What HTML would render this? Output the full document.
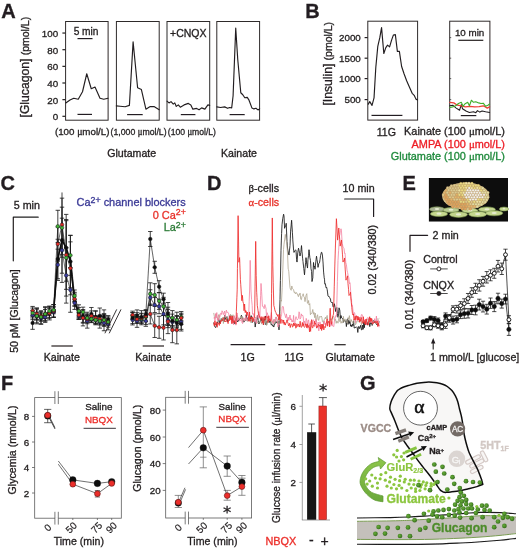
<!DOCTYPE html>
<html lang="en">
<head>
<meta charset="utf-8">
<title>Figure</title>
<style>
html,body{margin:0;padding:0;background:#fff;}
body{width:520px;height:550px;overflow:hidden;}
svg{display:block;font-family:"Liberation Sans",Arial,sans-serif;}
</style>
</head>
<body>
<svg width="520" height="550" viewBox="0 0 520 550">
<defs><filter id="soft" x="0" y="0" width="520" height="550" filterUnits="userSpaceOnUse"><feGaussianBlur stdDeviation="0.38"/></filter></defs>
<rect x="0" y="0" width="520" height="550" fill="#ffffff"/>
<g filter="url(#soft)">
<text x="1.2" y="18.3" font-size="20" fill="#231f20" stroke="#231f20" stroke-width="0.32" text-anchor="start" font-weight="bold" >A</text>
<text transform="translate(29.2 117.5) rotate(-90)" fill="#231f20" stroke="#231f20" stroke-width="0.32"><tspan font-size="12.2">[Glucagon]</tspan><tspan font-size="10.5" dx="3.2">(pmol/L)</tspan></text>
<text x="58.2" y="120.3" font-size="9.8" fill="#231f20" stroke="#231f20" stroke-width="0.32" text-anchor="end" font-weight="normal" >0</text>
<line x1="62.4" y1="116.3" x2="65.5" y2="116.3" stroke="#231f20" stroke-width="1.2" stroke-linecap="butt"/>
<text x="58.2" y="103.65" font-size="9.8" fill="#231f20" stroke="#231f20" stroke-width="0.32" text-anchor="end" font-weight="normal" >20</text>
<line x1="62.4" y1="99.65" x2="65.5" y2="99.65" stroke="#231f20" stroke-width="1.2" stroke-linecap="butt"/>
<text x="58.2" y="87" font-size="9.8" fill="#231f20" stroke="#231f20" stroke-width="0.32" text-anchor="end" font-weight="normal" >40</text>
<line x1="62.4" y1="83" x2="65.5" y2="83" stroke="#231f20" stroke-width="1.2" stroke-linecap="butt"/>
<text x="58.2" y="70.35" font-size="9.8" fill="#231f20" stroke="#231f20" stroke-width="0.32" text-anchor="end" font-weight="normal" >60</text>
<line x1="62.4" y1="66.35" x2="65.5" y2="66.35" stroke="#231f20" stroke-width="1.2" stroke-linecap="butt"/>
<text x="58.2" y="53.7" font-size="9.8" fill="#231f20" stroke="#231f20" stroke-width="0.32" text-anchor="end" font-weight="normal" >80</text>
<line x1="62.4" y1="49.7" x2="65.5" y2="49.7" stroke="#231f20" stroke-width="1.2" stroke-linecap="butt"/>
<text x="58.2" y="37.05" font-size="9.8" fill="#231f20" stroke="#231f20" stroke-width="0.32" text-anchor="end" font-weight="normal" >100</text>
<line x1="62.4" y1="33.05" x2="65.5" y2="33.05" stroke="#231f20" stroke-width="1.2" stroke-linecap="butt"/>
<rect x="65.6" y="21.5" width="42.5" height="98.7" fill="none" stroke="#2e2a2b" stroke-width="1"/>
<rect x="116.4" y="21.5" width="42.8" height="98.7" fill="none" stroke="#2e2a2b" stroke-width="1"/>
<rect x="167" y="21.5" width="42.7" height="98.7" fill="none" stroke="#2e2a2b" stroke-width="1"/>
<rect x="216.8" y="21.5" width="42.8" height="98.7" fill="none" stroke="#2e2a2b" stroke-width="1"/>
<text x="86.1" y="34.7" font-size="10.2" fill="#231f20" stroke="#231f20" stroke-width="0.32" text-anchor="middle" font-weight="normal" >5 min</text>
<line x1="77.5" y1="38.6" x2="92.5" y2="38.6" stroke="#231f20" stroke-width="1.2" stroke-linecap="butt"/>
<polyline points="65.75,103 70,100 73.75,98.25 78.25,99.25 82.5,91.75 86.75,73.75 91.25,88.75 95,87 100,98.25 103.75,99.25 108,98.25" fill="none" stroke="#231f20" stroke-width="1.15" stroke-linejoin="round" stroke-linecap="round" />
<line x1="77.5" y1="114.4" x2="92" y2="114.4" stroke="#231f20" stroke-width="1.2" stroke-linecap="butt"/>
<polyline points="116.3,105.9 120,106.3 125.1,106.8 129.4,105.4 133.1,41.9 137.6,87.8 141.4,89.6 145.9,109.2 150.2,106.6 154,106.6 159.2,109.7" fill="none" stroke="#231f20" stroke-width="1.15" stroke-linejoin="round" stroke-linecap="round" />
<line x1="127.1" y1="114.6" x2="142.7" y2="114.6" stroke="#231f20" stroke-width="1.2" stroke-linecap="butt"/>
<polyline points="167,101.13 169.01,102.89 171.02,101.63 173.27,104.14 174.78,102.89 176.29,106.4 178.29,104.89 180.3,107.15 184.07,104.89 188.33,103.39 190.84,104.89 192.85,109.16 196.61,108.41 199.12,109.66 201.63,107.9 204.89,109.16 207.9,104.89 209.66,105.4" fill="none" stroke="#231f20" stroke-width="1.15" stroke-linejoin="round" stroke-linecap="round" />
<line x1="180.8" y1="114.6" x2="195.4" y2="114.6" stroke="#231f20" stroke-width="1.2" stroke-linecap="butt"/>
<text x="170" y="36.6" font-size="10.5" fill="#231f20" stroke="#231f20" stroke-width="0.32" text-anchor="start" font-weight="normal" >+CNQX</text>
<polyline points="216.8,106.88 220.58,107.49 224.62,106.88 227.65,108.3 229.67,107.49 231.69,107.89 233.1,95.78 235.73,28.13 237.75,59.43 240.78,92.75 242.79,94.77 244.81,97.79 247.24,97.39 248.85,99.81 251.88,107.89 253.9,108.9 255.92,108.3 257.94,109.91 259.6,108.9" fill="none" stroke="#231f20" stroke-width="1.15" stroke-linejoin="round" stroke-linecap="round" />
<line x1="229.6" y1="114.6" x2="244.7" y2="114.6" stroke="#231f20" stroke-width="1.2" stroke-linecap="butt"/>
<text x="54.9" y="134.7" font-size="9.7" fill="#231f20" stroke="#231f20" stroke-width="0.32" text-anchor="start" font-weight="normal" textLength="54.6" lengthAdjust="spacingAndGlyphs">(100 <tspan font-family='"Liberation Serif", "DejaVu Serif", serif'>μ</tspan>mol/L)</text>
<text x="110.6" y="134.7" font-size="9.7" fill="#231f20" stroke="#231f20" stroke-width="0.32" text-anchor="start" font-weight="normal" textLength="56" lengthAdjust="spacingAndGlyphs">(1,000 <tspan font-family='"Liberation Serif", "DejaVu Serif", serif'>μ</tspan>mol/L)</text>
<text x="167.8" y="134.7" font-size="9.7" fill="#231f20" stroke="#231f20" stroke-width="0.32" text-anchor="start" font-weight="normal" textLength="48.2" lengthAdjust="spacingAndGlyphs">(100 <tspan font-family='"Liberation Serif", "DejaVu Serif", serif'>μ</tspan>mol/L)</text>
<text x="131.7" y="156.5" font-size="10.6" fill="#231f20" stroke="#231f20" stroke-width="0.32" text-anchor="middle" font-weight="normal" >Glutamate</text>
<text x="239" y="156.5" font-size="10.6" fill="#231f20" stroke="#231f20" stroke-width="0.32" text-anchor="middle" font-weight="normal" >Kainate</text>
<text x="305.2" y="17.8" font-size="20" fill="#231f20" stroke="#231f20" stroke-width="0.32" text-anchor="start" font-weight="bold" >B</text>
<text transform="translate(331.8 105.6) rotate(-90)" fill="#231f20" stroke="#231f20" stroke-width="0.32"><tspan font-size="12.2">[Insulin]</tspan><tspan font-size="10.5" dx="3.2">(pmol/L)</tspan></text>
<text x="360.8" y="41.4" font-size="9.8" fill="#231f20" stroke="#231f20" stroke-width="0.32" text-anchor="end" font-weight="normal" >2000</text>
<line x1="364.6" y1="37.6" x2="367.8" y2="37.6" stroke="#231f20" stroke-width="1.2" stroke-linecap="butt"/>
<line x1="449.7" y1="37.6" x2="451.2" y2="37.6" stroke="#231f20" stroke-width="0.7" stroke-linecap="butt"/>
<text x="360.8" y="62" font-size="9.8" fill="#231f20" stroke="#231f20" stroke-width="0.32" text-anchor="end" font-weight="normal" >1500</text>
<line x1="364.6" y1="58.2" x2="367.8" y2="58.2" stroke="#231f20" stroke-width="1.2" stroke-linecap="butt"/>
<line x1="449.7" y1="58.2" x2="451.2" y2="58.2" stroke="#231f20" stroke-width="0.7" stroke-linecap="butt"/>
<text x="360.8" y="82.4" font-size="9.8" fill="#231f20" stroke="#231f20" stroke-width="0.32" text-anchor="end" font-weight="normal" >1000</text>
<line x1="364.6" y1="78.6" x2="367.8" y2="78.6" stroke="#231f20" stroke-width="1.2" stroke-linecap="butt"/>
<line x1="449.7" y1="78.6" x2="451.2" y2="78.6" stroke="#231f20" stroke-width="0.7" stroke-linecap="butt"/>
<text x="360.8" y="103.4" font-size="9.8" fill="#231f20" stroke="#231f20" stroke-width="0.32" text-anchor="end" font-weight="normal" >500</text>
<line x1="364.6" y1="99.6" x2="367.8" y2="99.6" stroke="#231f20" stroke-width="1.2" stroke-linecap="butt"/>
<line x1="449.7" y1="99.6" x2="451.2" y2="99.6" stroke="#231f20" stroke-width="0.7" stroke-linecap="butt"/>
<rect x="367.8" y="21.2" width="49.8" height="98.9" fill="none" stroke="#2e2a2b" stroke-width="1"/>
<rect x="449.7" y="21.2" width="40.2" height="98.9" fill="none" stroke="#2e2a2b" stroke-width="1"/>
<polyline points="368.26,104.14 369.76,101.63 372.02,105.4 374.03,97.87 375.78,67.75 377.79,46.42 379.8,37.64 381.56,27.6 383.81,53.45 385.82,47.68 387.58,45.17 389.59,46.93 391.59,40.15 393.35,35.13 395.36,34.63 397.37,51.44 399.37,51.44 401.63,66.5 404.14,74.03 406.65,80.8 409.16,86.57 412.17,93.35 414.18,95.36 415.93,99.12 417.44,99.87" fill="none" stroke="#231f20" stroke-width="1.15" stroke-linejoin="round" stroke-linecap="round" />
<line x1="371.5" y1="115.4" x2="402.4" y2="115.4" stroke="#231f20" stroke-width="1.2" stroke-linecap="butt"/>
<text x="469.6" y="36.2" font-size="9.8" fill="#231f20" stroke="#231f20" stroke-width="0.32" text-anchor="middle" font-weight="normal" >10 min</text>
<line x1="458.3" y1="40.3" x2="483.3" y2="40.3" stroke="#231f20" stroke-width="1.2" stroke-linecap="butt"/>
<polyline points="449.8,105.8 452.7,105.2 456.2,108.1 459.6,110.2 461.3,104.6 462.5,108.7 466,111 469.4,112.5 473.5,111.8 475.8,112.7 477.5,110.6 479.8,112.1 482.1,111 485.6,111.8 489.6,112.5" fill="none" stroke="#231f20" stroke-width="1.1" stroke-linejoin="round" stroke-linecap="round" />
<polyline points="449.8,102.3 453.8,102.9 457.3,105.2 461.3,105.8 465.4,106.9 470,106.3 474.6,106.9 479.2,106.7 483.3,105.8 487.3,108.1 489.6,106.9" fill="none" stroke="#ee3f37" stroke-width="1.3" stroke-linejoin="round" stroke-linecap="round" />
<polyline points="449.8,107.5 452.7,106.9 455.6,105.8 458.5,103.5 461.3,102.3 463.1,106.3 464.8,104 467.7,102.3 469.4,105.8 471.4,100.2 473.5,102.3 475.8,101.7 478.7,102.9 481,103.5 483.3,103.2 485.6,106.3 487.9,105.2 489.6,104" fill="none" stroke="#3fae2a" stroke-width="1.1" stroke-linejoin="round" stroke-linecap="round" />
<line x1="460.8" y1="115.6" x2="476.3" y2="115.6" stroke="#231f20" stroke-width="1.2" stroke-linecap="butt"/>
<text x="386.4" y="135.8" font-size="10.6" fill="#231f20" stroke="#231f20" stroke-width="0.32" text-anchor="middle" font-weight="normal" >11G</text>
<text x="505" y="135.3" font-size="10.9" fill="#231f20" stroke="#231f20" stroke-width="0.32" text-anchor="end" font-weight="normal" >Kainate (100 <tspan font-family='"Liberation Serif", "DejaVu Serif", serif'>μ</tspan>mol/L)</text>
<text x="505" y="147.5" font-size="10.9" fill="#ed1c24" stroke="#ed1c24" stroke-width="0.32" text-anchor="end" font-weight="normal" >AMPA (100 <tspan font-family='"Liberation Serif", "DejaVu Serif", serif'>μ</tspan>mol/L)</text>
<text x="505" y="159.9" font-size="10.9" fill="#1f8a3c" stroke="#1f8a3c" stroke-width="0.32" text-anchor="end" font-weight="normal" >Glutamate (100 <tspan font-family='"Liberation Serif", "DejaVu Serif", serif'>μ</tspan>mol/L)</text>
<text x="0.6" y="189.8" font-size="20" fill="#231f20" stroke="#231f20" stroke-width="0.32" text-anchor="start" font-weight="bold" >C</text>
<text x="13.8" y="209.2" font-size="10.7" fill="#231f20" stroke="#231f20" stroke-width="0.32" text-anchor="start" font-weight="normal" >5 min</text>
<polyline points="38.2,217.2 13.3,217.2 13.3,260.8" fill="none" stroke="#231f20" stroke-width="1.2" stroke-linejoin="round" stroke-linecap="round" stroke-linecap="butt" stroke-linejoin="miter"/>
<text x="17.6" y="352.8" font-size="10.6" fill="#231f20" stroke="#231f20" stroke-width="0.32" text-anchor="start" font-weight="normal" transform="rotate(-90 17.6 352.8)" >50 pM [Glucagon]</text>
<text x="76.6" y="206.4" font-size="10.95" fill="#3b3a96" stroke="#3b3a96" stroke-width="0.32" text-anchor="start" font-weight="normal" >Ca<tspan font-size="8.8" dy="-3.6">2+</tspan><tspan dy="3.6"> channel blockers</tspan></text>
<text x="185.9" y="219" font-size="10.95" fill="#e8342c" stroke="#e8342c" stroke-width="0.32" text-anchor="end" font-weight="normal" >0 Ca<tspan font-size="8.8" dy="-3.6">2+</tspan></text>
<text x="185.9" y="231.4" font-size="10.95" fill="#2f7d3a" stroke="#2f7d3a" stroke-width="0.32" text-anchor="end" font-weight="normal" >La<tspan font-size="8.8" dy="-3.6">2+</tspan></text>
<line x1="32.6" y1="310.38" x2="32.6" y2="319.62" stroke="#161616" stroke-width="0.8" stroke-linecap="butt"/>
<line x1="30.4" y1="310.38" x2="34.8" y2="310.38" stroke="#161616" stroke-width="0.8" stroke-linecap="butt"/>
<line x1="30.4" y1="319.62" x2="34.8" y2="319.62" stroke="#161616" stroke-width="0.8" stroke-linecap="butt"/>
<line x1="36.8" y1="312.25" x2="36.8" y2="319.75" stroke="#161616" stroke-width="0.8" stroke-linecap="butt"/>
<line x1="34.6" y1="312.25" x2="39" y2="312.25" stroke="#161616" stroke-width="0.8" stroke-linecap="butt"/>
<line x1="34.6" y1="319.75" x2="39" y2="319.75" stroke="#161616" stroke-width="0.8" stroke-linecap="butt"/>
<line x1="41" y1="311.75" x2="41" y2="324.25" stroke="#161616" stroke-width="0.8" stroke-linecap="butt"/>
<line x1="38.8" y1="311.75" x2="43.2" y2="311.75" stroke="#161616" stroke-width="0.8" stroke-linecap="butt"/>
<line x1="38.8" y1="324.25" x2="43.2" y2="324.25" stroke="#161616" stroke-width="0.8" stroke-linecap="butt"/>
<line x1="45.2" y1="313.64" x2="45.2" y2="320.36" stroke="#161616" stroke-width="0.8" stroke-linecap="butt"/>
<line x1="43" y1="313.64" x2="47.4" y2="313.64" stroke="#161616" stroke-width="0.8" stroke-linecap="butt"/>
<line x1="43" y1="320.36" x2="47.4" y2="320.36" stroke="#161616" stroke-width="0.8" stroke-linecap="butt"/>
<line x1="49.4" y1="307.32" x2="49.4" y2="318.68" stroke="#161616" stroke-width="0.8" stroke-linecap="butt"/>
<line x1="47.2" y1="307.32" x2="51.6" y2="307.32" stroke="#161616" stroke-width="0.8" stroke-linecap="butt"/>
<line x1="47.2" y1="318.68" x2="51.6" y2="318.68" stroke="#161616" stroke-width="0.8" stroke-linecap="butt"/>
<line x1="53.6" y1="307.17" x2="53.6" y2="316.83" stroke="#161616" stroke-width="0.8" stroke-linecap="butt"/>
<line x1="51.4" y1="307.17" x2="55.8" y2="307.17" stroke="#161616" stroke-width="0.8" stroke-linecap="butt"/>
<line x1="51.4" y1="316.83" x2="55.8" y2="316.83" stroke="#161616" stroke-width="0.8" stroke-linecap="butt"/>
<line x1="57.8" y1="249.16" x2="57.8" y2="280.44" stroke="#161616" stroke-width="0.8" stroke-linecap="butt"/>
<line x1="55.6" y1="249.16" x2="60" y2="249.16" stroke="#161616" stroke-width="0.8" stroke-linecap="butt"/>
<line x1="55.6" y1="280.44" x2="60" y2="280.44" stroke="#161616" stroke-width="0.8" stroke-linecap="butt"/>
<line x1="62" y1="218.2" x2="62" y2="282.4" stroke="#161616" stroke-width="0.8" stroke-linecap="butt"/>
<line x1="59.8" y1="218.2" x2="64.2" y2="218.2" stroke="#161616" stroke-width="0.8" stroke-linecap="butt"/>
<line x1="59.8" y1="282.4" x2="64.2" y2="282.4" stroke="#161616" stroke-width="0.8" stroke-linecap="butt"/>
<line x1="66.2" y1="247.69" x2="66.2" y2="303.11" stroke="#161616" stroke-width="0.8" stroke-linecap="butt"/>
<line x1="64" y1="247.69" x2="68.4" y2="247.69" stroke="#161616" stroke-width="0.8" stroke-linecap="butt"/>
<line x1="64" y1="303.11" x2="68.4" y2="303.11" stroke="#161616" stroke-width="0.8" stroke-linecap="butt"/>
<line x1="70.4" y1="267.51" x2="70.4" y2="312.29" stroke="#161616" stroke-width="0.8" stroke-linecap="butt"/>
<line x1="68.2" y1="267.51" x2="72.6" y2="267.51" stroke="#161616" stroke-width="0.8" stroke-linecap="butt"/>
<line x1="68.2" y1="312.29" x2="72.6" y2="312.29" stroke="#161616" stroke-width="0.8" stroke-linecap="butt"/>
<line x1="74.6" y1="299.65" x2="74.6" y2="306.35" stroke="#161616" stroke-width="0.8" stroke-linecap="butt"/>
<line x1="72.4" y1="299.65" x2="76.8" y2="299.65" stroke="#161616" stroke-width="0.8" stroke-linecap="butt"/>
<line x1="72.4" y1="306.35" x2="76.8" y2="306.35" stroke="#161616" stroke-width="0.8" stroke-linecap="butt"/>
<line x1="78.8" y1="312.55" x2="78.8" y2="319.45" stroke="#161616" stroke-width="0.8" stroke-linecap="butt"/>
<line x1="76.6" y1="312.55" x2="81" y2="312.55" stroke="#161616" stroke-width="0.8" stroke-linecap="butt"/>
<line x1="76.6" y1="319.45" x2="81" y2="319.45" stroke="#161616" stroke-width="0.8" stroke-linecap="butt"/>
<line x1="83" y1="312.88" x2="83" y2="323.12" stroke="#161616" stroke-width="0.8" stroke-linecap="butt"/>
<line x1="80.8" y1="312.88" x2="85.2" y2="312.88" stroke="#161616" stroke-width="0.8" stroke-linecap="butt"/>
<line x1="80.8" y1="323.12" x2="85.2" y2="323.12" stroke="#161616" stroke-width="0.8" stroke-linecap="butt"/>
<line x1="87.2" y1="313.87" x2="87.2" y2="328.13" stroke="#161616" stroke-width="0.8" stroke-linecap="butt"/>
<line x1="85" y1="313.87" x2="89.4" y2="313.87" stroke="#161616" stroke-width="0.8" stroke-linecap="butt"/>
<line x1="85" y1="328.13" x2="89.4" y2="328.13" stroke="#161616" stroke-width="0.8" stroke-linecap="butt"/>
<line x1="91.4" y1="315.38" x2="91.4" y2="322.62" stroke="#161616" stroke-width="0.8" stroke-linecap="butt"/>
<line x1="89.2" y1="315.38" x2="93.6" y2="315.38" stroke="#161616" stroke-width="0.8" stroke-linecap="butt"/>
<line x1="89.2" y1="322.62" x2="93.6" y2="322.62" stroke="#161616" stroke-width="0.8" stroke-linecap="butt"/>
<line x1="95.6" y1="315.88" x2="95.6" y2="324.12" stroke="#161616" stroke-width="0.8" stroke-linecap="butt"/>
<line x1="93.4" y1="315.88" x2="97.8" y2="315.88" stroke="#161616" stroke-width="0.8" stroke-linecap="butt"/>
<line x1="93.4" y1="324.12" x2="97.8" y2="324.12" stroke="#161616" stroke-width="0.8" stroke-linecap="butt"/>
<line x1="99.8" y1="315.86" x2="99.8" y2="328.14" stroke="#161616" stroke-width="0.8" stroke-linecap="butt"/>
<line x1="97.6" y1="315.86" x2="102" y2="315.86" stroke="#161616" stroke-width="0.8" stroke-linecap="butt"/>
<line x1="97.6" y1="328.14" x2="102" y2="328.14" stroke="#161616" stroke-width="0.8" stroke-linecap="butt"/>
<line x1="104" y1="315.26" x2="104" y2="330.74" stroke="#161616" stroke-width="0.8" stroke-linecap="butt"/>
<line x1="101.8" y1="315.26" x2="106.2" y2="315.26" stroke="#161616" stroke-width="0.8" stroke-linecap="butt"/>
<line x1="101.8" y1="330.74" x2="106.2" y2="330.74" stroke="#161616" stroke-width="0.8" stroke-linecap="butt"/>
<line x1="108.2" y1="318.11" x2="108.2" y2="329.89" stroke="#161616" stroke-width="0.8" stroke-linecap="butt"/>
<line x1="106" y1="318.11" x2="110.4" y2="318.11" stroke="#161616" stroke-width="0.8" stroke-linecap="butt"/>
<line x1="106" y1="329.89" x2="110.4" y2="329.89" stroke="#161616" stroke-width="0.8" stroke-linecap="butt"/>
<line x1="32.6" y1="308.02" x2="32.6" y2="317.98" stroke="#161616" stroke-width="0.8" stroke-linecap="butt"/>
<line x1="30.4" y1="308.02" x2="34.8" y2="308.02" stroke="#161616" stroke-width="0.8" stroke-linecap="butt"/>
<line x1="30.4" y1="317.98" x2="34.8" y2="317.98" stroke="#161616" stroke-width="0.8" stroke-linecap="butt"/>
<line x1="36.8" y1="308.12" x2="36.8" y2="323.88" stroke="#161616" stroke-width="0.8" stroke-linecap="butt"/>
<line x1="34.6" y1="308.12" x2="39" y2="308.12" stroke="#161616" stroke-width="0.8" stroke-linecap="butt"/>
<line x1="34.6" y1="323.88" x2="39" y2="323.88" stroke="#161616" stroke-width="0.8" stroke-linecap="butt"/>
<line x1="41" y1="313.77" x2="41" y2="320.23" stroke="#161616" stroke-width="0.8" stroke-linecap="butt"/>
<line x1="38.8" y1="313.77" x2="43.2" y2="313.77" stroke="#161616" stroke-width="0.8" stroke-linecap="butt"/>
<line x1="38.8" y1="320.23" x2="43.2" y2="320.23" stroke="#161616" stroke-width="0.8" stroke-linecap="butt"/>
<line x1="45.2" y1="306.71" x2="45.2" y2="321.29" stroke="#161616" stroke-width="0.8" stroke-linecap="butt"/>
<line x1="43" y1="306.71" x2="47.4" y2="306.71" stroke="#161616" stroke-width="0.8" stroke-linecap="butt"/>
<line x1="43" y1="321.29" x2="47.4" y2="321.29" stroke="#161616" stroke-width="0.8" stroke-linecap="butt"/>
<line x1="49.4" y1="306.55" x2="49.4" y2="315.45" stroke="#161616" stroke-width="0.8" stroke-linecap="butt"/>
<line x1="47.2" y1="306.55" x2="51.6" y2="306.55" stroke="#161616" stroke-width="0.8" stroke-linecap="butt"/>
<line x1="47.2" y1="315.45" x2="51.6" y2="315.45" stroke="#161616" stroke-width="0.8" stroke-linecap="butt"/>
<line x1="53.6" y1="306.28" x2="53.6" y2="313.72" stroke="#161616" stroke-width="0.8" stroke-linecap="butt"/>
<line x1="51.4" y1="306.28" x2="55.8" y2="306.28" stroke="#161616" stroke-width="0.8" stroke-linecap="butt"/>
<line x1="51.4" y1="313.72" x2="55.8" y2="313.72" stroke="#161616" stroke-width="0.8" stroke-linecap="butt"/>
<line x1="57.8" y1="210.3" x2="57.8" y2="242.5" stroke="#161616" stroke-width="0.8" stroke-linecap="butt"/>
<line x1="55.6" y1="210.3" x2="60" y2="210.3" stroke="#161616" stroke-width="0.8" stroke-linecap="butt"/>
<line x1="55.6" y1="242.5" x2="60" y2="242.5" stroke="#161616" stroke-width="0.8" stroke-linecap="butt"/>
<line x1="62" y1="198.15" x2="62" y2="257.25" stroke="#161616" stroke-width="0.8" stroke-linecap="butt"/>
<line x1="59.8" y1="198.15" x2="64.2" y2="198.15" stroke="#161616" stroke-width="0.8" stroke-linecap="butt"/>
<line x1="59.8" y1="257.25" x2="64.2" y2="257.25" stroke="#161616" stroke-width="0.8" stroke-linecap="butt"/>
<line x1="66.2" y1="219.5" x2="66.2" y2="296.1" stroke="#161616" stroke-width="0.8" stroke-linecap="butt"/>
<line x1="64" y1="219.5" x2="68.4" y2="219.5" stroke="#161616" stroke-width="0.8" stroke-linecap="butt"/>
<line x1="64" y1="296.1" x2="68.4" y2="296.1" stroke="#161616" stroke-width="0.8" stroke-linecap="butt"/>
<line x1="70.4" y1="235.24" x2="70.4" y2="275.36" stroke="#161616" stroke-width="0.8" stroke-linecap="butt"/>
<line x1="68.2" y1="235.24" x2="72.6" y2="235.24" stroke="#161616" stroke-width="0.8" stroke-linecap="butt"/>
<line x1="68.2" y1="275.36" x2="72.6" y2="275.36" stroke="#161616" stroke-width="0.8" stroke-linecap="butt"/>
<line x1="74.6" y1="289.99" x2="74.6" y2="301.81" stroke="#161616" stroke-width="0.8" stroke-linecap="butt"/>
<line x1="72.4" y1="289.99" x2="76.8" y2="289.99" stroke="#161616" stroke-width="0.8" stroke-linecap="butt"/>
<line x1="72.4" y1="301.81" x2="76.8" y2="301.81" stroke="#161616" stroke-width="0.8" stroke-linecap="butt"/>
<line x1="78.8" y1="304.81" x2="78.8" y2="317.19" stroke="#161616" stroke-width="0.8" stroke-linecap="butt"/>
<line x1="76.6" y1="304.81" x2="81" y2="304.81" stroke="#161616" stroke-width="0.8" stroke-linecap="butt"/>
<line x1="76.6" y1="317.19" x2="81" y2="317.19" stroke="#161616" stroke-width="0.8" stroke-linecap="butt"/>
<line x1="83" y1="307.14" x2="83" y2="316.86" stroke="#161616" stroke-width="0.8" stroke-linecap="butt"/>
<line x1="80.8" y1="307.14" x2="85.2" y2="307.14" stroke="#161616" stroke-width="0.8" stroke-linecap="butt"/>
<line x1="80.8" y1="316.86" x2="85.2" y2="316.86" stroke="#161616" stroke-width="0.8" stroke-linecap="butt"/>
<line x1="87.2" y1="312.26" x2="87.2" y2="323.74" stroke="#161616" stroke-width="0.8" stroke-linecap="butt"/>
<line x1="85" y1="312.26" x2="89.4" y2="312.26" stroke="#161616" stroke-width="0.8" stroke-linecap="butt"/>
<line x1="85" y1="323.74" x2="89.4" y2="323.74" stroke="#161616" stroke-width="0.8" stroke-linecap="butt"/>
<line x1="91.4" y1="315.69" x2="91.4" y2="322.31" stroke="#161616" stroke-width="0.8" stroke-linecap="butt"/>
<line x1="89.2" y1="315.69" x2="93.6" y2="315.69" stroke="#161616" stroke-width="0.8" stroke-linecap="butt"/>
<line x1="89.2" y1="322.31" x2="93.6" y2="322.31" stroke="#161616" stroke-width="0.8" stroke-linecap="butt"/>
<line x1="95.6" y1="316.7" x2="95.6" y2="323.3" stroke="#161616" stroke-width="0.8" stroke-linecap="butt"/>
<line x1="93.4" y1="316.7" x2="97.8" y2="316.7" stroke="#161616" stroke-width="0.8" stroke-linecap="butt"/>
<line x1="93.4" y1="323.3" x2="97.8" y2="323.3" stroke="#161616" stroke-width="0.8" stroke-linecap="butt"/>
<line x1="99.8" y1="316.97" x2="99.8" y2="325.03" stroke="#161616" stroke-width="0.8" stroke-linecap="butt"/>
<line x1="97.6" y1="316.97" x2="102" y2="316.97" stroke="#161616" stroke-width="0.8" stroke-linecap="butt"/>
<line x1="97.6" y1="325.03" x2="102" y2="325.03" stroke="#161616" stroke-width="0.8" stroke-linecap="butt"/>
<line x1="104" y1="313.6" x2="104" y2="326.4" stroke="#161616" stroke-width="0.8" stroke-linecap="butt"/>
<line x1="101.8" y1="313.6" x2="106.2" y2="313.6" stroke="#161616" stroke-width="0.8" stroke-linecap="butt"/>
<line x1="101.8" y1="326.4" x2="106.2" y2="326.4" stroke="#161616" stroke-width="0.8" stroke-linecap="butt"/>
<line x1="108.2" y1="316.86" x2="108.2" y2="327.14" stroke="#161616" stroke-width="0.8" stroke-linecap="butt"/>
<line x1="106" y1="316.86" x2="110.4" y2="316.86" stroke="#161616" stroke-width="0.8" stroke-linecap="butt"/>
<line x1="106" y1="327.14" x2="110.4" y2="327.14" stroke="#161616" stroke-width="0.8" stroke-linecap="butt"/>
<line x1="32.6" y1="306.43" x2="32.6" y2="315.57" stroke="#161616" stroke-width="0.8" stroke-linecap="butt"/>
<line x1="30.4" y1="306.43" x2="34.8" y2="306.43" stroke="#161616" stroke-width="0.8" stroke-linecap="butt"/>
<line x1="30.4" y1="315.57" x2="34.8" y2="315.57" stroke="#161616" stroke-width="0.8" stroke-linecap="butt"/>
<line x1="36.8" y1="308.07" x2="36.8" y2="319.93" stroke="#161616" stroke-width="0.8" stroke-linecap="butt"/>
<line x1="34.6" y1="308.07" x2="39" y2="308.07" stroke="#161616" stroke-width="0.8" stroke-linecap="butt"/>
<line x1="34.6" y1="319.93" x2="39" y2="319.93" stroke="#161616" stroke-width="0.8" stroke-linecap="butt"/>
<line x1="41" y1="310.73" x2="41" y2="321.27" stroke="#161616" stroke-width="0.8" stroke-linecap="butt"/>
<line x1="38.8" y1="310.73" x2="43.2" y2="310.73" stroke="#161616" stroke-width="0.8" stroke-linecap="butt"/>
<line x1="38.8" y1="321.27" x2="43.2" y2="321.27" stroke="#161616" stroke-width="0.8" stroke-linecap="butt"/>
<line x1="45.2" y1="309.5" x2="45.2" y2="318.5" stroke="#161616" stroke-width="0.8" stroke-linecap="butt"/>
<line x1="43" y1="309.5" x2="47.4" y2="309.5" stroke="#161616" stroke-width="0.8" stroke-linecap="butt"/>
<line x1="43" y1="318.5" x2="47.4" y2="318.5" stroke="#161616" stroke-width="0.8" stroke-linecap="butt"/>
<line x1="49.4" y1="306.03" x2="49.4" y2="319.97" stroke="#161616" stroke-width="0.8" stroke-linecap="butt"/>
<line x1="47.2" y1="306.03" x2="51.6" y2="306.03" stroke="#161616" stroke-width="0.8" stroke-linecap="butt"/>
<line x1="47.2" y1="319.97" x2="51.6" y2="319.97" stroke="#161616" stroke-width="0.8" stroke-linecap="butt"/>
<line x1="53.6" y1="304.51" x2="53.6" y2="317.49" stroke="#161616" stroke-width="0.8" stroke-linecap="butt"/>
<line x1="51.4" y1="304.51" x2="55.8" y2="304.51" stroke="#161616" stroke-width="0.8" stroke-linecap="butt"/>
<line x1="51.4" y1="317.49" x2="55.8" y2="317.49" stroke="#161616" stroke-width="0.8" stroke-linecap="butt"/>
<line x1="57.8" y1="226.94" x2="57.8" y2="261.06" stroke="#161616" stroke-width="0.8" stroke-linecap="butt"/>
<line x1="55.6" y1="226.94" x2="60" y2="226.94" stroke="#161616" stroke-width="0.8" stroke-linecap="butt"/>
<line x1="55.6" y1="261.06" x2="60" y2="261.06" stroke="#161616" stroke-width="0.8" stroke-linecap="butt"/>
<line x1="62" y1="192.5" x2="62" y2="254.7" stroke="#161616" stroke-width="0.8" stroke-linecap="butt"/>
<line x1="59.8" y1="254.7" x2="64.2" y2="254.7" stroke="#161616" stroke-width="0.8" stroke-linecap="butt"/>
<line x1="66.2" y1="220.66" x2="66.2" y2="289.34" stroke="#161616" stroke-width="0.8" stroke-linecap="butt"/>
<line x1="64" y1="220.66" x2="68.4" y2="220.66" stroke="#161616" stroke-width="0.8" stroke-linecap="butt"/>
<line x1="64" y1="289.34" x2="68.4" y2="289.34" stroke="#161616" stroke-width="0.8" stroke-linecap="butt"/>
<line x1="70.4" y1="241.85" x2="70.4" y2="294.75" stroke="#161616" stroke-width="0.8" stroke-linecap="butt"/>
<line x1="68.2" y1="241.85" x2="72.6" y2="241.85" stroke="#161616" stroke-width="0.8" stroke-linecap="butt"/>
<line x1="68.2" y1="294.75" x2="72.6" y2="294.75" stroke="#161616" stroke-width="0.8" stroke-linecap="butt"/>
<line x1="74.6" y1="292.35" x2="74.6" y2="305.65" stroke="#161616" stroke-width="0.8" stroke-linecap="butt"/>
<line x1="72.4" y1="292.35" x2="76.8" y2="292.35" stroke="#161616" stroke-width="0.8" stroke-linecap="butt"/>
<line x1="72.4" y1="305.65" x2="76.8" y2="305.65" stroke="#161616" stroke-width="0.8" stroke-linecap="butt"/>
<line x1="78.8" y1="310.56" x2="78.8" y2="319.44" stroke="#161616" stroke-width="0.8" stroke-linecap="butt"/>
<line x1="76.6" y1="310.56" x2="81" y2="310.56" stroke="#161616" stroke-width="0.8" stroke-linecap="butt"/>
<line x1="76.6" y1="319.44" x2="81" y2="319.44" stroke="#161616" stroke-width="0.8" stroke-linecap="butt"/>
<line x1="83" y1="310.1" x2="83" y2="325.9" stroke="#161616" stroke-width="0.8" stroke-linecap="butt"/>
<line x1="80.8" y1="310.1" x2="85.2" y2="310.1" stroke="#161616" stroke-width="0.8" stroke-linecap="butt"/>
<line x1="80.8" y1="325.9" x2="85.2" y2="325.9" stroke="#161616" stroke-width="0.8" stroke-linecap="butt"/>
<line x1="87.2" y1="315.41" x2="87.2" y2="322.59" stroke="#161616" stroke-width="0.8" stroke-linecap="butt"/>
<line x1="85" y1="315.41" x2="89.4" y2="315.41" stroke="#161616" stroke-width="0.8" stroke-linecap="butt"/>
<line x1="85" y1="322.59" x2="89.4" y2="322.59" stroke="#161616" stroke-width="0.8" stroke-linecap="butt"/>
<line x1="91.4" y1="310.91" x2="91.4" y2="321.09" stroke="#161616" stroke-width="0.8" stroke-linecap="butt"/>
<line x1="89.2" y1="310.91" x2="93.6" y2="310.91" stroke="#161616" stroke-width="0.8" stroke-linecap="butt"/>
<line x1="89.2" y1="321.09" x2="93.6" y2="321.09" stroke="#161616" stroke-width="0.8" stroke-linecap="butt"/>
<line x1="95.6" y1="311.21" x2="95.6" y2="324.79" stroke="#161616" stroke-width="0.8" stroke-linecap="butt"/>
<line x1="93.4" y1="311.21" x2="97.8" y2="311.21" stroke="#161616" stroke-width="0.8" stroke-linecap="butt"/>
<line x1="93.4" y1="324.79" x2="97.8" y2="324.79" stroke="#161616" stroke-width="0.8" stroke-linecap="butt"/>
<line x1="99.8" y1="315.24" x2="99.8" y2="322.76" stroke="#161616" stroke-width="0.8" stroke-linecap="butt"/>
<line x1="97.6" y1="315.24" x2="102" y2="315.24" stroke="#161616" stroke-width="0.8" stroke-linecap="butt"/>
<line x1="97.6" y1="322.76" x2="102" y2="322.76" stroke="#161616" stroke-width="0.8" stroke-linecap="butt"/>
<line x1="104" y1="314.56" x2="104" y2="325.44" stroke="#161616" stroke-width="0.8" stroke-linecap="butt"/>
<line x1="101.8" y1="314.56" x2="106.2" y2="314.56" stroke="#161616" stroke-width="0.8" stroke-linecap="butt"/>
<line x1="101.8" y1="325.44" x2="106.2" y2="325.44" stroke="#161616" stroke-width="0.8" stroke-linecap="butt"/>
<line x1="108.2" y1="318.8" x2="108.2" y2="325.2" stroke="#161616" stroke-width="0.8" stroke-linecap="butt"/>
<line x1="106" y1="318.8" x2="110.4" y2="318.8" stroke="#161616" stroke-width="0.8" stroke-linecap="butt"/>
<line x1="106" y1="325.2" x2="110.4" y2="325.2" stroke="#161616" stroke-width="0.8" stroke-linecap="butt"/>
<line x1="32.6" y1="316.66" x2="32.6" y2="329.34" stroke="#161616" stroke-width="0.8" stroke-linecap="butt"/>
<line x1="30.4" y1="316.66" x2="34.8" y2="316.66" stroke="#161616" stroke-width="0.8" stroke-linecap="butt"/>
<line x1="30.4" y1="329.34" x2="34.8" y2="329.34" stroke="#161616" stroke-width="0.8" stroke-linecap="butt"/>
<line x1="36.8" y1="309.18" x2="36.8" y2="322.82" stroke="#161616" stroke-width="0.8" stroke-linecap="butt"/>
<line x1="34.6" y1="309.18" x2="39" y2="309.18" stroke="#161616" stroke-width="0.8" stroke-linecap="butt"/>
<line x1="34.6" y1="322.82" x2="39" y2="322.82" stroke="#161616" stroke-width="0.8" stroke-linecap="butt"/>
<line x1="41" y1="312.13" x2="41" y2="323.87" stroke="#161616" stroke-width="0.8" stroke-linecap="butt"/>
<line x1="38.8" y1="312.13" x2="43.2" y2="312.13" stroke="#161616" stroke-width="0.8" stroke-linecap="butt"/>
<line x1="38.8" y1="323.87" x2="43.2" y2="323.87" stroke="#161616" stroke-width="0.8" stroke-linecap="butt"/>
<line x1="45.2" y1="307.62" x2="45.2" y2="322.38" stroke="#161616" stroke-width="0.8" stroke-linecap="butt"/>
<line x1="43" y1="307.62" x2="47.4" y2="307.62" stroke="#161616" stroke-width="0.8" stroke-linecap="butt"/>
<line x1="43" y1="322.38" x2="47.4" y2="322.38" stroke="#161616" stroke-width="0.8" stroke-linecap="butt"/>
<line x1="49.4" y1="308.43" x2="49.4" y2="317.57" stroke="#161616" stroke-width="0.8" stroke-linecap="butt"/>
<line x1="47.2" y1="308.43" x2="51.6" y2="308.43" stroke="#161616" stroke-width="0.8" stroke-linecap="butt"/>
<line x1="47.2" y1="317.57" x2="51.6" y2="317.57" stroke="#161616" stroke-width="0.8" stroke-linecap="butt"/>
<line x1="53.6" y1="304.52" x2="53.6" y2="317.48" stroke="#161616" stroke-width="0.8" stroke-linecap="butt"/>
<line x1="51.4" y1="304.52" x2="55.8" y2="304.52" stroke="#161616" stroke-width="0.8" stroke-linecap="butt"/>
<line x1="51.4" y1="317.48" x2="55.8" y2="317.48" stroke="#161616" stroke-width="0.8" stroke-linecap="butt"/>
<line x1="57.8" y1="239.28" x2="57.8" y2="278.72" stroke="#161616" stroke-width="0.8" stroke-linecap="butt"/>
<line x1="55.6" y1="239.28" x2="60" y2="239.28" stroke="#161616" stroke-width="0.8" stroke-linecap="butt"/>
<line x1="55.6" y1="278.72" x2="60" y2="278.72" stroke="#161616" stroke-width="0.8" stroke-linecap="butt"/>
<line x1="62" y1="207.18" x2="62" y2="273.22" stroke="#161616" stroke-width="0.8" stroke-linecap="butt"/>
<line x1="59.8" y1="207.18" x2="64.2" y2="207.18" stroke="#161616" stroke-width="0.8" stroke-linecap="butt"/>
<line x1="59.8" y1="273.22" x2="64.2" y2="273.22" stroke="#161616" stroke-width="0.8" stroke-linecap="butt"/>
<line x1="66.2" y1="214.4" x2="66.2" y2="281.2" stroke="#161616" stroke-width="0.8" stroke-linecap="butt"/>
<line x1="64" y1="214.4" x2="68.4" y2="214.4" stroke="#161616" stroke-width="0.8" stroke-linecap="butt"/>
<line x1="64" y1="281.2" x2="68.4" y2="281.2" stroke="#161616" stroke-width="0.8" stroke-linecap="butt"/>
<line x1="70.4" y1="235.47" x2="70.4" y2="287.73" stroke="#161616" stroke-width="0.8" stroke-linecap="butt"/>
<line x1="68.2" y1="235.47" x2="72.6" y2="235.47" stroke="#161616" stroke-width="0.8" stroke-linecap="butt"/>
<line x1="68.2" y1="287.73" x2="72.6" y2="287.73" stroke="#161616" stroke-width="0.8" stroke-linecap="butt"/>
<line x1="74.6" y1="293.98" x2="74.6" y2="309.42" stroke="#161616" stroke-width="0.8" stroke-linecap="butt"/>
<line x1="72.4" y1="293.98" x2="76.8" y2="293.98" stroke="#161616" stroke-width="0.8" stroke-linecap="butt"/>
<line x1="72.4" y1="309.42" x2="76.8" y2="309.42" stroke="#161616" stroke-width="0.8" stroke-linecap="butt"/>
<line x1="78.8" y1="307.63" x2="78.8" y2="318.37" stroke="#161616" stroke-width="0.8" stroke-linecap="butt"/>
<line x1="76.6" y1="307.63" x2="81" y2="307.63" stroke="#161616" stroke-width="0.8" stroke-linecap="butt"/>
<line x1="76.6" y1="318.37" x2="81" y2="318.37" stroke="#161616" stroke-width="0.8" stroke-linecap="butt"/>
<line x1="83" y1="309.68" x2="83" y2="322.32" stroke="#161616" stroke-width="0.8" stroke-linecap="butt"/>
<line x1="80.8" y1="309.68" x2="85.2" y2="309.68" stroke="#161616" stroke-width="0.8" stroke-linecap="butt"/>
<line x1="80.8" y1="322.32" x2="85.2" y2="322.32" stroke="#161616" stroke-width="0.8" stroke-linecap="butt"/>
<line x1="87.2" y1="314.7" x2="87.2" y2="321.3" stroke="#161616" stroke-width="0.8" stroke-linecap="butt"/>
<line x1="85" y1="314.7" x2="89.4" y2="314.7" stroke="#161616" stroke-width="0.8" stroke-linecap="butt"/>
<line x1="85" y1="321.3" x2="89.4" y2="321.3" stroke="#161616" stroke-width="0.8" stroke-linecap="butt"/>
<line x1="91.4" y1="307.49" x2="91.4" y2="320.51" stroke="#161616" stroke-width="0.8" stroke-linecap="butt"/>
<line x1="89.2" y1="307.49" x2="93.6" y2="307.49" stroke="#161616" stroke-width="0.8" stroke-linecap="butt"/>
<line x1="89.2" y1="320.51" x2="93.6" y2="320.51" stroke="#161616" stroke-width="0.8" stroke-linecap="butt"/>
<line x1="95.6" y1="310.76" x2="95.6" y2="323.24" stroke="#161616" stroke-width="0.8" stroke-linecap="butt"/>
<line x1="93.4" y1="310.76" x2="97.8" y2="310.76" stroke="#161616" stroke-width="0.8" stroke-linecap="butt"/>
<line x1="93.4" y1="323.24" x2="97.8" y2="323.24" stroke="#161616" stroke-width="0.8" stroke-linecap="butt"/>
<line x1="99.8" y1="308.03" x2="99.8" y2="323.97" stroke="#161616" stroke-width="0.8" stroke-linecap="butt"/>
<line x1="97.6" y1="308.03" x2="102" y2="308.03" stroke="#161616" stroke-width="0.8" stroke-linecap="butt"/>
<line x1="97.6" y1="323.97" x2="102" y2="323.97" stroke="#161616" stroke-width="0.8" stroke-linecap="butt"/>
<line x1="104" y1="309.89" x2="104" y2="324.11" stroke="#161616" stroke-width="0.8" stroke-linecap="butt"/>
<line x1="101.8" y1="309.89" x2="106.2" y2="309.89" stroke="#161616" stroke-width="0.8" stroke-linecap="butt"/>
<line x1="101.8" y1="324.11" x2="106.2" y2="324.11" stroke="#161616" stroke-width="0.8" stroke-linecap="butt"/>
<line x1="108.2" y1="315.58" x2="108.2" y2="324.42" stroke="#161616" stroke-width="0.8" stroke-linecap="butt"/>
<line x1="106" y1="315.58" x2="110.4" y2="315.58" stroke="#161616" stroke-width="0.8" stroke-linecap="butt"/>
<line x1="106" y1="324.42" x2="110.4" y2="324.42" stroke="#161616" stroke-width="0.8" stroke-linecap="butt"/>
<polyline points="32.6,315 36.8,316 41,318 45.2,317 49.4,313 53.6,312 57.8,264.8 62,250.3 66.2,275.4 70.4,289.9 74.6,303 78.8,316 83,318 87.2,321 91.4,319 95.6,320 99.8,322 104,323 108.2,324" fill="none" stroke="#222" stroke-width="0.65" stroke-linejoin="round" stroke-linecap="round" />
<polyline points="32.6,313 36.8,316 41,317 45.2,314 49.4,311 53.6,310 57.8,226.4 62,227.7 66.2,257.8 70.4,255.3 74.6,295.9 78.8,311 83,312 87.2,318 91.4,319 95.6,320 99.8,321 104,320 108.2,322" fill="none" stroke="#222" stroke-width="0.65" stroke-linejoin="round" stroke-linecap="round" />
<polyline points="32.6,311 36.8,314 41,316 45.2,314 49.4,313 53.6,311 57.8,244 62,224.7 66.2,255 70.4,268.3 74.6,299 78.8,315 83,318 87.2,319 91.4,316 95.6,318 99.8,319 104,320 108.2,322" fill="none" stroke="#222" stroke-width="0.65" stroke-linejoin="round" stroke-linecap="round" />
<polyline points="32.6,323 36.8,316 41,318 45.2,315 49.4,313 53.6,311 57.8,259 62,240.2 66.2,247.8 70.4,261.6 74.6,301.7 78.8,313 83,316 87.2,318 91.4,314 95.6,317 99.8,316 104,317 108.2,320" fill="none" stroke="#222" stroke-width="0.65" stroke-linejoin="round" stroke-linecap="round" />
<polyline points="53.6,311 57.8,259 62,240.2 66.2,247.8 70.4,261.6 74.6,301.7 78.8,313" fill="none" stroke="#111" stroke-width="1.6" stroke-linejoin="round" stroke-linecap="round" />
<circle cx="32.6" cy="323" r="1.8" fill="#111111" stroke="#111" stroke-width="0.5"/>
<circle cx="36.8" cy="316" r="1.8" fill="#111111" stroke="#111" stroke-width="0.5"/>
<circle cx="41" cy="318" r="1.8" fill="#111111" stroke="#111" stroke-width="0.5"/>
<circle cx="45.2" cy="315" r="1.8" fill="#111111" stroke="#111" stroke-width="0.5"/>
<circle cx="49.4" cy="313" r="1.8" fill="#111111" stroke="#111" stroke-width="0.5"/>
<rect x="51.7" y="309.1" width="3.8" height="3.8" fill="#111" stroke="#111" stroke-width="0.3"/>
<circle cx="57.8" cy="259" r="1.8" fill="#111111" stroke="#111" stroke-width="0.5"/>
<circle cx="62" cy="240.2" r="1.8" fill="#111111" stroke="#111" stroke-width="0.5"/>
<circle cx="66.2" cy="247.8" r="1.8" fill="#111111" stroke="#111" stroke-width="0.5"/>
<circle cx="70.4" cy="261.6" r="1.8" fill="#111111" stroke="#111" stroke-width="0.5"/>
<circle cx="74.6" cy="301.7" r="1.8" fill="#111111" stroke="#111" stroke-width="0.5"/>
<circle cx="78.8" cy="313" r="1.8" fill="#111111" stroke="#111" stroke-width="0.5"/>
<circle cx="83" cy="316" r="1.8" fill="#111111" stroke="#111" stroke-width="0.5"/>
<circle cx="87.2" cy="318" r="1.8" fill="#111111" stroke="#111" stroke-width="0.5"/>
<circle cx="91.4" cy="314" r="1.8" fill="#111111" stroke="#111" stroke-width="0.5"/>
<circle cx="95.6" cy="317" r="1.8" fill="#111111" stroke="#111" stroke-width="0.5"/>
<circle cx="99.8" cy="316" r="1.8" fill="#111111" stroke="#111" stroke-width="0.5"/>
<circle cx="104" cy="317" r="1.8" fill="#111111" stroke="#111" stroke-width="0.5"/>
<circle cx="108.2" cy="320" r="1.8" fill="#111111" stroke="#111" stroke-width="0.5"/>
<circle cx="32.6" cy="315" r="1.8" fill="#3a3ca0" stroke="#111" stroke-width="0.5"/>
<circle cx="36.8" cy="316" r="1.8" fill="#3a3ca0" stroke="#111" stroke-width="0.5"/>
<circle cx="41" cy="318" r="1.8" fill="#3a3ca0" stroke="#111" stroke-width="0.5"/>
<circle cx="45.2" cy="317" r="1.8" fill="#3a3ca0" stroke="#111" stroke-width="0.5"/>
<circle cx="49.4" cy="313" r="1.8" fill="#3a3ca0" stroke="#111" stroke-width="0.5"/>
<circle cx="53.6" cy="312" r="1.8" fill="#3a3ca0" stroke="#111" stroke-width="0.5"/>
<circle cx="57.8" cy="264.8" r="1.8" fill="#3a3ca0" stroke="#111" stroke-width="0.5"/>
<circle cx="62" cy="250.3" r="1.8" fill="#3a3ca0" stroke="#111" stroke-width="0.5"/>
<circle cx="66.2" cy="275.4" r="1.8" fill="#3a3ca0" stroke="#111" stroke-width="0.5"/>
<circle cx="70.4" cy="289.9" r="1.8" fill="#3a3ca0" stroke="#111" stroke-width="0.5"/>
<circle cx="74.6" cy="303" r="1.8" fill="#3a3ca0" stroke="#111" stroke-width="0.5"/>
<circle cx="78.8" cy="316" r="1.8" fill="#3a3ca0" stroke="#111" stroke-width="0.5"/>
<circle cx="83" cy="318" r="1.8" fill="#3a3ca0" stroke="#111" stroke-width="0.5"/>
<circle cx="87.2" cy="321" r="1.8" fill="#3a3ca0" stroke="#111" stroke-width="0.5"/>
<circle cx="91.4" cy="319" r="1.8" fill="#3a3ca0" stroke="#111" stroke-width="0.5"/>
<circle cx="95.6" cy="320" r="1.8" fill="#3a3ca0" stroke="#111" stroke-width="0.5"/>
<circle cx="99.8" cy="322" r="1.8" fill="#3a3ca0" stroke="#111" stroke-width="0.5"/>
<circle cx="104" cy="323" r="1.8" fill="#3a3ca0" stroke="#111" stroke-width="0.5"/>
<circle cx="108.2" cy="324" r="1.8" fill="#3a3ca0" stroke="#111" stroke-width="0.5"/>
<circle cx="32.6" cy="311" r="1.8" fill="#e02a25" stroke="#111" stroke-width="0.5"/>
<circle cx="36.8" cy="314" r="1.8" fill="#e02a25" stroke="#111" stroke-width="0.5"/>
<circle cx="41" cy="316" r="1.8" fill="#e02a25" stroke="#111" stroke-width="0.5"/>
<circle cx="45.2" cy="314" r="1.8" fill="#e02a25" stroke="#111" stroke-width="0.5"/>
<circle cx="49.4" cy="313" r="1.8" fill="#e02a25" stroke="#111" stroke-width="0.5"/>
<circle cx="53.6" cy="311" r="1.8" fill="#e02a25" stroke="#111" stroke-width="0.5"/>
<circle cx="57.8" cy="244" r="1.8" fill="#e02a25" stroke="#111" stroke-width="0.5"/>
<circle cx="62" cy="224.7" r="1.8" fill="#e02a25" stroke="#111" stroke-width="0.5"/>
<circle cx="66.2" cy="255" r="1.8" fill="#e02a25" stroke="#111" stroke-width="0.5"/>
<circle cx="70.4" cy="268.3" r="1.8" fill="#e02a25" stroke="#111" stroke-width="0.5"/>
<circle cx="74.6" cy="299" r="1.8" fill="#e02a25" stroke="#111" stroke-width="0.5"/>
<circle cx="78.8" cy="315" r="1.8" fill="#e02a25" stroke="#111" stroke-width="0.5"/>
<circle cx="83" cy="318" r="1.8" fill="#e02a25" stroke="#111" stroke-width="0.5"/>
<circle cx="87.2" cy="319" r="1.8" fill="#e02a25" stroke="#111" stroke-width="0.5"/>
<circle cx="91.4" cy="316" r="1.8" fill="#e02a25" stroke="#111" stroke-width="0.5"/>
<circle cx="95.6" cy="318" r="1.8" fill="#e02a25" stroke="#111" stroke-width="0.5"/>
<circle cx="99.8" cy="319" r="1.8" fill="#e02a25" stroke="#111" stroke-width="0.5"/>
<circle cx="104" cy="320" r="1.8" fill="#e02a25" stroke="#111" stroke-width="0.5"/>
<circle cx="108.2" cy="322" r="1.8" fill="#e02a25" stroke="#111" stroke-width="0.5"/>
<circle cx="32.6" cy="313" r="1.8" fill="#3fb236" stroke="#111" stroke-width="0.5"/>
<circle cx="36.8" cy="316" r="1.8" fill="#3fb236" stroke="#111" stroke-width="0.5"/>
<circle cx="41" cy="317" r="1.8" fill="#3fb236" stroke="#111" stroke-width="0.5"/>
<circle cx="45.2" cy="314" r="1.8" fill="#3fb236" stroke="#111" stroke-width="0.5"/>
<circle cx="49.4" cy="311" r="1.8" fill="#3fb236" stroke="#111" stroke-width="0.5"/>
<circle cx="53.6" cy="310" r="1.8" fill="#3fb236" stroke="#111" stroke-width="0.5"/>
<circle cx="57.8" cy="226.4" r="1.8" fill="#3fb236" stroke="#111" stroke-width="0.5"/>
<circle cx="62" cy="227.7" r="1.8" fill="#3fb236" stroke="#111" stroke-width="0.5"/>
<circle cx="66.2" cy="257.8" r="1.8" fill="#3fb236" stroke="#111" stroke-width="0.5"/>
<circle cx="70.4" cy="255.3" r="1.8" fill="#3fb236" stroke="#111" stroke-width="0.5"/>
<circle cx="74.6" cy="295.9" r="1.8" fill="#3fb236" stroke="#111" stroke-width="0.5"/>
<circle cx="78.8" cy="311" r="1.8" fill="#3fb236" stroke="#111" stroke-width="0.5"/>
<circle cx="83" cy="312" r="1.8" fill="#3fb236" stroke="#111" stroke-width="0.5"/>
<circle cx="87.2" cy="318" r="1.8" fill="#3fb236" stroke="#111" stroke-width="0.5"/>
<circle cx="91.4" cy="319" r="1.8" fill="#3fb236" stroke="#111" stroke-width="0.5"/>
<circle cx="95.6" cy="320" r="1.8" fill="#3fb236" stroke="#111" stroke-width="0.5"/>
<circle cx="99.8" cy="321" r="1.8" fill="#3fb236" stroke="#111" stroke-width="0.5"/>
<circle cx="104" cy="320" r="1.8" fill="#3fb236" stroke="#111" stroke-width="0.5"/>
<circle cx="108.2" cy="322" r="1.8" fill="#3fb236" stroke="#111" stroke-width="0.5"/>
<line x1="104.9" y1="333.3" x2="116.7" y2="309.4" stroke="#231f20" stroke-width="0.9" stroke-linecap="butt"/>
<line x1="109.2" y1="333.3" x2="121" y2="309.4" stroke="#231f20" stroke-width="0.9" stroke-linecap="butt"/>
<line x1="51.4" y1="346" x2="72.8" y2="346" stroke="#231f20" stroke-width="1.2" stroke-linecap="butt"/>
<text x="61.8" y="360.5" font-size="10.7" fill="#231f20" stroke="#231f20" stroke-width="0.32" text-anchor="middle" font-weight="normal" >Kainate</text>
<line x1="132.6" y1="315.07" x2="132.6" y2="324.93" stroke="#161616" stroke-width="0.8" stroke-linecap="butt"/>
<line x1="130.4" y1="315.07" x2="134.8" y2="315.07" stroke="#161616" stroke-width="0.8" stroke-linecap="butt"/>
<line x1="130.4" y1="324.93" x2="134.8" y2="324.93" stroke="#161616" stroke-width="0.8" stroke-linecap="butt"/>
<line x1="137.02" y1="314.66" x2="137.02" y2="327.34" stroke="#161616" stroke-width="0.8" stroke-linecap="butt"/>
<line x1="134.82" y1="314.66" x2="139.22" y2="314.66" stroke="#161616" stroke-width="0.8" stroke-linecap="butt"/>
<line x1="134.82" y1="327.34" x2="139.22" y2="327.34" stroke="#161616" stroke-width="0.8" stroke-linecap="butt"/>
<line x1="141.44" y1="316.89" x2="141.44" y2="323.11" stroke="#161616" stroke-width="0.8" stroke-linecap="butt"/>
<line x1="139.24" y1="316.89" x2="143.64" y2="316.89" stroke="#161616" stroke-width="0.8" stroke-linecap="butt"/>
<line x1="139.24" y1="323.11" x2="143.64" y2="323.11" stroke="#161616" stroke-width="0.8" stroke-linecap="butt"/>
<line x1="145.86" y1="315.69" x2="145.86" y2="326.31" stroke="#161616" stroke-width="0.8" stroke-linecap="butt"/>
<line x1="143.66" y1="315.69" x2="148.06" y2="315.69" stroke="#161616" stroke-width="0.8" stroke-linecap="butt"/>
<line x1="143.66" y1="326.31" x2="148.06" y2="326.31" stroke="#161616" stroke-width="0.8" stroke-linecap="butt"/>
<line x1="150.28" y1="289.76" x2="150.28" y2="305.44" stroke="#161616" stroke-width="0.8" stroke-linecap="butt"/>
<line x1="148.08" y1="289.76" x2="152.48" y2="289.76" stroke="#161616" stroke-width="0.8" stroke-linecap="butt"/>
<line x1="148.08" y1="305.44" x2="152.48" y2="305.44" stroke="#161616" stroke-width="0.8" stroke-linecap="butt"/>
<line x1="154.7" y1="297.41" x2="154.7" y2="312.59" stroke="#161616" stroke-width="0.8" stroke-linecap="butt"/>
<line x1="152.5" y1="297.41" x2="156.9" y2="297.41" stroke="#161616" stroke-width="0.8" stroke-linecap="butt"/>
<line x1="152.5" y1="312.59" x2="156.9" y2="312.59" stroke="#161616" stroke-width="0.8" stroke-linecap="butt"/>
<line x1="159.12" y1="299.11" x2="159.12" y2="313.69" stroke="#161616" stroke-width="0.8" stroke-linecap="butt"/>
<line x1="156.92" y1="299.11" x2="161.32" y2="299.11" stroke="#161616" stroke-width="0.8" stroke-linecap="butt"/>
<line x1="156.92" y1="313.69" x2="161.32" y2="313.69" stroke="#161616" stroke-width="0.8" stroke-linecap="butt"/>
<line x1="163.54" y1="303.16" x2="163.54" y2="324.84" stroke="#161616" stroke-width="0.8" stroke-linecap="butt"/>
<line x1="161.34" y1="303.16" x2="165.74" y2="303.16" stroke="#161616" stroke-width="0.8" stroke-linecap="butt"/>
<line x1="161.34" y1="324.84" x2="165.74" y2="324.84" stroke="#161616" stroke-width="0.8" stroke-linecap="butt"/>
<line x1="167.96" y1="312.35" x2="167.96" y2="327.65" stroke="#161616" stroke-width="0.8" stroke-linecap="butt"/>
<line x1="165.76" y1="312.35" x2="170.16" y2="312.35" stroke="#161616" stroke-width="0.8" stroke-linecap="butt"/>
<line x1="165.76" y1="327.65" x2="170.16" y2="327.65" stroke="#161616" stroke-width="0.8" stroke-linecap="butt"/>
<line x1="172.38" y1="317.76" x2="172.38" y2="326.24" stroke="#161616" stroke-width="0.8" stroke-linecap="butt"/>
<line x1="170.18" y1="317.76" x2="174.58" y2="317.76" stroke="#161616" stroke-width="0.8" stroke-linecap="butt"/>
<line x1="170.18" y1="326.24" x2="174.58" y2="326.24" stroke="#161616" stroke-width="0.8" stroke-linecap="butt"/>
<line x1="176.8" y1="316.05" x2="176.8" y2="325.95" stroke="#161616" stroke-width="0.8" stroke-linecap="butt"/>
<line x1="174.6" y1="316.05" x2="179" y2="316.05" stroke="#161616" stroke-width="0.8" stroke-linecap="butt"/>
<line x1="174.6" y1="325.95" x2="179" y2="325.95" stroke="#161616" stroke-width="0.8" stroke-linecap="butt"/>
<line x1="181.22" y1="314.64" x2="181.22" y2="329.36" stroke="#161616" stroke-width="0.8" stroke-linecap="butt"/>
<line x1="179.02" y1="314.64" x2="183.42" y2="314.64" stroke="#161616" stroke-width="0.8" stroke-linecap="butt"/>
<line x1="179.02" y1="329.36" x2="183.42" y2="329.36" stroke="#161616" stroke-width="0.8" stroke-linecap="butt"/>
<line x1="132.6" y1="312.6" x2="132.6" y2="319.4" stroke="#161616" stroke-width="0.8" stroke-linecap="butt"/>
<line x1="130.4" y1="312.6" x2="134.8" y2="312.6" stroke="#161616" stroke-width="0.8" stroke-linecap="butt"/>
<line x1="130.4" y1="319.4" x2="134.8" y2="319.4" stroke="#161616" stroke-width="0.8" stroke-linecap="butt"/>
<line x1="137.02" y1="312.75" x2="137.02" y2="323.25" stroke="#161616" stroke-width="0.8" stroke-linecap="butt"/>
<line x1="134.82" y1="312.75" x2="139.22" y2="312.75" stroke="#161616" stroke-width="0.8" stroke-linecap="butt"/>
<line x1="134.82" y1="323.25" x2="139.22" y2="323.25" stroke="#161616" stroke-width="0.8" stroke-linecap="butt"/>
<line x1="141.44" y1="313.25" x2="141.44" y2="324.75" stroke="#161616" stroke-width="0.8" stroke-linecap="butt"/>
<line x1="139.24" y1="313.25" x2="143.64" y2="313.25" stroke="#161616" stroke-width="0.8" stroke-linecap="butt"/>
<line x1="139.24" y1="324.75" x2="143.64" y2="324.75" stroke="#161616" stroke-width="0.8" stroke-linecap="butt"/>
<line x1="145.86" y1="309.58" x2="145.86" y2="324.42" stroke="#161616" stroke-width="0.8" stroke-linecap="butt"/>
<line x1="143.66" y1="309.58" x2="148.06" y2="309.58" stroke="#161616" stroke-width="0.8" stroke-linecap="butt"/>
<line x1="143.66" y1="324.42" x2="148.06" y2="324.42" stroke="#161616" stroke-width="0.8" stroke-linecap="butt"/>
<line x1="150.28" y1="282.8" x2="150.28" y2="305" stroke="#161616" stroke-width="0.8" stroke-linecap="butt"/>
<line x1="148.08" y1="282.8" x2="152.48" y2="282.8" stroke="#161616" stroke-width="0.8" stroke-linecap="butt"/>
<line x1="148.08" y1="305" x2="152.48" y2="305" stroke="#161616" stroke-width="0.8" stroke-linecap="butt"/>
<line x1="154.7" y1="283.68" x2="154.7" y2="306.32" stroke="#161616" stroke-width="0.8" stroke-linecap="butt"/>
<line x1="152.5" y1="283.68" x2="156.9" y2="283.68" stroke="#161616" stroke-width="0.8" stroke-linecap="butt"/>
<line x1="152.5" y1="306.32" x2="156.9" y2="306.32" stroke="#161616" stroke-width="0.8" stroke-linecap="butt"/>
<line x1="159.12" y1="292.61" x2="159.12" y2="309.39" stroke="#161616" stroke-width="0.8" stroke-linecap="butt"/>
<line x1="156.92" y1="292.61" x2="161.32" y2="292.61" stroke="#161616" stroke-width="0.8" stroke-linecap="butt"/>
<line x1="156.92" y1="309.39" x2="161.32" y2="309.39" stroke="#161616" stroke-width="0.8" stroke-linecap="butt"/>
<line x1="163.54" y1="297.32" x2="163.54" y2="315.48" stroke="#161616" stroke-width="0.8" stroke-linecap="butt"/>
<line x1="161.34" y1="297.32" x2="165.74" y2="297.32" stroke="#161616" stroke-width="0.8" stroke-linecap="butt"/>
<line x1="161.34" y1="315.48" x2="165.74" y2="315.48" stroke="#161616" stroke-width="0.8" stroke-linecap="butt"/>
<line x1="167.96" y1="307.21" x2="167.96" y2="324.79" stroke="#161616" stroke-width="0.8" stroke-linecap="butt"/>
<line x1="165.76" y1="307.21" x2="170.16" y2="307.21" stroke="#161616" stroke-width="0.8" stroke-linecap="butt"/>
<line x1="165.76" y1="324.79" x2="170.16" y2="324.79" stroke="#161616" stroke-width="0.8" stroke-linecap="butt"/>
<line x1="172.38" y1="310.58" x2="172.38" y2="325.42" stroke="#161616" stroke-width="0.8" stroke-linecap="butt"/>
<line x1="170.18" y1="310.58" x2="174.58" y2="310.58" stroke="#161616" stroke-width="0.8" stroke-linecap="butt"/>
<line x1="170.18" y1="325.42" x2="174.58" y2="325.42" stroke="#161616" stroke-width="0.8" stroke-linecap="butt"/>
<line x1="176.8" y1="312.21" x2="176.8" y2="327.79" stroke="#161616" stroke-width="0.8" stroke-linecap="butt"/>
<line x1="174.6" y1="312.21" x2="179" y2="312.21" stroke="#161616" stroke-width="0.8" stroke-linecap="butt"/>
<line x1="174.6" y1="327.79" x2="179" y2="327.79" stroke="#161616" stroke-width="0.8" stroke-linecap="butt"/>
<line x1="181.22" y1="313.25" x2="181.22" y2="320.75" stroke="#161616" stroke-width="0.8" stroke-linecap="butt"/>
<line x1="179.02" y1="313.25" x2="183.42" y2="313.25" stroke="#161616" stroke-width="0.8" stroke-linecap="butt"/>
<line x1="179.02" y1="320.75" x2="183.42" y2="320.75" stroke="#161616" stroke-width="0.8" stroke-linecap="butt"/>
<line x1="132.6" y1="311.12" x2="132.6" y2="318.88" stroke="#161616" stroke-width="0.8" stroke-linecap="butt"/>
<line x1="130.4" y1="311.12" x2="134.8" y2="311.12" stroke="#161616" stroke-width="0.8" stroke-linecap="butt"/>
<line x1="130.4" y1="318.88" x2="134.8" y2="318.88" stroke="#161616" stroke-width="0.8" stroke-linecap="butt"/>
<line x1="137.02" y1="314.84" x2="137.02" y2="323.16" stroke="#161616" stroke-width="0.8" stroke-linecap="butt"/>
<line x1="134.82" y1="314.84" x2="139.22" y2="314.84" stroke="#161616" stroke-width="0.8" stroke-linecap="butt"/>
<line x1="134.82" y1="323.16" x2="139.22" y2="323.16" stroke="#161616" stroke-width="0.8" stroke-linecap="butt"/>
<line x1="141.44" y1="313.83" x2="141.44" y2="322.17" stroke="#161616" stroke-width="0.8" stroke-linecap="butt"/>
<line x1="139.24" y1="313.83" x2="143.64" y2="313.83" stroke="#161616" stroke-width="0.8" stroke-linecap="butt"/>
<line x1="139.24" y1="322.17" x2="143.64" y2="322.17" stroke="#161616" stroke-width="0.8" stroke-linecap="butt"/>
<line x1="145.86" y1="310.58" x2="145.86" y2="321.42" stroke="#161616" stroke-width="0.8" stroke-linecap="butt"/>
<line x1="143.66" y1="310.58" x2="148.06" y2="310.58" stroke="#161616" stroke-width="0.8" stroke-linecap="butt"/>
<line x1="143.66" y1="321.42" x2="148.06" y2="321.42" stroke="#161616" stroke-width="0.8" stroke-linecap="butt"/>
<line x1="150.28" y1="304.05" x2="150.28" y2="323.95" stroke="#161616" stroke-width="0.8" stroke-linecap="butt"/>
<line x1="148.08" y1="304.05" x2="152.48" y2="304.05" stroke="#161616" stroke-width="0.8" stroke-linecap="butt"/>
<line x1="148.08" y1="323.95" x2="152.48" y2="323.95" stroke="#161616" stroke-width="0.8" stroke-linecap="butt"/>
<line x1="154.7" y1="313.91" x2="154.7" y2="337.49" stroke="#161616" stroke-width="0.8" stroke-linecap="butt"/>
<line x1="152.5" y1="313.91" x2="156.9" y2="313.91" stroke="#161616" stroke-width="0.8" stroke-linecap="butt"/>
<line x1="152.5" y1="337.49" x2="156.9" y2="337.49" stroke="#161616" stroke-width="0.8" stroke-linecap="butt"/>
<line x1="159.12" y1="316.29" x2="159.12" y2="338.31" stroke="#161616" stroke-width="0.8" stroke-linecap="butt"/>
<line x1="156.92" y1="316.29" x2="161.32" y2="316.29" stroke="#161616" stroke-width="0.8" stroke-linecap="butt"/>
<line x1="156.92" y1="338.31" x2="161.32" y2="338.31" stroke="#161616" stroke-width="0.8" stroke-linecap="butt"/>
<line x1="163.54" y1="315.44" x2="163.54" y2="339.96" stroke="#161616" stroke-width="0.8" stroke-linecap="butt"/>
<line x1="161.34" y1="315.44" x2="165.74" y2="315.44" stroke="#161616" stroke-width="0.8" stroke-linecap="butt"/>
<line x1="161.34" y1="339.96" x2="165.74" y2="339.96" stroke="#161616" stroke-width="0.8" stroke-linecap="butt"/>
<line x1="167.96" y1="309.39" x2="167.96" y2="333.61" stroke="#161616" stroke-width="0.8" stroke-linecap="butt"/>
<line x1="165.76" y1="309.39" x2="170.16" y2="309.39" stroke="#161616" stroke-width="0.8" stroke-linecap="butt"/>
<line x1="165.76" y1="333.61" x2="170.16" y2="333.61" stroke="#161616" stroke-width="0.8" stroke-linecap="butt"/>
<line x1="172.38" y1="317.3" x2="172.38" y2="342.7" stroke="#161616" stroke-width="0.8" stroke-linecap="butt"/>
<line x1="170.18" y1="317.3" x2="174.58" y2="317.3" stroke="#161616" stroke-width="0.8" stroke-linecap="butt"/>
<line x1="170.18" y1="342.7" x2="174.58" y2="342.7" stroke="#161616" stroke-width="0.8" stroke-linecap="butt"/>
<line x1="176.8" y1="316.14" x2="176.8" y2="343.86" stroke="#161616" stroke-width="0.8" stroke-linecap="butt"/>
<line x1="174.6" y1="316.14" x2="179" y2="316.14" stroke="#161616" stroke-width="0.8" stroke-linecap="butt"/>
<line x1="174.6" y1="343.86" x2="179" y2="343.86" stroke="#161616" stroke-width="0.8" stroke-linecap="butt"/>
<line x1="181.22" y1="311.55" x2="181.22" y2="324.45" stroke="#161616" stroke-width="0.8" stroke-linecap="butt"/>
<line x1="179.02" y1="311.55" x2="183.42" y2="311.55" stroke="#161616" stroke-width="0.8" stroke-linecap="butt"/>
<line x1="179.02" y1="324.45" x2="183.42" y2="324.45" stroke="#161616" stroke-width="0.8" stroke-linecap="butt"/>
<line x1="132.6" y1="312.42" x2="132.6" y2="323.58" stroke="#161616" stroke-width="0.8" stroke-linecap="butt"/>
<line x1="130.4" y1="312.42" x2="134.8" y2="312.42" stroke="#161616" stroke-width="0.8" stroke-linecap="butt"/>
<line x1="130.4" y1="323.58" x2="134.8" y2="323.58" stroke="#161616" stroke-width="0.8" stroke-linecap="butt"/>
<line x1="137.02" y1="309.91" x2="137.02" y2="322.09" stroke="#161616" stroke-width="0.8" stroke-linecap="butt"/>
<line x1="134.82" y1="309.91" x2="139.22" y2="309.91" stroke="#161616" stroke-width="0.8" stroke-linecap="butt"/>
<line x1="134.82" y1="322.09" x2="139.22" y2="322.09" stroke="#161616" stroke-width="0.8" stroke-linecap="butt"/>
<line x1="141.44" y1="310.62" x2="141.44" y2="323.38" stroke="#161616" stroke-width="0.8" stroke-linecap="butt"/>
<line x1="139.24" y1="310.62" x2="143.64" y2="310.62" stroke="#161616" stroke-width="0.8" stroke-linecap="butt"/>
<line x1="139.24" y1="323.38" x2="143.64" y2="323.38" stroke="#161616" stroke-width="0.8" stroke-linecap="butt"/>
<line x1="145.86" y1="310.73" x2="145.86" y2="317.27" stroke="#161616" stroke-width="0.8" stroke-linecap="butt"/>
<line x1="143.66" y1="310.73" x2="148.06" y2="310.73" stroke="#161616" stroke-width="0.8" stroke-linecap="butt"/>
<line x1="143.66" y1="317.27" x2="148.06" y2="317.27" stroke="#161616" stroke-width="0.8" stroke-linecap="butt"/>
<line x1="150.28" y1="231.5" x2="150.28" y2="246.5" stroke="#161616" stroke-width="0.8" stroke-linecap="butt"/>
<line x1="148.08" y1="231.5" x2="152.48" y2="231.5" stroke="#161616" stroke-width="0.8" stroke-linecap="butt"/>
<line x1="148.08" y1="246.5" x2="152.48" y2="246.5" stroke="#161616" stroke-width="0.8" stroke-linecap="butt"/>
<line x1="154.7" y1="261.3" x2="154.7" y2="273.3" stroke="#161616" stroke-width="0.8" stroke-linecap="butt"/>
<line x1="152.5" y1="261.3" x2="156.9" y2="261.3" stroke="#161616" stroke-width="0.8" stroke-linecap="butt"/>
<line x1="152.5" y1="273.3" x2="156.9" y2="273.3" stroke="#161616" stroke-width="0.8" stroke-linecap="butt"/>
<line x1="159.12" y1="280.7" x2="159.12" y2="292.7" stroke="#161616" stroke-width="0.8" stroke-linecap="butt"/>
<line x1="156.92" y1="280.7" x2="161.32" y2="280.7" stroke="#161616" stroke-width="0.8" stroke-linecap="butt"/>
<line x1="156.92" y1="292.7" x2="161.32" y2="292.7" stroke="#161616" stroke-width="0.8" stroke-linecap="butt"/>
<line x1="163.54" y1="293.2" x2="163.54" y2="305.2" stroke="#161616" stroke-width="0.8" stroke-linecap="butt"/>
<line x1="161.34" y1="293.2" x2="165.74" y2="293.2" stroke="#161616" stroke-width="0.8" stroke-linecap="butt"/>
<line x1="161.34" y1="305.2" x2="165.74" y2="305.2" stroke="#161616" stroke-width="0.8" stroke-linecap="butt"/>
<line x1="167.96" y1="302.5" x2="167.96" y2="325.5" stroke="#161616" stroke-width="0.8" stroke-linecap="butt"/>
<line x1="165.76" y1="302.5" x2="170.16" y2="302.5" stroke="#161616" stroke-width="0.8" stroke-linecap="butt"/>
<line x1="165.76" y1="325.5" x2="170.16" y2="325.5" stroke="#161616" stroke-width="0.8" stroke-linecap="butt"/>
<line x1="172.38" y1="314.1" x2="172.38" y2="327.9" stroke="#161616" stroke-width="0.8" stroke-linecap="butt"/>
<line x1="170.18" y1="314.1" x2="174.58" y2="314.1" stroke="#161616" stroke-width="0.8" stroke-linecap="butt"/>
<line x1="170.18" y1="327.9" x2="174.58" y2="327.9" stroke="#161616" stroke-width="0.8" stroke-linecap="butt"/>
<line x1="176.8" y1="315.63" x2="176.8" y2="330.37" stroke="#161616" stroke-width="0.8" stroke-linecap="butt"/>
<line x1="174.6" y1="315.63" x2="179" y2="315.63" stroke="#161616" stroke-width="0.8" stroke-linecap="butt"/>
<line x1="174.6" y1="330.37" x2="179" y2="330.37" stroke="#161616" stroke-width="0.8" stroke-linecap="butt"/>
<line x1="181.22" y1="317.01" x2="181.22" y2="330.99" stroke="#161616" stroke-width="0.8" stroke-linecap="butt"/>
<line x1="179.02" y1="317.01" x2="183.42" y2="317.01" stroke="#161616" stroke-width="0.8" stroke-linecap="butt"/>
<line x1="179.02" y1="330.99" x2="183.42" y2="330.99" stroke="#161616" stroke-width="0.8" stroke-linecap="butt"/>
<polyline points="132.6,320 137.02,321 141.44,320 145.86,321 150.28,297.6 154.7,305 159.12,306.4 163.54,314 167.96,320 172.38,322 176.8,321 181.22,322" fill="none" stroke="#222" stroke-width="0.7" stroke-linejoin="round" stroke-linecap="round" />
<polyline points="132.6,316 137.02,318 141.44,319 145.86,317 150.28,293.9 154.7,295 159.12,301 163.54,306.4 167.96,316 172.38,318 176.8,320 181.22,317" fill="none" stroke="#222" stroke-width="0.7" stroke-linejoin="round" stroke-linecap="round" />
<polyline points="132.6,315 137.02,319 141.44,318 145.86,316 150.28,314 154.7,325.7 159.12,327.3 163.54,327.7 167.96,321.5 172.38,330 176.8,330 181.22,318" fill="none" stroke="#222" stroke-width="0.7" stroke-linejoin="round" stroke-linecap="round" />
<polyline points="132.6,318 137.02,316 141.44,317 145.86,314 150.28,239 154.7,267.3 159.12,286.7 163.54,299.2 167.96,314 172.38,321 176.8,323 181.22,324" fill="none" stroke="#222" stroke-width="0.7" stroke-linejoin="round" stroke-linecap="round" />
<circle cx="132.6" cy="320" r="1.8" fill="#3a3ca0" stroke="#111" stroke-width="0.5"/>
<circle cx="137.02" cy="321" r="1.8" fill="#3a3ca0" stroke="#111" stroke-width="0.5"/>
<circle cx="141.44" cy="320" r="1.8" fill="#3a3ca0" stroke="#111" stroke-width="0.5"/>
<circle cx="145.86" cy="321" r="1.8" fill="#3a3ca0" stroke="#111" stroke-width="0.5"/>
<circle cx="150.28" cy="297.6" r="1.8" fill="#3a3ca0" stroke="#111" stroke-width="0.5"/>
<circle cx="154.7" cy="305" r="1.8" fill="#3a3ca0" stroke="#111" stroke-width="0.5"/>
<circle cx="159.12" cy="306.4" r="1.8" fill="#3a3ca0" stroke="#111" stroke-width="0.5"/>
<circle cx="163.54" cy="314" r="1.8" fill="#3a3ca0" stroke="#111" stroke-width="0.5"/>
<circle cx="167.96" cy="320" r="1.8" fill="#3a3ca0" stroke="#111" stroke-width="0.5"/>
<circle cx="172.38" cy="322" r="1.8" fill="#3a3ca0" stroke="#111" stroke-width="0.5"/>
<circle cx="176.8" cy="321" r="1.8" fill="#3a3ca0" stroke="#111" stroke-width="0.5"/>
<circle cx="181.22" cy="322" r="1.8" fill="#3a3ca0" stroke="#111" stroke-width="0.5"/>
<circle cx="132.6" cy="316" r="1.8" fill="#3fb236" stroke="#111" stroke-width="0.5"/>
<circle cx="137.02" cy="318" r="1.8" fill="#3fb236" stroke="#111" stroke-width="0.5"/>
<circle cx="141.44" cy="319" r="1.8" fill="#3fb236" stroke="#111" stroke-width="0.5"/>
<circle cx="145.86" cy="317" r="1.8" fill="#3fb236" stroke="#111" stroke-width="0.5"/>
<circle cx="150.28" cy="293.9" r="1.8" fill="#3fb236" stroke="#111" stroke-width="0.5"/>
<circle cx="154.7" cy="295" r="1.8" fill="#3fb236" stroke="#111" stroke-width="0.5"/>
<circle cx="159.12" cy="301" r="1.8" fill="#3fb236" stroke="#111" stroke-width="0.5"/>
<circle cx="163.54" cy="306.4" r="1.8" fill="#3fb236" stroke="#111" stroke-width="0.5"/>
<circle cx="167.96" cy="316" r="1.8" fill="#3fb236" stroke="#111" stroke-width="0.5"/>
<circle cx="172.38" cy="318" r="1.8" fill="#3fb236" stroke="#111" stroke-width="0.5"/>
<circle cx="176.8" cy="320" r="1.8" fill="#3fb236" stroke="#111" stroke-width="0.5"/>
<circle cx="181.22" cy="317" r="1.8" fill="#3fb236" stroke="#111" stroke-width="0.5"/>
<circle cx="132.6" cy="315" r="1.8" fill="#e02a25" stroke="#111" stroke-width="0.5"/>
<circle cx="137.02" cy="319" r="1.8" fill="#e02a25" stroke="#111" stroke-width="0.5"/>
<circle cx="141.44" cy="318" r="1.8" fill="#e02a25" stroke="#111" stroke-width="0.5"/>
<circle cx="145.86" cy="316" r="1.8" fill="#e02a25" stroke="#111" stroke-width="0.5"/>
<circle cx="150.28" cy="314" r="1.8" fill="#e02a25" stroke="#111" stroke-width="0.5"/>
<circle cx="154.7" cy="325.7" r="1.8" fill="#e02a25" stroke="#111" stroke-width="0.5"/>
<circle cx="159.12" cy="327.3" r="1.8" fill="#e02a25" stroke="#111" stroke-width="0.5"/>
<circle cx="163.54" cy="327.7" r="1.8" fill="#e02a25" stroke="#111" stroke-width="0.5"/>
<circle cx="167.96" cy="321.5" r="1.8" fill="#e02a25" stroke="#111" stroke-width="0.5"/>
<circle cx="172.38" cy="330" r="1.8" fill="#e02a25" stroke="#111" stroke-width="0.5"/>
<circle cx="176.8" cy="330" r="1.8" fill="#e02a25" stroke="#111" stroke-width="0.5"/>
<circle cx="181.22" cy="318" r="1.8" fill="#e02a25" stroke="#111" stroke-width="0.5"/>
<circle cx="132.6" cy="318" r="1.8" fill="#111111" stroke="#111" stroke-width="0.5"/>
<circle cx="137.02" cy="316" r="1.8" fill="#111111" stroke="#111" stroke-width="0.5"/>
<circle cx="141.44" cy="317" r="1.8" fill="#111111" stroke="#111" stroke-width="0.5"/>
<circle cx="145.86" cy="314" r="1.8" fill="#111111" stroke="#111" stroke-width="0.5"/>
<circle cx="150.28" cy="239" r="1.8" fill="#111111" stroke="#111" stroke-width="0.5"/>
<circle cx="154.7" cy="267.3" r="1.8" fill="#111111" stroke="#111" stroke-width="0.5"/>
<circle cx="159.12" cy="286.7" r="1.8" fill="#111111" stroke="#111" stroke-width="0.5"/>
<circle cx="163.54" cy="299.2" r="1.8" fill="#111111" stroke="#111" stroke-width="0.5"/>
<circle cx="167.96" cy="314" r="1.8" fill="#111111" stroke="#111" stroke-width="0.5"/>
<circle cx="172.38" cy="321" r="1.8" fill="#111111" stroke="#111" stroke-width="0.5"/>
<circle cx="176.8" cy="323" r="1.8" fill="#111111" stroke="#111" stroke-width="0.5"/>
<circle cx="181.22" cy="324" r="1.8" fill="#111111" stroke="#111" stroke-width="0.5"/>
<line x1="142.7" y1="346" x2="164" y2="346" stroke="#231f20" stroke-width="1.2" stroke-linecap="butt"/>
<text x="153.3" y="360.5" font-size="10.7" fill="#231f20" stroke="#231f20" stroke-width="0.32" text-anchor="middle" font-weight="normal" >Kainate</text>
<text x="207" y="190.2" font-size="20" fill="#231f20" stroke="#231f20" stroke-width="0.32" text-anchor="start" font-weight="bold" >D</text>
<text x="248.6" y="192.2" font-size="10.7" fill="#231f20" stroke="#231f20" stroke-width="0.32" text-anchor="start" font-weight="normal" ><tspan font-family='"Liberation Serif", "DejaVu Serif", serif'>β</tspan>-cells</text>
<text x="248.6" y="206" font-size="10.7" fill="#e8342c" stroke="#e8342c" stroke-width="0.32" text-anchor="start" font-weight="normal" ><tspan font-family='"Liberation Serif", "DejaVu Serif", serif'>α</tspan>-cells</text>
<polyline points="213.8,322.86 214.4,324.86 215,327.12 215.6,327.51 216.2,326.35 216.8,323.27 217.4,323.22 218,321.52 218.6,318.83 219.2,320.34 219.8,323.56 220.4,322.17 221,320.61 221.6,318.64 222.2,320.5 222.8,319.44 223.4,320.6 224,321.6 224.6,315.3 225.2,319.49 225.8,316.67 226.4,317.45 227,316.7 227.6,321.81 228.2,321.19 228.8,320.6 229.4,317.6 230,315.59 230.6,317.83 231.2,319.4 231.8,318.96 232.4,320.66 233,318.5 233.6,323.18 234.2,321.09 234.8,323.94 235.4,320.3 236,318.88 236.6,317.37 237.2,320.99 237.8,321.92 238.4,320.03 239,320.43 239.6,318.96 240.2,318.51 240.8,318.78 241.4,315.24 242,316.87 242.6,319.44 243.2,319.92 243.8,322.17 244.4,321.39 245,320.87 245.6,320 246.2,314.7 246.8,319.43 247.4,317.82 248,320.8 248.6,319.37 249.2,319.13 250,318.69 250.4,319.24 251,315.57 251.6,316.08 252.2,322.54 252.8,321.48 253.4,319.44 254,319.51 254.6,319.52 255.2,327.05 255.8,322.39 256.4,320.81 257,319.17 257.6,315.23 258.2,320.53 258.8,323.97 259.4,323.34 260,321.82 260.6,319.75 261.2,318.29 261.8,321.05 262.4,320.27 263,318.59 263.6,324.82 264.2,319.61 264.8,320.04 265.4,315.96 266,324.88 266.6,321.6 267.2,321.52 267.8,322.38 268.4,319.96 269,320.27 269.6,322.44 270,320.15 270.8,322.69 271.4,325.08 272,324.42 272.6,325.96 273.2,325.45 273.8,327.04 274.4,324.03 275,324.16 275.6,320.85 276.2,322.7 276.8,321.78 277.4,323.29 278,321.35 278.6,324.37 279,329.88 280,299.66 280.4,280.63 281,250.2 281.6,233.39 282,224.79 282.8,218.2 283.6,214.21 284,216.04 284.6,228.32 285,226.63 285.8,226.15 286.2,223.29 287,241.61 287.5,248.02 288.2,252.08 289,255.04 289.4,250.98 290,245.7 290.3,238.92 290.6,231.13 291.2,224.96 291.6,220.22 292.4,232.28 292.8,239.86 293.6,250.43 294,252.44 294.8,250.83 295.5,249.8 296,250.53 296.6,259.52 297,262.07 297.8,252.33 298.5,248.21 299,250.18 299.6,253.68 300,256.02 300.8,252.68 301.5,245.58 302,251.75 302.6,258.19 303,261.67 303.8,268.55 304.5,274.83 305,268.57 305.6,262.76 306,257.61 306.8,264.59 307.5,268.06 308,259.22 308.6,255.3 309,249.74 309.8,257.2 310.5,260.65 311,268.75 311.6,271.39 312,281.57 312.8,277.78 313.5,262.48 314,267.05 314.6,266.27 315,269.26 315.8,261.82 316.5,256.16 317,259.61 317.6,262.99 318,267.4 318.8,263.42 319.5,262.83 320,259.64 320.6,255.47 321.4,252.28 321.8,252.41 322.4,254.96 323,261.96 323.6,272.11 324.2,277.7 324.5,279.22 324.8,284.08 325.4,283.72 326,287.5 326.5,287 327.2,289.55 328,296.06 328.4,296.42 329,296.24 329.6,297.49 330.2,298.88 330.5,298.84 330.8,301.82 331.4,302.54 332,301.95 332.6,303.19 333,306.86 333.8,306.83 334.4,303.73 335,307.26 335.6,311.51 336,309.03 336.8,307.44 337.4,313.58 338,317.3 338.6,313.23 339,307.83 339.8,310.14 340.4,318.65 341,315.52 341.6,317.91 342.2,318.47 343,318.61 343.4,322.32 344,319.77 344.6,320.88 345.2,320.8 345.8,321.08 346.4,326.57 347,319.42 347.6,318.9 348,324.41 348.8,320.17 349.4,323.43 350,321.43 350.6,326.23 351.2,324.93 351.8,326.82 352.4,324.2 353,325.7 353.6,321.15 354.2,328.03 354.8,327.96 355.4,327.27 356,327.52 356.6,326.78 357.2,327.64 357.8,332.44 358.4,326.84 359,326.26 359.6,328.6 360.2,327.48 360.8,325.15 361.4,329.77 362,330 362.6,325.15 363.2,329.27 363.8,322.05 364.4,327.73 365,320.76 365.6,324.58 366.2,323.69 366.8,323.02 367.4,325.15 368,321.62 368.6,321.68 369.2,320.74 369.8,326.61 370.4,322.3 371,323.97 371.6,322.72 372.2,325.44 372.8,320.86 373.4,320.71 374,321.15 374.6,323.01 375.2,320.93 375.8,323.46 376.4,323.84 377,324.94 377.6,323.82 378.2,325.6 379,321.68" fill="none" stroke="#161616" stroke-width="0.85" stroke-linejoin="round" stroke-linecap="round" />
<polyline points="213.8,313.33 214.4,316.7 215,318.52 215.6,315.54 216.2,313.6 216.8,316.29 217.4,317.88 218,319.52 218.6,314.77 219.2,314.26 219.8,318.7 220.4,318.77 221,321.21 221.6,320.39 222,318.03 222.8,317.41 223.4,323.54 224,317.92 224.6,316.28 225.2,315.35 225.8,317.94 226.4,318.31 227,317.28 227.6,317.79 228.2,318.57 228.8,319.57 229.4,320.55 230,318.71 230.6,314.17 231.2,319.15 231.8,315.02 232.4,317.33 233,314.72 233.6,317.68 234.2,316.27 234.8,318.29 235.4,324.37 236,318.53 236.6,319.89 237.2,315.31 237.8,317.1 238.4,319.35 239,317.93 239.6,318.8 240,318.31 240.8,315.92 241.4,319.15 242,316.53 242.6,322.17 243.2,317.61 243.8,319.8 244.4,318.59 245,320.59 245.6,317.46 246.2,320.69 246.8,318.62 247.4,321.49 248,320.43 248.6,319.33 249.2,317.27 249.8,320.49 250.4,320.21 251,322.79 251.6,318.71 252.2,320.38 252.8,320.5 253.4,320.08 254,319.93 254.6,319.91 255.2,318.26 255.8,317.24 256.4,318.54 257,320.88 257.6,323.17 258.2,322.29 258.8,322.42 259.4,321.89 260,321.72 260.6,320.6 261.2,321.8 261.8,324.13 262.4,319.81 263,318.61 263.6,324.3 264.2,321.16 264.8,322.46 265.4,322.4 266,318.05 266.6,325.41 267.2,324.74 267.8,321.22 268.4,322.15 269,320.91 269.6,318.61 270.2,320.09 270.8,321.33 271.4,323.09 272,322.41 272.6,320.96 273.2,323.66 273.8,319.35 274.4,322.33 275,323.35 275.6,320.42 276.2,316.89 276.8,318.49 277.4,321.17 278,322.1 278.6,324.44 279.2,319.15 279.5,320.82 279.8,319.25 280.4,311.35 281,300.07 281.5,301.24 282.2,287.66 282.8,270.2 283.5,249.57 284,244.21 284.6,239.99 285.3,234.36 285.8,238.42 286.4,241.2 287,245.86 287.6,255.17 288.2,269.07 288.5,269.73 288.8,271.71 289.4,280.01 290,287.5 290.5,289.44 291.2,290.3 291.8,285.98 292.4,288.33 293,289.14 293.6,289.75 294.2,292.61 295,291.85 295.4,293.97 296,293.14 296.6,292.59 297.2,293.95 297.8,295.19 298.4,296.68 299,294.36 299.6,295.09 300,292.97 300.8,299.32 301.4,299.71 302,296.29 302.6,295.39 303.2,293.74 303.8,296.72 304.4,297.19 305,301.63 305.6,297.95 306,295.41 306.8,293.65 307.4,303.25 308,303 308.6,300.49 309,305.05 309.8,303.63 310.4,314.72 311,313.37 311.6,313.48 312,312.77 312.8,309.46 313.4,314.26 314,312.4 314.6,317.67 315.2,313.01 315.5,315.57 315.8,320.45 316.4,321.95 317,316.02 317.6,314.73 318.2,319.93 318.8,320.47 319.4,316.59 320,316.91 320.6,317.02 321.2,316.03 321.8,317.11 322.4,321.5 323,320.79 323.6,323.77 324.2,319.48 324.8,319.02 325.4,317.2 326,318.96 326.6,316.62 327.2,315.45 327.8,320.8 328.4,323.03 329,322.01 329.6,323.06 330,320.86 330.8,318.56 331.4,320.11 332,319.29 332.6,317.63 333.2,316.22 333.8,316.57 334.4,319.85 335,320.54 335.6,319.28 336.2,323.32 336.8,321.03 337.4,321.71 338,323.19 338.6,318.92 339.2,316.02 339.8,321.68 340.4,319.14 341,323.27 341.6,321.59 342.2,322.9 342.8,322.53 343.4,316.33 344,321.83 344.6,319.38 345.2,318.98 345.8,319.66 346.4,322.38 347,322.93 347.6,323.29 348.2,317.54 348.8,319.32 349.4,315.63 350,320.24 350.6,322.25 351.2,319.5 351.8,321.44 352.4,321.62 353,323.35 353.6,319.56 354.2,319.18 354.8,319.31 355.4,324.82 356,323.95 356.6,321.23 357.2,321.74 357.8,321.57 358.4,321.76 359,320.9 359.6,320.56 360.2,318.54 360.8,319.69 361.4,324.82 362,322.93 362.6,321.73 363.2,321.02 363.8,321.57 364.4,322.28 365,320.19 365.6,321.83 366.2,322.11 366.8,320 367.4,319.72 368,319.26 368.6,319.09 369.2,323.34 369.8,316.71 370.4,320.63 371,320.29 371.6,320.25 372.2,321.83 372.8,324.25 373.4,322.22 374,321.56 374.6,320.49 375.2,321.45 375.8,323.83 376.4,321.25 377,319.37 377.6,318.94 378.2,319.26 379,318.7" fill="none" stroke="#aea58f" stroke-width="0.8" stroke-linejoin="round" stroke-linecap="round" />
<polyline points="213.8,317.97 214.4,317.23 215,321.37 215.6,313.7 216.2,318.01 216.8,312.54 217.4,320.17 218,318.16 218.6,320.47 219.2,315.45 219.8,316.81 220.4,314.72 221,312.89 221.6,314.52 222,310.78 222.8,312.17 223.4,314.62 224,312.82 224.6,311.03 225.2,317.13 226,311.7 226.4,310.12 227,312.67 227.6,311.92 228.2,312.96 228.8,313.91 229.4,320.87 230,317.17 230.6,317.95 231,319.79 231.8,323.55 232.4,318.27 233,316.83 233.6,324.79 234.2,315.57 234.8,317.59 235.4,320.57 236,325.15 236.6,317.4 237.2,312.94 237.8,320.57 238.4,318.41 239,318.66 239.6,320.99 240,320.68 240.8,320.63 241.4,318.65 242,322.75 242.6,323.59 243.2,319.76 243.8,318 244.4,320.75 245,320.24 245.6,316.16 246.2,317.12 246.8,320.98 247.4,318.29 248,317.29 248.6,318.46 249.2,301.16 249.6,290 250.2,260.36 251,291 251.6,299.71 252.2,305.43 252.5,314.3 252.8,313.54 253.4,313.69 254,317.28 254.6,321.69 255.2,318.66 256,322.28 256.4,323.67 257,315.18 257.6,315.19 258.2,318.11 258.8,311.58 259.4,314.21 259.8,318.22 260.6,295.75 261,283.45 261.6,291.3 262.4,306.15 263,305.98 263.6,307.77 264.2,308.69 264.8,304.53 265.4,306.28 266,308.46 266.6,317.78 267.2,312.72 267.8,314.81 268.4,316.07 269,319.4 269.6,320.63 270,320.83 270.8,317 271.4,312.48 272,320.05 272.6,321.17 273.2,323.87 273.8,320.82 274.4,319.31 275,321.9 275.6,317.21 276.2,318.17 276.8,318.46 277.4,321.93 278,327.03 278.6,324.23 279.2,325.03 280,322.93 280.4,321.21 281,316.92 281.6,314.77 282.2,306.86 283,306.27 283.4,306.81 284,313.04 284.6,313.89 285.2,315.88 285.8,317.82 286.4,313.9 287,317.68 287.6,321.14 288.2,317.19 288.8,320.37 289.4,318.22 290,315.04 290.6,319.93 291.2,318.75 292,322.07 292.4,320.51 293,321.95 293.6,315.37 294.2,325.17 294.8,323.88 295.4,318.95 296,316.61 296.6,318.32 297.2,319.82 297.8,318.91 298.4,318.36 299,311.8 299.6,312.89 300,319.12 300.8,317.89 301.4,313.86 302,315.78 302.6,315.13 303.2,316.81 303.8,323.3 304.4,320.98 305,324.88 305.6,322.9 306.2,318.4 306.8,320.29 307.4,328.25 308,321.18 308.6,319.84 309.2,325.78 309.8,323.49 310.4,323.12 311,327.05 311.6,319.09 312.2,324.11 312.8,320.86 313.4,319.73 314,321.27 314.6,326.69 315.2,323.95 315.8,319.33 316.4,320.89 317,328.07 317.6,327.58 318.2,322.08 318.8,330.88 319.4,324.53 320,321.83 320.6,324.32 321.2,327.4 321.8,329.48 322.4,328.16 323,324.19 323.6,323.44 324.2,321.01 324.8,324.41 325.4,323.37 326,325.48 326.6,321.72 327.2,323.31 327.8,322.51 328.4,321.58 329,321.54 329.6,321.97 330.2,321.58 330.8,326.16 331.4,325.38 332,321.56 332.6,326.01 333,325.86 333.8,326.64 334.4,320.88 335,318.72 335.6,315.7 336.2,316 336.5,316.31 336.8,304.59 337.4,281.39 338,260.36 338.6,250.78 339.2,241.49 339.5,235.4 339.8,235.36 340.4,230.56 341,228.78 341.4,230.04 342.2,243.56 343,246.8 343.4,247.53 344,248.56 344.6,253.36 345,252.97 345.8,262.8 346.4,264.47 347,270.12 347.6,272.54 348.2,275.89 348.8,277.75 349.5,283.78 350,282.74 350.6,290.17 351.2,300.05 351.5,299.64 351.8,305.3 352.4,305.07 353.2,312.7 353.6,315.33 354.2,312.41 354.8,313.54 355.4,322.61 356,315.78 356.6,315.6 357,316.29 357.8,318.03 358.4,318.11 359,320.85 359.6,320.7 360.2,317.61 360.8,317.5 361.4,314.77 362,314.36 362.6,316.39 363.2,320.53 363.8,319.41 364.4,321.17 365,321.79 365.6,319.01 366.2,324.77 366.8,318.51 367.4,317.69 368,318.2 368.6,322.44 369.2,319.59 369.8,317.79 370.4,320.77 371,322.98 371.6,320 372.2,319.41 372.8,322.94 373.4,323.1 374,323.09 374.6,318.67 375.2,321.05 375.8,321.57 376.4,316.02 377,323.43 377.6,321.34 378.2,320.05 379,326.87" fill="none" stroke="#f4809f" stroke-width="0.8" stroke-linejoin="round" stroke-linecap="round" />
<polyline points="213.8,323.23 214.35,326.07 214.9,320.91 215.45,325.11 216,322.39 216.55,322.07 217.1,327.34 217.65,323.51 218.2,322.59 218.75,324.36 219.3,325.48 219.85,322.68 220.4,323.89 220.95,320.1 221.5,321.18 222.05,321.07 222.6,318.8 223.15,318.09 223.7,317.68 224.25,321.03 225,321.47 225.35,321.12 225.9,322 226.45,318.57 227,321.29 227.55,322.3 228.1,323.63 228.65,319.77 229.2,320.44 229.75,316.46 230.3,319.76 230.85,315.86 231.4,317.34 231.95,323.69 232.5,316.1 233.05,322.72 233.6,322.18 234.15,320.49 234.7,322.19 235.25,322.48 236,323.73 236.35,311.66 236.9,297.19 237.2,289.85 237.45,268.42 238.1,215.67 238.55,241.03 238.9,262.22 239.6,257.61 240.4,279.72 240.75,284.76 241.5,296.04 241.85,300.72 242.4,295.34 242.95,301.79 243.5,303.57 244.05,310.72 244.6,304 245.15,312.48 245.7,310.45 246,312.46 246.25,311.6 246.8,315.41 247.35,312.01 247.9,314.91 248.45,316.89 249,321.39 249.55,311.95 250,321.23 250.65,320.67 251.2,317.07 251.75,318.66 252.3,316.91 252.85,321.97 253.4,318.92 253.95,317.56 254.6,317.39 255.05,286.9 255.3,269.95 255.7,241.4 256.2,275.44 256.7,292.22 257,297.65 257.25,305.34 257.8,308.93 258.35,313.3 259,315.58 259.45,315.93 260,317.53 260.55,319.64 261.1,316.71 261.65,316.98 262.2,323.1 262.75,320.59 263,316.74 263.3,324.59 263.85,321.64 264.4,318.07 264.95,316.36 265.5,319.94 266.05,317.59 266.6,316.9 267.15,316.34 267.7,318.34 268,322.58 268.25,319.03 268.8,315.85 269.35,320.47 269.9,319.14 270.45,320.63 271,321.37 271.3,317.9 271.55,293.69 271.9,259.99 272.3,217.95 272.8,265.12 273.2,282.27 273.8,305.56 274.3,307.12 274.85,309.86 275.5,312 275.95,312.58 276.5,314.5 277.05,314.45 277.6,316.3 278.15,314.51 278.7,319.95 279,320.17 279.25,317.28 279.8,314.39 280.35,320 280.9,323.53 281.45,319.57 282,320.01 282.55,320.07 283.1,323.33 283.65,319.99 284.2,324.59 284.75,322.09 285.3,325.1 285.85,323.42 286.4,322.82 286.95,319.9 287.5,321.79 288.05,323.26 288.6,325.91 289.15,325.37 289.7,323.22 290,325.85 290.25,327.54 290.8,324.93 291.35,323.97 291.9,324.01 292.45,327.02 293,326.67 293.55,323.03 294.1,325.92 294.65,324.12 295.2,323.29 295.75,328.16 296.3,327.63 296.85,323.78 297.4,325.41 297.95,326.64 298.5,323.97 299.05,325.01 299.6,327.09 300.15,321.24 300.7,325.92 301.25,327.43 301.8,327.02 302.35,322.44 302.9,326.12 303.45,323.58 304,326.9 304.55,327.34 305.1,326.45 305.65,323.96 306.2,324.16 306.75,327.79 307.3,323.84 307.85,326.92 308.4,327.29 308.95,325.39 309.5,331.85 310,326.76 310.6,331.39 311.15,321.55 311.7,320 312.25,327.83 312.8,327.76 313.35,325.4 313.9,325.81 314.45,321.27 315,323.97 315.55,323.24 316.1,325.17 316.65,328.11 317.2,326.34 317.75,326.95 318.3,324.37 318.85,324.76 319.4,326.15 319.95,325.32 320.5,329.06 321.05,324.14 321.6,330.49 322.15,324.02 322.7,328.42 323.25,324.33 323.8,329.91 324.35,326.73 325,327.06 325.45,327.56 326,323.75 326.55,321.94 327.1,318.89 327.65,326.19 328.2,321.74 328.75,321.13 329.3,322.02 329.6,326.9 329.85,312.38 330.2,308.24 330.9,321.04 331.5,324.31 332,319.67 332.6,316.98 333.15,315.21 333.5,314.05 334.25,286.83 334.8,266.09 335.3,250 335.9,232.99 336.4,218.69 337,228.09 337.6,240.13 338.1,235.27 338.8,227.98 339.2,234.22 339.75,239.43 340.2,246.1 340.85,243.05 341.5,239.99 341.95,247.03 342.5,254.87 343,262.06 343.6,260.66 344.15,260.69 344.5,257.97 345.25,269.89 346,280.16 346.35,278.82 346.9,278.28 347.5,275.83 348,283.63 348.55,289.38 349,295.5 349.65,294.5 350.2,293.57 350.5,292.22 350.75,296.35 351.3,302.65 351.8,307.59 352.4,313.3 352.95,315.04 353.5,313.91 354,320.18 354.6,319.01 355.15,316.28 355.7,319.71 356.25,315.93 356.8,316.91 357.35,320.42 357.9,316.17 358.45,319.94 359,317.13 359.55,322.26 360,319.35 360.65,321.32 361.2,317.37 361.75,319.87 362.3,323.34 362.85,322.5 363.4,316.76 363.95,323.05 364.5,323.63 365.05,320.57 365.6,324.73 366.15,319.05 366.7,320.91 367.25,324.09 367.8,324.92 368.35,324.96 368.9,319.11 369.45,316.86 370,322.03 370.55,318.06 371.1,320.91 371.65,318.37 372.2,323.95 372.75,323.89 373.3,323.3 373.85,321.93 374.4,321.89 374.95,321.06 375.5,322.69 376.05,322.55 376.6,323.08 377.15,320.96 377.7,326.54 378.25,323.12 379,325.57" fill="none" stroke="#ee2e2e" stroke-width="0.85" stroke-linejoin="round" stroke-linecap="round" />
<line x1="230.6" y1="344.7" x2="265.2" y2="344.7" stroke="#231f20" stroke-width="1.2" stroke-linecap="butt"/>
<line x1="278.3" y1="344.7" x2="312.2" y2="344.7" stroke="#231f20" stroke-width="1.2" stroke-linecap="butt"/>
<line x1="334.4" y1="344.7" x2="345.7" y2="344.7" stroke="#231f20" stroke-width="1.2" stroke-linecap="butt"/>
<text x="247.7" y="360.6" font-size="10.7" fill="#231f20" stroke="#231f20" stroke-width="0.32" text-anchor="middle" font-weight="normal" >1G</text>
<text x="294.2" y="360.6" font-size="10.7" fill="#231f20" stroke="#231f20" stroke-width="0.32" text-anchor="middle" font-weight="normal" >11G</text>
<text x="350.2" y="360.6" font-size="10.7" fill="#231f20" stroke="#231f20" stroke-width="0.32" text-anchor="middle" font-weight="normal" >Glutamate</text>
<text x="342.6" y="192.2" font-size="10.7" fill="#231f20" stroke="#231f20" stroke-width="0.32" text-anchor="start" font-weight="normal" >10 min</text>
<polyline points="344.7,199 373.6,199 373.6,216.5" fill="none" stroke="#231f20" stroke-width="1.2" stroke-linejoin="round" stroke-linecap="round" stroke-linecap="butt" stroke-linejoin="miter"/>
<text x="376.3" y="294.4" font-size="10.7" fill="#231f20" stroke="#231f20" stroke-width="0.32" text-anchor="start" font-weight="normal" transform="rotate(-90 376.3 294.4)" >0.02 (340/380)</text>
<text x="402.6" y="189.8" font-size="20" fill="#231f20" stroke="#231f20" stroke-width="0.32" text-anchor="start" font-weight="bold" >E</text>
<rect x="428.9" y="178" width="79.1" height="43.5" fill="#0b0b0b" stroke="none" stroke-width="0"/>
<g>
<ellipse cx="437" cy="209.2" rx="7.5" ry="2.4" fill="#a9b394" stroke="#7d9852" stroke-width="0.6"/>
<ellipse cx="437" cy="209" rx="2.25" ry="0.96" fill="#e6ecd2"/>
<ellipse cx="451" cy="210" rx="8" ry="2.4" fill="#b9cc92" stroke="#7d9852" stroke-width="0.6"/>
<ellipse cx="451" cy="209.8" rx="2.4" ry="0.96" fill="#e6ecd2"/>
<ellipse cx="470" cy="210.6" rx="8" ry="2.4" fill="#c4d890" stroke="#7d9852" stroke-width="0.6"/>
<ellipse cx="470" cy="210.4" rx="2.4" ry="0.96" fill="#e6ecd2"/>
<ellipse cx="487" cy="209.4" rx="8.5" ry="2.5" fill="#c2d48c" stroke="#7d9852" stroke-width="0.6"/>
<ellipse cx="487" cy="209.2" rx="2.55" ry="1" fill="#e6ecd2"/>
<ellipse cx="504" cy="209" rx="4.6" ry="2" fill="#c2d48c" stroke="#7d9852" stroke-width="0.6"/>
<ellipse cx="504" cy="208.8" rx="1.38" ry="0.8" fill="#e6ecd2"/>
<ellipse cx="439" cy="213.9" rx="8.6" ry="2.7" fill="#c6d88e" stroke="#7d9852" stroke-width="0.6"/>
<ellipse cx="439" cy="213.7" rx="2.58" ry="1.08" fill="#e6ecd2"/>
<ellipse cx="458.5" cy="214.6" rx="9" ry="2.8" fill="#c2d48c" stroke="#7d9852" stroke-width="0.6"/>
<ellipse cx="458.5" cy="214.4" rx="2.7" ry="1.12" fill="#e6ecd2"/>
<ellipse cx="477.7" cy="214.2" rx="9" ry="2.8" fill="#c6d88e" stroke="#7d9852" stroke-width="0.6"/>
<ellipse cx="477.7" cy="214" rx="2.7" ry="1.12" fill="#e6ecd2"/>
<ellipse cx="494.2" cy="213.2" rx="8.6" ry="2.6" fill="#c2d48c" stroke="#7d9852" stroke-width="0.6"/>
<ellipse cx="494.2" cy="213" rx="2.58" ry="1.04" fill="#e6ecd2"/>
<ellipse cx="465.7" cy="196" rx="23.6" ry="13.5" fill="#d6c088"/>
<circle cx="460.83" cy="183.49" r="1.35" fill="#ebdd84" stroke="#a98652" stroke-width="0.3"/>
<circle cx="463.85" cy="183.55" r="1.35" fill="#ebdd84" stroke="#a98652" stroke-width="0.3"/>
<circle cx="466.15" cy="183.34" r="1.35" fill="#efe6a8" stroke="#a98652" stroke-width="0.3"/>
<circle cx="468.97" cy="183.27" r="1.35" fill="#efe6a8" stroke="#a98652" stroke-width="0.3"/>
<circle cx="471.99" cy="183.46" r="1.35" fill="#ebdd84" stroke="#a98652" stroke-width="0.3"/>
<circle cx="451.36" cy="185.95" r="1.35" fill="#dccb92" stroke="#a98652" stroke-width="0.3"/>
<circle cx="454.41" cy="185.53" r="1.35" fill="#dccb92" stroke="#a98652" stroke-width="0.3"/>
<circle cx="456.98" cy="185.64" r="1.35" fill="#dccb92" stroke="#a98652" stroke-width="0.3"/>
<circle cx="459.42" cy="185.9" r="1.35" fill="#ebdd84" stroke="#a98652" stroke-width="0.3"/>
<circle cx="462.58" cy="185.92" r="1.35" fill="#ebdd84" stroke="#a98652" stroke-width="0.3"/>
<circle cx="465.16" cy="185.53" r="1.35" fill="#ebdd84" stroke="#a98652" stroke-width="0.3"/>
<circle cx="467.96" cy="185.92" r="1.35" fill="#ebdd84" stroke="#a98652" stroke-width="0.3"/>
<circle cx="470.39" cy="185.97" r="1.35" fill="#ebdd84" stroke="#a98652" stroke-width="0.3"/>
<circle cx="473.26" cy="185.97" r="1.35" fill="#ebdd84" stroke="#a98652" stroke-width="0.3"/>
<circle cx="475.97" cy="185.58" r="1.35" fill="#ebdd84" stroke="#a98652" stroke-width="0.3"/>
<circle cx="478.39" cy="185.56" r="1.35" fill="#ebdd84" stroke="#a98652" stroke-width="0.3"/>
<circle cx="447.55" cy="187.95" r="1.35" fill="#dccb92" stroke="#a98652" stroke-width="0.3"/>
<circle cx="450.36" cy="188.18" r="1.35" fill="#dccb92" stroke="#a98652" stroke-width="0.3"/>
<circle cx="452.99" cy="188.24" r="1.35" fill="#dccb92" stroke="#a98652" stroke-width="0.3"/>
<circle cx="455.84" cy="188.27" r="1.35" fill="#dccb92" stroke="#a98652" stroke-width="0.3"/>
<circle cx="458.3" cy="187.98" r="1.35" fill="#dccb92" stroke="#a98652" stroke-width="0.3"/>
<circle cx="460.83" cy="187.83" r="1.35" fill="#ebdd84" stroke="#a98652" stroke-width="0.3"/>
<circle cx="463.87" cy="187.82" r="1.35" fill="#ebdd84" stroke="#a98652" stroke-width="0.3"/>
<circle cx="466.24" cy="187.83" r="1.35" fill="#efe6a8" stroke="#a98652" stroke-width="0.3"/>
<circle cx="469.22" cy="188.03" r="1.35" fill="#f4f2ec" stroke="#a98652" stroke-width="0.3"/>
<circle cx="471.81" cy="188.16" r="1.35" fill="#efe6a8" stroke="#a98652" stroke-width="0.3"/>
<circle cx="474.65" cy="188.23" r="1.35" fill="#ebdd84" stroke="#a98652" stroke-width="0.3"/>
<circle cx="477.37" cy="187.95" r="1.35" fill="#efe6a8" stroke="#a98652" stroke-width="0.3"/>
<circle cx="479.66" cy="188.14" r="1.35" fill="#ebdd84" stroke="#a98652" stroke-width="0.3"/>
<circle cx="482.67" cy="188.22" r="1.35" fill="#e3dfa6" stroke="#a98652" stroke-width="0.3"/>
<circle cx="446.1" cy="190.6" r="1.35" fill="#e4b46c" stroke="#a98652" stroke-width="0.3"/>
<circle cx="448.65" cy="190.13" r="1.35" fill="#dccb92" stroke="#a98652" stroke-width="0.3"/>
<circle cx="451.73" cy="190.44" r="1.35" fill="#dccb92" stroke="#a98652" stroke-width="0.3"/>
<circle cx="454.16" cy="190.36" r="1.35" fill="#dccb92" stroke="#a98652" stroke-width="0.3"/>
<circle cx="456.79" cy="190.3" r="1.35" fill="#dccb92" stroke="#a98652" stroke-width="0.3"/>
<circle cx="459.42" cy="190.47" r="1.35" fill="#efe6a8" stroke="#a98652" stroke-width="0.3"/>
<circle cx="462.1" cy="190.35" r="1.35" fill="#ebdd84" stroke="#a98652" stroke-width="0.3"/>
<circle cx="465.16" cy="190.24" r="1.35" fill="#ebdd84" stroke="#a98652" stroke-width="0.3"/>
<circle cx="467.69" cy="190.27" r="1.35" fill="#f4f2ec" stroke="#a98652" stroke-width="0.3"/>
<circle cx="470.45" cy="190.39" r="1.35" fill="#f4f2ec" stroke="#a98652" stroke-width="0.3"/>
<circle cx="473.2" cy="190.37" r="1.35" fill="#f4f2ec" stroke="#a98652" stroke-width="0.3"/>
<circle cx="475.76" cy="190.47" r="1.35" fill="#f4f2ec" stroke="#a98652" stroke-width="0.3"/>
<circle cx="478.33" cy="190.52" r="1.35" fill="#f4f2ec" stroke="#a98652" stroke-width="0.3"/>
<circle cx="481.16" cy="190.61" r="1.35" fill="#ebdd84" stroke="#a98652" stroke-width="0.3"/>
<circle cx="484.11" cy="190.5" r="1.35" fill="#e3dfa6" stroke="#a98652" stroke-width="0.3"/>
<circle cx="444.56" cy="192.76" r="1.35" fill="#e4b46c" stroke="#a98652" stroke-width="0.3"/>
<circle cx="447.45" cy="192.55" r="1.35" fill="#dccb92" stroke="#a98652" stroke-width="0.3"/>
<circle cx="450.07" cy="192.79" r="1.35" fill="#e4b46c" stroke="#a98652" stroke-width="0.3"/>
<circle cx="452.77" cy="192.63" r="1.35" fill="#dccb92" stroke="#a98652" stroke-width="0.3"/>
<circle cx="455.83" cy="192.48" r="1.35" fill="#dccb92" stroke="#a98652" stroke-width="0.3"/>
<circle cx="458.41" cy="192.88" r="1.35" fill="#dccb92" stroke="#a98652" stroke-width="0.3"/>
<circle cx="461.13" cy="192.77" r="1.35" fill="#ebdd84" stroke="#a98652" stroke-width="0.3"/>
<circle cx="463.57" cy="192.9" r="1.35" fill="#efe6a8" stroke="#a98652" stroke-width="0.3"/>
<circle cx="466.63" cy="192.93" r="1.35" fill="#f4f2ec" stroke="#a98652" stroke-width="0.3"/>
<circle cx="469.01" cy="192.63" r="1.35" fill="#f4f2ec" stroke="#a98652" stroke-width="0.3"/>
<circle cx="471.59" cy="192.59" r="1.35" fill="#f4f2ec" stroke="#a98652" stroke-width="0.3"/>
<circle cx="474.48" cy="192.49" r="1.35" fill="#f4f2ec" stroke="#a98652" stroke-width="0.3"/>
<circle cx="477.05" cy="192.61" r="1.35" fill="#f4f2ec" stroke="#a98652" stroke-width="0.3"/>
<circle cx="479.78" cy="192.91" r="1.35" fill="#f4f2ec" stroke="#a98652" stroke-width="0.3"/>
<circle cx="482.77" cy="192.51" r="1.35" fill="#e3dfa6" stroke="#a98652" stroke-width="0.3"/>
<circle cx="485.35" cy="192.58" r="1.35" fill="#e3dfa6" stroke="#a98652" stroke-width="0.3"/>
<circle cx="487.98" cy="192.66" r="1.35" fill="#e3dfa6" stroke="#a98652" stroke-width="0.3"/>
<circle cx="443.29" cy="194.95" r="1.35" fill="#dfc98c" stroke="#a98652" stroke-width="0.3"/>
<circle cx="445.92" cy="195.17" r="1.35" fill="#e0a45e" stroke="#a98652" stroke-width="0.3"/>
<circle cx="448.61" cy="195.01" r="1.35" fill="#dccb92" stroke="#a98652" stroke-width="0.3"/>
<circle cx="451.65" cy="194.88" r="1.35" fill="#dccb92" stroke="#a98652" stroke-width="0.3"/>
<circle cx="454.05" cy="194.91" r="1.35" fill="#dccb92" stroke="#a98652" stroke-width="0.3"/>
<circle cx="456.89" cy="194.83" r="1.35" fill="#e4b46c" stroke="#a98652" stroke-width="0.3"/>
<circle cx="459.42" cy="194.85" r="1.35" fill="#ebdd84" stroke="#a98652" stroke-width="0.3"/>
<circle cx="462.5" cy="195.18" r="1.35" fill="#ebdd84" stroke="#a98652" stroke-width="0.3"/>
<circle cx="465.09" cy="194.8" r="1.35" fill="#f4f2ec" stroke="#a98652" stroke-width="0.3"/>
<circle cx="467.88" cy="194.85" r="1.35" fill="#f4f2ec" stroke="#a98652" stroke-width="0.3"/>
<circle cx="470.5" cy="195.07" r="1.35" fill="#f4f2ec" stroke="#a98652" stroke-width="0.3"/>
<circle cx="473.07" cy="194.89" r="1.35" fill="#f4f2ec" stroke="#a98652" stroke-width="0.3"/>
<circle cx="475.91" cy="195.21" r="1.35" fill="#f4f2ec" stroke="#a98652" stroke-width="0.3"/>
<circle cx="478.56" cy="195.1" r="1.35" fill="#f4f2ec" stroke="#a98652" stroke-width="0.3"/>
<circle cx="481.03" cy="194.78" r="1.35" fill="#f4f2ec" stroke="#a98652" stroke-width="0.3"/>
<circle cx="484.03" cy="194.84" r="1.35" fill="#f4f2ec" stroke="#a98652" stroke-width="0.3"/>
<circle cx="486.67" cy="194.96" r="1.35" fill="#e3dfa6" stroke="#a98652" stroke-width="0.3"/>
<circle cx="444.81" cy="197.12" r="1.35" fill="#e0a45e" stroke="#a98652" stroke-width="0.3"/>
<circle cx="447.27" cy="197.26" r="1.35" fill="#e0a45e" stroke="#a98652" stroke-width="0.3"/>
<circle cx="450.04" cy="197.44" r="1.35" fill="#dfc98c" stroke="#a98652" stroke-width="0.3"/>
<circle cx="453.05" cy="197.54" r="1.35" fill="#dfc98c" stroke="#a98652" stroke-width="0.3"/>
<circle cx="455.8" cy="197.35" r="1.35" fill="#e4b46c" stroke="#a98652" stroke-width="0.3"/>
<circle cx="458.52" cy="197.55" r="1.35" fill="#e4b46c" stroke="#a98652" stroke-width="0.3"/>
<circle cx="461.06" cy="197.39" r="1.35" fill="#e4b46c" stroke="#a98652" stroke-width="0.3"/>
<circle cx="463.92" cy="197.35" r="1.35" fill="#dfc98c" stroke="#a98652" stroke-width="0.3"/>
<circle cx="466.43" cy="197.47" r="1.35" fill="#f4f2ec" stroke="#a98652" stroke-width="0.3"/>
<circle cx="469.03" cy="197.12" r="1.35" fill="#f4f2ec" stroke="#a98652" stroke-width="0.3"/>
<circle cx="471.82" cy="197.49" r="1.35" fill="#f4f2ec" stroke="#a98652" stroke-width="0.3"/>
<circle cx="474.26" cy="197.29" r="1.35" fill="#f4f2ec" stroke="#a98652" stroke-width="0.3"/>
<circle cx="477.28" cy="197.19" r="1.35" fill="#f4f2ec" stroke="#a98652" stroke-width="0.3"/>
<circle cx="479.91" cy="197.53" r="1.35" fill="#f4f2ec" stroke="#a98652" stroke-width="0.3"/>
<circle cx="482.47" cy="197.29" r="1.35" fill="#f4f2ec" stroke="#a98652" stroke-width="0.3"/>
<circle cx="485.43" cy="197.41" r="1.35" fill="#e3dfa6" stroke="#a98652" stroke-width="0.3"/>
<circle cx="487.94" cy="197.33" r="1.35" fill="#e3dfa6" stroke="#a98652" stroke-width="0.3"/>
<circle cx="446.13" cy="199.42" r="1.35" fill="#e0a45e" stroke="#a98652" stroke-width="0.3"/>
<circle cx="449" cy="199.77" r="1.35" fill="#e0a45e" stroke="#a98652" stroke-width="0.3"/>
<circle cx="451.49" cy="199.6" r="1.35" fill="#e4b46c" stroke="#a98652" stroke-width="0.3"/>
<circle cx="454.29" cy="199.9" r="1.35" fill="#dfc98c" stroke="#a98652" stroke-width="0.3"/>
<circle cx="457.11" cy="199.65" r="1.35" fill="#dccb92" stroke="#a98652" stroke-width="0.3"/>
<circle cx="459.81" cy="199.65" r="1.35" fill="#dfc98c" stroke="#a98652" stroke-width="0.3"/>
<circle cx="462.4" cy="199.75" r="1.35" fill="#e4b46c" stroke="#a98652" stroke-width="0.3"/>
<circle cx="464.93" cy="199.79" r="1.35" fill="#e4b46c" stroke="#a98652" stroke-width="0.3"/>
<circle cx="467.92" cy="199.85" r="1.35" fill="#ebdd84" stroke="#a98652" stroke-width="0.3"/>
<circle cx="470.27" cy="199.82" r="1.35" fill="#f4f2ec" stroke="#a98652" stroke-width="0.3"/>
<circle cx="473.05" cy="199.51" r="1.35" fill="#f4f2ec" stroke="#a98652" stroke-width="0.3"/>
<circle cx="475.96" cy="199.51" r="1.35" fill="#f4f2ec" stroke="#a98652" stroke-width="0.3"/>
<circle cx="478.62" cy="199.59" r="1.35" fill="#ebdd84" stroke="#a98652" stroke-width="0.3"/>
<circle cx="481.35" cy="199.61" r="1.35" fill="#ebdd84" stroke="#a98652" stroke-width="0.3"/>
<circle cx="483.71" cy="199.77" r="1.35" fill="#e3dfa6" stroke="#a98652" stroke-width="0.3"/>
<circle cx="486.65" cy="199.89" r="1.35" fill="#e3dfa6" stroke="#a98652" stroke-width="0.3"/>
<circle cx="447.57" cy="201.91" r="1.35" fill="#e0a45e" stroke="#a98652" stroke-width="0.3"/>
<circle cx="450.27" cy="201.95" r="1.35" fill="#e0a45e" stroke="#a98652" stroke-width="0.3"/>
<circle cx="453.04" cy="201.74" r="1.35" fill="#e0a45e" stroke="#a98652" stroke-width="0.3"/>
<circle cx="455.46" cy="202.02" r="1.35" fill="#e0a45e" stroke="#a98652" stroke-width="0.3"/>
<circle cx="458.3" cy="201.81" r="1.35" fill="#e0a45e" stroke="#a98652" stroke-width="0.3"/>
<circle cx="460.91" cy="201.83" r="1.35" fill="#ebdd84" stroke="#a98652" stroke-width="0.3"/>
<circle cx="463.76" cy="202.15" r="1.35" fill="#ebdd84" stroke="#a98652" stroke-width="0.3"/>
<circle cx="466.21" cy="201.93" r="1.35" fill="#dfc98c" stroke="#a98652" stroke-width="0.3"/>
<circle cx="469.12" cy="201.77" r="1.35" fill="#ebdd84" stroke="#a98652" stroke-width="0.3"/>
<circle cx="471.65" cy="202.01" r="1.35" fill="#dfc98c" stroke="#a98652" stroke-width="0.3"/>
<circle cx="474.25" cy="201.88" r="1.35" fill="#ebdd84" stroke="#a98652" stroke-width="0.3"/>
<circle cx="477.34" cy="201.74" r="1.35" fill="#efe6a8" stroke="#a98652" stroke-width="0.3"/>
<circle cx="479.94" cy="201.82" r="1.35" fill="#efe6a8" stroke="#a98652" stroke-width="0.3"/>
<circle cx="482.74" cy="202.09" r="1.35" fill="#e3dfa6" stroke="#a98652" stroke-width="0.3"/>
<circle cx="485.22" cy="202.06" r="1.35" fill="#e3dfa6" stroke="#a98652" stroke-width="0.3"/>
<circle cx="449" cy="204.07" r="1.35" fill="#e0a45e" stroke="#a98652" stroke-width="0.3"/>
<circle cx="451.46" cy="204.44" r="1.35" fill="#e0a45e" stroke="#a98652" stroke-width="0.3"/>
<circle cx="454.15" cy="204.1" r="1.35" fill="#e0a45e" stroke="#a98652" stroke-width="0.3"/>
<circle cx="456.82" cy="204.24" r="1.35" fill="#e0a45e" stroke="#a98652" stroke-width="0.3"/>
<circle cx="459.75" cy="204.36" r="1.35" fill="#e0a45e" stroke="#a98652" stroke-width="0.3"/>
<circle cx="462.28" cy="204.15" r="1.35" fill="#e0a45e" stroke="#a98652" stroke-width="0.3"/>
<circle cx="464.97" cy="204.14" r="1.35" fill="#e0a45e" stroke="#a98652" stroke-width="0.3"/>
<circle cx="467.6" cy="204.06" r="1.35" fill="#e4b46c" stroke="#a98652" stroke-width="0.3"/>
<circle cx="470.53" cy="204.16" r="1.35" fill="#dfc98c" stroke="#a98652" stroke-width="0.3"/>
<circle cx="473.16" cy="204.24" r="1.35" fill="#e3dfa6" stroke="#a98652" stroke-width="0.3"/>
<circle cx="476.02" cy="204.39" r="1.35" fill="#e3dfa6" stroke="#a98652" stroke-width="0.3"/>
<circle cx="478.75" cy="204.47" r="1.35" fill="#e3dfa6" stroke="#a98652" stroke-width="0.3"/>
<circle cx="481.39" cy="204.39" r="1.35" fill="#e3dfa6" stroke="#a98652" stroke-width="0.3"/>
<circle cx="452.77" cy="206.87" r="1.35" fill="#e0a45e" stroke="#a98652" stroke-width="0.3"/>
<circle cx="455.84" cy="206.45" r="1.35" fill="#e0a45e" stroke="#a98652" stroke-width="0.3"/>
<circle cx="458.19" cy="206.5" r="1.35" fill="#e0a45e" stroke="#a98652" stroke-width="0.3"/>
<circle cx="461.12" cy="206.76" r="1.35" fill="#e0a45e" stroke="#a98652" stroke-width="0.3"/>
<circle cx="463.86" cy="206.86" r="1.35" fill="#e0a45e" stroke="#a98652" stroke-width="0.3"/>
<circle cx="466.41" cy="206.85" r="1.35" fill="#e0a45e" stroke="#a98652" stroke-width="0.3"/>
<circle cx="469.18" cy="206.52" r="1.35" fill="#e4b46c" stroke="#a98652" stroke-width="0.3"/>
<circle cx="471.55" cy="206.42" r="1.35" fill="#e4b46c" stroke="#a98652" stroke-width="0.3"/>
<circle cx="474.57" cy="206.43" r="1.35" fill="#e4b46c" stroke="#a98652" stroke-width="0.3"/>
<circle cx="477.31" cy="206.58" r="1.35" fill="#e3dfa6" stroke="#a98652" stroke-width="0.3"/>
<circle cx="462.16" cy="208.87" r="1.35" fill="#e0a45e" stroke="#a98652" stroke-width="0.3"/>
<circle cx="465.29" cy="208.82" r="1.35" fill="#e0a45e" stroke="#a98652" stroke-width="0.3"/>
<circle cx="467.85" cy="209.12" r="1.35" fill="#dfc98c" stroke="#a98652" stroke-width="0.3"/>
<circle cx="470.38" cy="209.01" r="1.35" fill="#e0a45e" stroke="#a98652" stroke-width="0.3"/>
</g>
<polyline points="427.6,235.3 410,235.3 410,251.3" fill="none" stroke="#231f20" stroke-width="1.2" stroke-linejoin="round" stroke-linecap="round" stroke-linecap="butt" stroke-linejoin="miter"/>
<text x="432.6" y="239.2" font-size="10.7" fill="#231f20" stroke="#231f20" stroke-width="0.32" text-anchor="start" font-weight="normal" >2 min</text>
<text x="412.7" y="329.2" font-size="10.7" fill="#231f20" stroke="#231f20" stroke-width="0.32" text-anchor="start" font-weight="normal" transform="rotate(-90 412.7 329.2)" >0.01 (340/380)</text>
<text x="423.2" y="262.6" font-size="10.7" fill="#231f20" stroke="#231f20" stroke-width="0.32" text-anchor="start" font-weight="normal" >Control</text>
<line x1="430.2" y1="268.9" x2="447.7" y2="268.9" stroke="#231f20" stroke-width="0.8" stroke-linecap="butt"/>
<circle cx="438.9" cy="268.9" r="1.95" fill="#fff" stroke="#231f20" stroke-width="0.95"/>
<text x="423.2" y="288.5" font-size="10.7" fill="#231f20" stroke="#231f20" stroke-width="0.32" text-anchor="start" font-weight="normal" >CNQX</text>
<line x1="430.2" y1="293.5" x2="447.7" y2="293.5" stroke="#231f20" stroke-width="0.8" stroke-linecap="butt"/>
<circle cx="438.9" cy="293.5" r="2.15" fill="#231f20" stroke="#231f20" stroke-width="0.5"/>
<line x1="423.1" y1="320.5" x2="423.1" y2="322.9" stroke="#1c1c1c" stroke-width="0.8" stroke-linecap="butt"/>
<line x1="421" y1="320.5" x2="425.2" y2="320.5" stroke="#1c1c1c" stroke-width="0.8" stroke-linecap="butt"/>
<line x1="421" y1="322.9" x2="425.2" y2="322.9" stroke="#1c1c1c" stroke-width="0.8" stroke-linecap="butt"/>
<line x1="423.1" y1="323.82" x2="423.1" y2="327.78" stroke="#1c1c1c" stroke-width="0.8" stroke-linecap="butt"/>
<line x1="421" y1="323.82" x2="425.2" y2="323.82" stroke="#1c1c1c" stroke-width="0.8" stroke-linecap="butt"/>
<line x1="421" y1="327.78" x2="425.2" y2="327.78" stroke="#1c1c1c" stroke-width="0.8" stroke-linecap="butt"/>
<line x1="426.85" y1="319.1" x2="426.85" y2="322.3" stroke="#1c1c1c" stroke-width="0.8" stroke-linecap="butt"/>
<line x1="424.75" y1="319.1" x2="428.95" y2="319.1" stroke="#1c1c1c" stroke-width="0.8" stroke-linecap="butt"/>
<line x1="424.75" y1="322.3" x2="428.95" y2="322.3" stroke="#1c1c1c" stroke-width="0.8" stroke-linecap="butt"/>
<line x1="426.85" y1="326" x2="426.85" y2="329.6" stroke="#1c1c1c" stroke-width="0.8" stroke-linecap="butt"/>
<line x1="424.75" y1="326" x2="428.95" y2="326" stroke="#1c1c1c" stroke-width="0.8" stroke-linecap="butt"/>
<line x1="424.75" y1="329.6" x2="428.95" y2="329.6" stroke="#1c1c1c" stroke-width="0.8" stroke-linecap="butt"/>
<line x1="430.59" y1="316.23" x2="430.59" y2="319.97" stroke="#1c1c1c" stroke-width="0.8" stroke-linecap="butt"/>
<line x1="428.49" y1="316.23" x2="432.69" y2="316.23" stroke="#1c1c1c" stroke-width="0.8" stroke-linecap="butt"/>
<line x1="428.49" y1="319.97" x2="432.69" y2="319.97" stroke="#1c1c1c" stroke-width="0.8" stroke-linecap="butt"/>
<line x1="430.59" y1="325.74" x2="430.59" y2="329.86" stroke="#1c1c1c" stroke-width="0.8" stroke-linecap="butt"/>
<line x1="428.49" y1="325.74" x2="432.69" y2="325.74" stroke="#1c1c1c" stroke-width="0.8" stroke-linecap="butt"/>
<line x1="428.49" y1="329.86" x2="432.69" y2="329.86" stroke="#1c1c1c" stroke-width="0.8" stroke-linecap="butt"/>
<line x1="434.34" y1="316.61" x2="434.34" y2="321.99" stroke="#1c1c1c" stroke-width="0.8" stroke-linecap="butt"/>
<line x1="432.24" y1="316.61" x2="436.44" y2="316.61" stroke="#1c1c1c" stroke-width="0.8" stroke-linecap="butt"/>
<line x1="432.24" y1="321.99" x2="436.44" y2="321.99" stroke="#1c1c1c" stroke-width="0.8" stroke-linecap="butt"/>
<line x1="434.34" y1="322.8" x2="434.34" y2="326.8" stroke="#1c1c1c" stroke-width="0.8" stroke-linecap="butt"/>
<line x1="432.24" y1="322.8" x2="436.44" y2="322.8" stroke="#1c1c1c" stroke-width="0.8" stroke-linecap="butt"/>
<line x1="432.24" y1="326.8" x2="436.44" y2="326.8" stroke="#1c1c1c" stroke-width="0.8" stroke-linecap="butt"/>
<line x1="438.08" y1="318.01" x2="438.08" y2="323.39" stroke="#1c1c1c" stroke-width="0.8" stroke-linecap="butt"/>
<line x1="435.98" y1="318.01" x2="440.18" y2="318.01" stroke="#1c1c1c" stroke-width="0.8" stroke-linecap="butt"/>
<line x1="435.98" y1="323.39" x2="440.18" y2="323.39" stroke="#1c1c1c" stroke-width="0.8" stroke-linecap="butt"/>
<line x1="438.08" y1="323.4" x2="438.08" y2="328.2" stroke="#1c1c1c" stroke-width="0.8" stroke-linecap="butt"/>
<line x1="435.98" y1="323.4" x2="440.18" y2="323.4" stroke="#1c1c1c" stroke-width="0.8" stroke-linecap="butt"/>
<line x1="435.98" y1="328.2" x2="440.18" y2="328.2" stroke="#1c1c1c" stroke-width="0.8" stroke-linecap="butt"/>
<line x1="441.83" y1="322.61" x2="441.83" y2="328.99" stroke="#1c1c1c" stroke-width="0.8" stroke-linecap="butt"/>
<line x1="439.73" y1="322.61" x2="443.93" y2="322.61" stroke="#1c1c1c" stroke-width="0.8" stroke-linecap="butt"/>
<line x1="439.73" y1="328.99" x2="443.93" y2="328.99" stroke="#1c1c1c" stroke-width="0.8" stroke-linecap="butt"/>
<line x1="441.83" y1="323.76" x2="441.83" y2="329.84" stroke="#1c1c1c" stroke-width="0.8" stroke-linecap="butt"/>
<line x1="439.73" y1="323.76" x2="443.93" y2="323.76" stroke="#1c1c1c" stroke-width="0.8" stroke-linecap="butt"/>
<line x1="439.73" y1="329.84" x2="443.93" y2="329.84" stroke="#1c1c1c" stroke-width="0.8" stroke-linecap="butt"/>
<line x1="445.57" y1="312.91" x2="445.57" y2="319.29" stroke="#1c1c1c" stroke-width="0.8" stroke-linecap="butt"/>
<line x1="443.47" y1="312.91" x2="447.67" y2="312.91" stroke="#1c1c1c" stroke-width="0.8" stroke-linecap="butt"/>
<line x1="443.47" y1="319.29" x2="447.67" y2="319.29" stroke="#1c1c1c" stroke-width="0.8" stroke-linecap="butt"/>
<line x1="445.57" y1="321.21" x2="445.57" y2="328.39" stroke="#1c1c1c" stroke-width="0.8" stroke-linecap="butt"/>
<line x1="443.47" y1="321.21" x2="447.67" y2="321.21" stroke="#1c1c1c" stroke-width="0.8" stroke-linecap="butt"/>
<line x1="443.47" y1="328.39" x2="447.67" y2="328.39" stroke="#1c1c1c" stroke-width="0.8" stroke-linecap="butt"/>
<line x1="449.32" y1="315.14" x2="449.32" y2="322.26" stroke="#1c1c1c" stroke-width="0.8" stroke-linecap="butt"/>
<line x1="447.22" y1="315.14" x2="451.42" y2="315.14" stroke="#1c1c1c" stroke-width="0.8" stroke-linecap="butt"/>
<line x1="447.22" y1="322.26" x2="451.42" y2="322.26" stroke="#1c1c1c" stroke-width="0.8" stroke-linecap="butt"/>
<line x1="449.32" y1="314.53" x2="449.32" y2="320.87" stroke="#1c1c1c" stroke-width="0.8" stroke-linecap="butt"/>
<line x1="447.22" y1="314.53" x2="451.42" y2="314.53" stroke="#1c1c1c" stroke-width="0.8" stroke-linecap="butt"/>
<line x1="447.22" y1="320.87" x2="451.42" y2="320.87" stroke="#1c1c1c" stroke-width="0.8" stroke-linecap="butt"/>
<line x1="453.06" y1="316.14" x2="453.06" y2="324.06" stroke="#1c1c1c" stroke-width="0.8" stroke-linecap="butt"/>
<line x1="450.96" y1="316.14" x2="455.16" y2="316.14" stroke="#1c1c1c" stroke-width="0.8" stroke-linecap="butt"/>
<line x1="450.96" y1="324.06" x2="455.16" y2="324.06" stroke="#1c1c1c" stroke-width="0.8" stroke-linecap="butt"/>
<line x1="453.06" y1="305.85" x2="453.06" y2="312.55" stroke="#1c1c1c" stroke-width="0.8" stroke-linecap="butt"/>
<line x1="450.96" y1="305.85" x2="455.16" y2="305.85" stroke="#1c1c1c" stroke-width="0.8" stroke-linecap="butt"/>
<line x1="450.96" y1="312.55" x2="455.16" y2="312.55" stroke="#1c1c1c" stroke-width="0.8" stroke-linecap="butt"/>
<line x1="456.81" y1="315.79" x2="456.81" y2="322.81" stroke="#1c1c1c" stroke-width="0.8" stroke-linecap="butt"/>
<line x1="454.71" y1="315.79" x2="458.91" y2="315.79" stroke="#1c1c1c" stroke-width="0.8" stroke-linecap="butt"/>
<line x1="454.71" y1="322.81" x2="458.91" y2="322.81" stroke="#1c1c1c" stroke-width="0.8" stroke-linecap="butt"/>
<line x1="456.81" y1="305.38" x2="456.81" y2="313.02" stroke="#1c1c1c" stroke-width="0.8" stroke-linecap="butt"/>
<line x1="454.71" y1="305.38" x2="458.91" y2="305.38" stroke="#1c1c1c" stroke-width="0.8" stroke-linecap="butt"/>
<line x1="454.71" y1="313.02" x2="458.91" y2="313.02" stroke="#1c1c1c" stroke-width="0.8" stroke-linecap="butt"/>
<line x1="460.55" y1="310.82" x2="460.55" y2="318.58" stroke="#1c1c1c" stroke-width="0.8" stroke-linecap="butt"/>
<line x1="458.45" y1="310.82" x2="462.65" y2="310.82" stroke="#1c1c1c" stroke-width="0.8" stroke-linecap="butt"/>
<line x1="458.45" y1="318.58" x2="462.65" y2="318.58" stroke="#1c1c1c" stroke-width="0.8" stroke-linecap="butt"/>
<line x1="460.55" y1="301.61" x2="460.55" y2="309.59" stroke="#1c1c1c" stroke-width="0.8" stroke-linecap="butt"/>
<line x1="458.45" y1="301.61" x2="462.65" y2="301.61" stroke="#1c1c1c" stroke-width="0.8" stroke-linecap="butt"/>
<line x1="458.45" y1="309.59" x2="462.65" y2="309.59" stroke="#1c1c1c" stroke-width="0.8" stroke-linecap="butt"/>
<line x1="464.3" y1="309.13" x2="464.3" y2="318.27" stroke="#1c1c1c" stroke-width="0.8" stroke-linecap="butt"/>
<line x1="462.2" y1="309.13" x2="466.4" y2="309.13" stroke="#1c1c1c" stroke-width="0.8" stroke-linecap="butt"/>
<line x1="462.2" y1="318.27" x2="466.4" y2="318.27" stroke="#1c1c1c" stroke-width="0.8" stroke-linecap="butt"/>
<line x1="464.3" y1="298.78" x2="464.3" y2="308.42" stroke="#1c1c1c" stroke-width="0.8" stroke-linecap="butt"/>
<line x1="462.2" y1="298.78" x2="466.4" y2="298.78" stroke="#1c1c1c" stroke-width="0.8" stroke-linecap="butt"/>
<line x1="462.2" y1="308.42" x2="466.4" y2="308.42" stroke="#1c1c1c" stroke-width="0.8" stroke-linecap="butt"/>
<line x1="468.05" y1="308.63" x2="468.05" y2="317.97" stroke="#1c1c1c" stroke-width="0.8" stroke-linecap="butt"/>
<line x1="465.95" y1="308.63" x2="470.15" y2="308.63" stroke="#1c1c1c" stroke-width="0.8" stroke-linecap="butt"/>
<line x1="465.95" y1="317.97" x2="470.15" y2="317.97" stroke="#1c1c1c" stroke-width="0.8" stroke-linecap="butt"/>
<line x1="468.05" y1="293.47" x2="468.05" y2="303.53" stroke="#1c1c1c" stroke-width="0.8" stroke-linecap="butt"/>
<line x1="465.95" y1="293.47" x2="470.15" y2="293.47" stroke="#1c1c1c" stroke-width="0.8" stroke-linecap="butt"/>
<line x1="465.95" y1="303.53" x2="470.15" y2="303.53" stroke="#1c1c1c" stroke-width="0.8" stroke-linecap="butt"/>
<line x1="471.79" y1="305.51" x2="471.79" y2="314.49" stroke="#1c1c1c" stroke-width="0.8" stroke-linecap="butt"/>
<line x1="469.69" y1="305.51" x2="473.89" y2="305.51" stroke="#1c1c1c" stroke-width="0.8" stroke-linecap="butt"/>
<line x1="469.69" y1="314.49" x2="473.89" y2="314.49" stroke="#1c1c1c" stroke-width="0.8" stroke-linecap="butt"/>
<line x1="471.79" y1="287.71" x2="471.79" y2="297.29" stroke="#1c1c1c" stroke-width="0.8" stroke-linecap="butt"/>
<line x1="469.69" y1="287.71" x2="473.89" y2="287.71" stroke="#1c1c1c" stroke-width="0.8" stroke-linecap="butt"/>
<line x1="469.69" y1="297.29" x2="473.89" y2="297.29" stroke="#1c1c1c" stroke-width="0.8" stroke-linecap="butt"/>
<line x1="475.54" y1="305.17" x2="475.54" y2="314.83" stroke="#1c1c1c" stroke-width="0.8" stroke-linecap="butt"/>
<line x1="473.44" y1="305.17" x2="477.64" y2="305.17" stroke="#1c1c1c" stroke-width="0.8" stroke-linecap="butt"/>
<line x1="473.44" y1="314.83" x2="477.64" y2="314.83" stroke="#1c1c1c" stroke-width="0.8" stroke-linecap="butt"/>
<line x1="475.54" y1="283.3" x2="475.54" y2="293.5" stroke="#1c1c1c" stroke-width="0.8" stroke-linecap="butt"/>
<line x1="473.44" y1="283.3" x2="477.64" y2="283.3" stroke="#1c1c1c" stroke-width="0.8" stroke-linecap="butt"/>
<line x1="473.44" y1="293.5" x2="477.64" y2="293.5" stroke="#1c1c1c" stroke-width="0.8" stroke-linecap="butt"/>
<line x1="479.28" y1="299.2" x2="479.28" y2="310" stroke="#1c1c1c" stroke-width="0.8" stroke-linecap="butt"/>
<line x1="477.18" y1="299.2" x2="481.38" y2="299.2" stroke="#1c1c1c" stroke-width="0.8" stroke-linecap="butt"/>
<line x1="477.18" y1="310" x2="481.38" y2="310" stroke="#1c1c1c" stroke-width="0.8" stroke-linecap="butt"/>
<line x1="479.28" y1="279.73" x2="479.28" y2="291.07" stroke="#1c1c1c" stroke-width="0.8" stroke-linecap="butt"/>
<line x1="477.18" y1="279.73" x2="481.38" y2="279.73" stroke="#1c1c1c" stroke-width="0.8" stroke-linecap="butt"/>
<line x1="477.18" y1="291.07" x2="481.38" y2="291.07" stroke="#1c1c1c" stroke-width="0.8" stroke-linecap="butt"/>
<line x1="483.03" y1="301.24" x2="483.03" y2="311.96" stroke="#1c1c1c" stroke-width="0.8" stroke-linecap="butt"/>
<line x1="480.93" y1="301.24" x2="485.13" y2="301.24" stroke="#1c1c1c" stroke-width="0.8" stroke-linecap="butt"/>
<line x1="480.93" y1="311.96" x2="485.13" y2="311.96" stroke="#1c1c1c" stroke-width="0.8" stroke-linecap="butt"/>
<line x1="483.03" y1="276.42" x2="483.03" y2="286.18" stroke="#1c1c1c" stroke-width="0.8" stroke-linecap="butt"/>
<line x1="480.93" y1="276.42" x2="485.13" y2="276.42" stroke="#1c1c1c" stroke-width="0.8" stroke-linecap="butt"/>
<line x1="480.93" y1="286.18" x2="485.13" y2="286.18" stroke="#1c1c1c" stroke-width="0.8" stroke-linecap="butt"/>
<line x1="486.77" y1="304.34" x2="486.77" y2="314.06" stroke="#1c1c1c" stroke-width="0.8" stroke-linecap="butt"/>
<line x1="484.67" y1="304.34" x2="488.87" y2="304.34" stroke="#1c1c1c" stroke-width="0.8" stroke-linecap="butt"/>
<line x1="484.67" y1="314.06" x2="488.87" y2="314.06" stroke="#1c1c1c" stroke-width="0.8" stroke-linecap="butt"/>
<line x1="486.77" y1="271.58" x2="486.77" y2="283.02" stroke="#1c1c1c" stroke-width="0.8" stroke-linecap="butt"/>
<line x1="484.67" y1="271.58" x2="488.87" y2="271.58" stroke="#1c1c1c" stroke-width="0.8" stroke-linecap="butt"/>
<line x1="484.67" y1="283.02" x2="488.87" y2="283.02" stroke="#1c1c1c" stroke-width="0.8" stroke-linecap="butt"/>
<line x1="490.52" y1="298.02" x2="490.52" y2="308.38" stroke="#1c1c1c" stroke-width="0.8" stroke-linecap="butt"/>
<line x1="488.42" y1="298.02" x2="492.62" y2="298.02" stroke="#1c1c1c" stroke-width="0.8" stroke-linecap="butt"/>
<line x1="488.42" y1="308.38" x2="492.62" y2="308.38" stroke="#1c1c1c" stroke-width="0.8" stroke-linecap="butt"/>
<line x1="490.52" y1="269.81" x2="490.52" y2="280.79" stroke="#1c1c1c" stroke-width="0.8" stroke-linecap="butt"/>
<line x1="488.42" y1="269.81" x2="492.62" y2="269.81" stroke="#1c1c1c" stroke-width="0.8" stroke-linecap="butt"/>
<line x1="488.42" y1="280.79" x2="492.62" y2="280.79" stroke="#1c1c1c" stroke-width="0.8" stroke-linecap="butt"/>
<line x1="494.26" y1="301.58" x2="494.26" y2="311.62" stroke="#1c1c1c" stroke-width="0.8" stroke-linecap="butt"/>
<line x1="492.16" y1="301.58" x2="496.36" y2="301.58" stroke="#1c1c1c" stroke-width="0.8" stroke-linecap="butt"/>
<line x1="492.16" y1="311.62" x2="496.36" y2="311.62" stroke="#1c1c1c" stroke-width="0.8" stroke-linecap="butt"/>
<line x1="494.26" y1="268.31" x2="494.26" y2="278.29" stroke="#1c1c1c" stroke-width="0.8" stroke-linecap="butt"/>
<line x1="492.16" y1="268.31" x2="496.36" y2="268.31" stroke="#1c1c1c" stroke-width="0.8" stroke-linecap="butt"/>
<line x1="492.16" y1="278.29" x2="496.36" y2="278.29" stroke="#1c1c1c" stroke-width="0.8" stroke-linecap="butt"/>
<line x1="498.01" y1="293.22" x2="498.01" y2="303.78" stroke="#1c1c1c" stroke-width="0.8" stroke-linecap="butt"/>
<line x1="495.91" y1="293.22" x2="500.11" y2="293.22" stroke="#1c1c1c" stroke-width="0.8" stroke-linecap="butt"/>
<line x1="495.91" y1="303.78" x2="500.11" y2="303.78" stroke="#1c1c1c" stroke-width="0.8" stroke-linecap="butt"/>
<line x1="498.01" y1="260.42" x2="498.01" y2="271.98" stroke="#1c1c1c" stroke-width="0.8" stroke-linecap="butt"/>
<line x1="495.91" y1="260.42" x2="500.11" y2="260.42" stroke="#1c1c1c" stroke-width="0.8" stroke-linecap="butt"/>
<line x1="495.91" y1="271.98" x2="500.11" y2="271.98" stroke="#1c1c1c" stroke-width="0.8" stroke-linecap="butt"/>
<line x1="501.75" y1="299.12" x2="501.75" y2="308.08" stroke="#1c1c1c" stroke-width="0.8" stroke-linecap="butt"/>
<line x1="499.65" y1="299.12" x2="503.85" y2="299.12" stroke="#1c1c1c" stroke-width="0.8" stroke-linecap="butt"/>
<line x1="499.65" y1="308.08" x2="503.85" y2="308.08" stroke="#1c1c1c" stroke-width="0.8" stroke-linecap="butt"/>
<line x1="501.75" y1="263.09" x2="501.75" y2="274.51" stroke="#1c1c1c" stroke-width="0.8" stroke-linecap="butt"/>
<line x1="499.65" y1="263.09" x2="503.85" y2="263.09" stroke="#1c1c1c" stroke-width="0.8" stroke-linecap="butt"/>
<line x1="499.65" y1="274.51" x2="503.85" y2="274.51" stroke="#1c1c1c" stroke-width="0.8" stroke-linecap="butt"/>
<line x1="505.5" y1="294.21" x2="505.5" y2="303.99" stroke="#1c1c1c" stroke-width="0.8" stroke-linecap="butt"/>
<line x1="503.4" y1="294.21" x2="507.6" y2="294.21" stroke="#1c1c1c" stroke-width="0.8" stroke-linecap="butt"/>
<line x1="503.4" y1="303.99" x2="507.6" y2="303.99" stroke="#1c1c1c" stroke-width="0.8" stroke-linecap="butt"/>
<line x1="505.5" y1="249.19" x2="505.5" y2="260.21" stroke="#1c1c1c" stroke-width="0.8" stroke-linecap="butt"/>
<line x1="503.4" y1="249.19" x2="507.6" y2="249.19" stroke="#1c1c1c" stroke-width="0.8" stroke-linecap="butt"/>
<line x1="503.4" y1="260.21" x2="507.6" y2="260.21" stroke="#1c1c1c" stroke-width="0.8" stroke-linecap="butt"/>
<line x1="508.9" y1="323.4" x2="508.9" y2="335.4" stroke="#1c1c1c" stroke-width="0.8" stroke-linecap="butt"/>
<line x1="506.8" y1="323.4" x2="511" y2="323.4" stroke="#1c1c1c" stroke-width="0.8" stroke-linecap="butt"/>
<line x1="506.8" y1="335.4" x2="511" y2="335.4" stroke="#1c1c1c" stroke-width="0.8" stroke-linecap="butt"/>
<line x1="508.9" y1="315.7" x2="508.9" y2="323.7" stroke="#1c1c1c" stroke-width="0.8" stroke-linecap="butt"/>
<line x1="506.8" y1="315.7" x2="511" y2="315.7" stroke="#1c1c1c" stroke-width="0.8" stroke-linecap="butt"/>
<line x1="506.8" y1="323.7" x2="511" y2="323.7" stroke="#1c1c1c" stroke-width="0.8" stroke-linecap="butt"/>
<polyline points="423.1,321.7 426.85,320.7 430.59,318.1 434.34,319.3 438.08,320.7 441.83,325.8 445.57,316.1 449.32,318.7 453.06,320.1 456.81,319.3 460.55,314.7 464.3,313.7 468.05,313.3 471.79,310 475.54,310 479.28,304.6 483.03,306.6 486.77,309.2 490.52,303.2 494.26,306.6 498.01,298.5 501.75,303.6 505.5,299.1 508.9,329.4" fill="none" stroke="#222" stroke-width="0.8" stroke-linejoin="round" stroke-linecap="round" />
<polyline points="423.1,325.8 426.85,327.8 430.59,327.8 434.34,324.8 438.08,325.8 441.83,326.8 445.57,324.8 449.32,317.7 453.06,309.2 456.81,309.2 460.55,305.6 464.3,303.6 468.05,298.5 471.79,292.5 475.54,288.4 479.28,285.4 483.03,281.3 486.77,277.3 490.52,275.3 494.26,273.3 498.01,266.2 501.75,268.8 505.5,254.7 508.9,319.7" fill="none" stroke="#222" stroke-width="0.8" stroke-linejoin="round" stroke-linecap="round" />
<circle cx="423.1" cy="321.7" r="2.15" fill="#111" stroke="#111" stroke-width="0.5"/>
<circle cx="426.85" cy="320.7" r="2.15" fill="#111" stroke="#111" stroke-width="0.5"/>
<circle cx="430.59" cy="318.1" r="2.15" fill="#111" stroke="#111" stroke-width="0.5"/>
<circle cx="434.34" cy="319.3" r="2.15" fill="#111" stroke="#111" stroke-width="0.5"/>
<circle cx="438.08" cy="320.7" r="2.15" fill="#111" stroke="#111" stroke-width="0.5"/>
<circle cx="441.83" cy="325.8" r="2.15" fill="#111" stroke="#111" stroke-width="0.5"/>
<circle cx="445.57" cy="316.1" r="2.15" fill="#111" stroke="#111" stroke-width="0.5"/>
<circle cx="449.32" cy="318.7" r="2.15" fill="#111" stroke="#111" stroke-width="0.5"/>
<circle cx="453.06" cy="320.1" r="2.15" fill="#111" stroke="#111" stroke-width="0.5"/>
<circle cx="456.81" cy="319.3" r="2.15" fill="#111" stroke="#111" stroke-width="0.5"/>
<circle cx="460.55" cy="314.7" r="2.15" fill="#111" stroke="#111" stroke-width="0.5"/>
<circle cx="464.3" cy="313.7" r="2.15" fill="#111" stroke="#111" stroke-width="0.5"/>
<circle cx="468.05" cy="313.3" r="2.15" fill="#111" stroke="#111" stroke-width="0.5"/>
<circle cx="471.79" cy="310" r="2.15" fill="#111" stroke="#111" stroke-width="0.5"/>
<circle cx="475.54" cy="310" r="2.15" fill="#111" stroke="#111" stroke-width="0.5"/>
<circle cx="479.28" cy="304.6" r="2.15" fill="#111" stroke="#111" stroke-width="0.5"/>
<circle cx="483.03" cy="306.6" r="2.15" fill="#111" stroke="#111" stroke-width="0.5"/>
<circle cx="486.77" cy="309.2" r="2.15" fill="#111" stroke="#111" stroke-width="0.5"/>
<circle cx="490.52" cy="303.2" r="2.15" fill="#111" stroke="#111" stroke-width="0.5"/>
<circle cx="494.26" cy="306.6" r="2.15" fill="#111" stroke="#111" stroke-width="0.5"/>
<circle cx="498.01" cy="298.5" r="2.15" fill="#111" stroke="#111" stroke-width="0.5"/>
<circle cx="501.75" cy="303.6" r="2.15" fill="#111" stroke="#111" stroke-width="0.5"/>
<circle cx="505.5" cy="299.1" r="2.15" fill="#111" stroke="#111" stroke-width="0.5"/>
<circle cx="508.9" cy="329.4" r="2.15" fill="#111" stroke="#111" stroke-width="0.5"/>
<circle cx="423.1" cy="325.8" r="1.95" fill="#fff" stroke="#111" stroke-width="0.95"/>
<circle cx="426.85" cy="327.8" r="1.95" fill="#fff" stroke="#111" stroke-width="0.95"/>
<circle cx="430.59" cy="327.8" r="1.95" fill="#fff" stroke="#111" stroke-width="0.95"/>
<circle cx="434.34" cy="324.8" r="1.95" fill="#fff" stroke="#111" stroke-width="0.95"/>
<circle cx="438.08" cy="325.8" r="1.95" fill="#fff" stroke="#111" stroke-width="0.95"/>
<circle cx="441.83" cy="326.8" r="1.95" fill="#fff" stroke="#111" stroke-width="0.95"/>
<circle cx="445.57" cy="324.8" r="1.95" fill="#fff" stroke="#111" stroke-width="0.95"/>
<circle cx="449.32" cy="317.7" r="1.95" fill="#fff" stroke="#111" stroke-width="0.95"/>
<circle cx="453.06" cy="309.2" r="1.95" fill="#fff" stroke="#111" stroke-width="0.95"/>
<circle cx="456.81" cy="309.2" r="1.95" fill="#fff" stroke="#111" stroke-width="0.95"/>
<circle cx="460.55" cy="305.6" r="1.95" fill="#fff" stroke="#111" stroke-width="0.95"/>
<circle cx="464.3" cy="303.6" r="1.95" fill="#fff" stroke="#111" stroke-width="0.95"/>
<circle cx="468.05" cy="298.5" r="1.95" fill="#fff" stroke="#111" stroke-width="0.95"/>
<circle cx="471.79" cy="292.5" r="1.95" fill="#fff" stroke="#111" stroke-width="0.95"/>
<circle cx="475.54" cy="288.4" r="1.95" fill="#fff" stroke="#111" stroke-width="0.95"/>
<circle cx="479.28" cy="285.4" r="1.95" fill="#fff" stroke="#111" stroke-width="0.95"/>
<circle cx="483.03" cy="281.3" r="1.95" fill="#fff" stroke="#111" stroke-width="0.95"/>
<circle cx="486.77" cy="277.3" r="1.95" fill="#fff" stroke="#111" stroke-width="0.95"/>
<circle cx="490.52" cy="275.3" r="1.95" fill="#fff" stroke="#111" stroke-width="0.95"/>
<circle cx="494.26" cy="273.3" r="1.95" fill="#fff" stroke="#111" stroke-width="0.95"/>
<circle cx="498.01" cy="266.2" r="1.95" fill="#fff" stroke="#111" stroke-width="0.95"/>
<circle cx="501.75" cy="268.8" r="1.95" fill="#fff" stroke="#111" stroke-width="0.95"/>
<circle cx="505.5" cy="254.7" r="1.95" fill="#fff" stroke="#111" stroke-width="0.95"/>
<circle cx="508.9" cy="319.7" r="1.95" fill="#fff" stroke="#111" stroke-width="0.95"/>
<line x1="433.2" y1="349.4" x2="433.2" y2="341.5" stroke="#231f20" stroke-width="1.1" stroke-linecap="butt"/>
<polygon points="433.2,338.0 431.0,343.6 435.4,343.6" fill="#231f20"/>
<text x="430" y="361.2" font-size="10.7" fill="#231f20" stroke="#231f20" stroke-width="0.32" text-anchor="start" font-weight="normal" >1 mmol/L [glucose]</text>
<text x="1" y="389.8" font-size="20" fill="#231f20" stroke="#231f20" stroke-width="0.32" text-anchor="start" font-weight="bold" >F</text>
<rect x="34.7" y="397.6" width="86.6" height="120.6" fill="none" stroke="#5a5a5a" stroke-width="0.8"/>
<rect x="55" y="396.6" width="3.2" height="2" fill="#fff" stroke="none" stroke-width="0"/>
<line x1="54.9" y1="391.2" x2="54.9" y2="404" stroke="#5a5a5a" stroke-width="0.8" stroke-linecap="butt"/>
<line x1="58.3" y1="391.2" x2="58.3" y2="404" stroke="#5a5a5a" stroke-width="0.8" stroke-linecap="butt"/>
<rect x="55" y="517.2" width="3.2" height="2" fill="#fff" stroke="none" stroke-width="0"/>
<line x1="54.9" y1="511.8" x2="54.9" y2="524.6" stroke="#5a5a5a" stroke-width="0.8" stroke-linecap="butt"/>
<line x1="58.3" y1="511.8" x2="58.3" y2="524.6" stroke="#5a5a5a" stroke-width="0.8" stroke-linecap="butt"/>
<text x="26.4" y="420" font-size="9.8" fill="#231f20" stroke="#231f20" stroke-width="0.32" text-anchor="middle" font-weight="normal" >8</text>
<line x1="32" y1="416.4" x2="34.7" y2="416.4" stroke="#5a5a5a" stroke-width="0.8" stroke-linecap="butt"/>
<text x="26.4" y="445.6" font-size="9.8" fill="#231f20" stroke="#231f20" stroke-width="0.32" text-anchor="middle" font-weight="normal" >6</text>
<line x1="32" y1="442" x2="34.7" y2="442" stroke="#5a5a5a" stroke-width="0.8" stroke-linecap="butt"/>
<text x="26.4" y="471.1" font-size="9.8" fill="#231f20" stroke="#231f20" stroke-width="0.32" text-anchor="middle" font-weight="normal" >4</text>
<line x1="32" y1="467.5" x2="34.7" y2="467.5" stroke="#5a5a5a" stroke-width="0.8" stroke-linecap="butt"/>
<text x="26.4" y="496.6" font-size="9.8" fill="#231f20" stroke="#231f20" stroke-width="0.32" text-anchor="middle" font-weight="normal" >2</text>
<line x1="32" y1="493" x2="34.7" y2="493" stroke="#5a5a5a" stroke-width="0.8" stroke-linecap="butt"/>
<text x="15.8" y="494.4" font-size="10.6" fill="#231f20" stroke="#231f20" stroke-width="0.32" text-anchor="start" font-weight="normal" transform="rotate(-90 15.8 494.4)" >Glycemia (mmol/L)</text>
<line x1="72.8" y1="518.2" x2="72.8" y2="520" stroke="#5a5a5a" stroke-width="0.8" stroke-linecap="butt"/>
<line x1="97.4" y1="518.2" x2="97.4" y2="520" stroke="#5a5a5a" stroke-width="0.8" stroke-linecap="butt"/>
<line x1="111.7" y1="518.2" x2="111.7" y2="520" stroke="#5a5a5a" stroke-width="0.8" stroke-linecap="butt"/>
<line x1="47.7" y1="409.4" x2="47.7" y2="422.7" stroke="#222" stroke-width="0.7" stroke-linecap="butt"/>
<line x1="44.1" y1="409.4" x2="51.3" y2="409.4" stroke="#222" stroke-width="0.7" stroke-linecap="butt"/>
<line x1="44.1" y1="422.7" x2="51.3" y2="422.7" stroke="#222" stroke-width="0.7" stroke-linecap="butt"/>
<line x1="97.4" y1="490.5" x2="97.4" y2="497" stroke="#222" stroke-width="0.6" stroke-linecap="butt"/>
<line x1="94.8" y1="490.5" x2="100" y2="490.5" stroke="#222" stroke-width="0.6" stroke-linecap="butt"/>
<line x1="94.8" y1="497" x2="100" y2="497" stroke="#222" stroke-width="0.6" stroke-linecap="butt"/>
<line x1="48.6" y1="416.5" x2="55" y2="428.9" stroke="#222" stroke-width="0.9" stroke-linecap="butt"/>
<line x1="49.2" y1="416" x2="55" y2="427.6" stroke="#222" stroke-width="0.6" stroke-linecap="butt"/>
<line x1="58.3" y1="461" x2="72.8" y2="479.9" stroke="#333" stroke-width="0.7" stroke-linecap="butt"/>
<line x1="58.3" y1="464.2" x2="72.8" y2="484.2" stroke="#333" stroke-width="0.7" stroke-linecap="butt"/>
<polyline points="72.8,479.9 97.4,483.4 111.7,481.7" fill="none" stroke="#333" stroke-width="0.7" stroke-linejoin="round" stroke-linecap="round" />
<polyline points="72.8,484.2 97.4,493.7 111.7,483.4" fill="none" stroke="#333" stroke-width="0.7" stroke-linejoin="round" stroke-linecap="round" />
<circle cx="47.7" cy="415.9" r="3.3" fill="#111" stroke="#111" stroke-width="0.4"/>
<circle cx="72.8" cy="479.9" r="3.3" fill="#111" stroke="#111" stroke-width="0.4"/>
<circle cx="97.4" cy="483.4" r="3.3" fill="#111" stroke="#111" stroke-width="0.4"/>
<circle cx="111.7" cy="481.7" r="3.3" fill="#111" stroke="#111" stroke-width="0.4"/>
<circle cx="47.7" cy="415.2" r="2.9" fill="#ec2f2b" stroke="#5a1515" stroke-width="0.6"/>
<circle cx="72.8" cy="484.2" r="2.9" fill="#ec2f2b" stroke="#5a1515" stroke-width="0.6"/>
<circle cx="97.4" cy="493.7" r="2.9" fill="#ec2f2b" stroke="#5a1515" stroke-width="0.6"/>
<circle cx="111.7" cy="483.4" r="2.9" fill="#ec2f2b" stroke="#5a1515" stroke-width="0.6"/>
<text x="98.8" y="410.3" font-size="9.8" fill="#231f20" stroke="#231f20" stroke-width="0.32" text-anchor="middle" font-weight="normal" >Saline</text>
<text x="98.8" y="422.5" font-size="9.8" fill="#ec2f2b" stroke="#ec2f2b" stroke-width="0.32" text-anchor="middle" font-weight="normal" >NBQX</text>
<line x1="83.6" y1="428.3" x2="115.9" y2="428.3" stroke="#231f20" stroke-width="0.9" stroke-linecap="butt"/>
<text transform="translate(47.7 527.6) rotate(-45)" font-size="9.9" fill="#231f20" stroke="#231f20" stroke-width="0.2" text-anchor="middle" dy="3.5">0</text>
<text transform="translate(71.2 527.6) rotate(-45)" font-size="9.9" fill="#231f20" stroke="#231f20" stroke-width="0.2" text-anchor="middle" dy="3.5">50</text>
<text transform="translate(96.6 527.6) rotate(-45)" font-size="9.9" fill="#231f20" stroke="#231f20" stroke-width="0.2" text-anchor="middle" dy="3.5">75</text>
<text transform="translate(111.3 527.6) rotate(-45)" font-size="9.9" fill="#231f20" stroke="#231f20" stroke-width="0.2" text-anchor="middle" dy="3.5">90</text>
<text x="78.8" y="545" font-size="10.6" fill="#231f20" stroke="#231f20" stroke-width="0.32" text-anchor="middle" font-weight="normal" >Time (min)</text>
<rect x="165.7" y="397.3" width="85.9" height="120.7" fill="none" stroke="#5a5a5a" stroke-width="0.8"/>
<rect x="185.4" y="396.3" width="2.9" height="2" fill="#fff" stroke="none" stroke-width="0"/>
<line x1="185.2" y1="390.9" x2="185.2" y2="403.7" stroke="#5a5a5a" stroke-width="0.8" stroke-linecap="butt"/>
<line x1="188.5" y1="390.9" x2="188.5" y2="403.7" stroke="#5a5a5a" stroke-width="0.8" stroke-linecap="butt"/>
<rect x="185.4" y="517" width="2.9" height="2" fill="#fff" stroke="none" stroke-width="0"/>
<line x1="185.2" y1="511.6" x2="185.2" y2="524.4" stroke="#5a5a5a" stroke-width="0.8" stroke-linecap="butt"/>
<line x1="188.5" y1="511.6" x2="188.5" y2="524.4" stroke="#5a5a5a" stroke-width="0.8" stroke-linecap="butt"/>
<text x="160.6" y="413.7" font-size="9.8" fill="#231f20" stroke="#231f20" stroke-width="0.32" text-anchor="end" font-weight="normal" >80</text>
<line x1="162.7" y1="410.1" x2="165.7" y2="410.1" stroke="#5a5a5a" stroke-width="0.8" stroke-linecap="butt"/>
<text x="160.6" y="440.6" font-size="9.8" fill="#231f20" stroke="#231f20" stroke-width="0.32" text-anchor="end" font-weight="normal" >60</text>
<line x1="162.7" y1="437" x2="165.7" y2="437" stroke="#5a5a5a" stroke-width="0.8" stroke-linecap="butt"/>
<text x="160.6" y="467.2" font-size="9.8" fill="#231f20" stroke="#231f20" stroke-width="0.32" text-anchor="end" font-weight="normal" >40</text>
<line x1="162.7" y1="463.6" x2="165.7" y2="463.6" stroke="#5a5a5a" stroke-width="0.8" stroke-linecap="butt"/>
<text x="160.6" y="494" font-size="9.8" fill="#231f20" stroke="#231f20" stroke-width="0.32" text-anchor="end" font-weight="normal" >20</text>
<line x1="162.7" y1="490.4" x2="165.7" y2="490.4" stroke="#5a5a5a" stroke-width="0.8" stroke-linecap="butt"/>
<text x="140.8" y="491.8" font-size="10.6" fill="#231f20" stroke="#231f20" stroke-width="0.32" text-anchor="start" font-weight="normal" transform="rotate(-90 140.8 491.8)" >Glucagon (pmol/L)</text>
<line x1="203.3" y1="518" x2="203.3" y2="519.8" stroke="#5a5a5a" stroke-width="0.8" stroke-linecap="butt"/>
<line x1="227.2" y1="518" x2="227.2" y2="519.8" stroke="#5a5a5a" stroke-width="0.8" stroke-linecap="butt"/>
<line x1="241.9" y1="518" x2="241.9" y2="519.8" stroke="#5a5a5a" stroke-width="0.8" stroke-linecap="butt"/>
<line x1="178.3" y1="495.4" x2="178.3" y2="507.5" stroke="#6a6a6a" stroke-width="0.75" stroke-linecap="butt"/>
<line x1="174.7" y1="495.4" x2="181.9" y2="495.4" stroke="#6a6a6a" stroke-width="0.75" stroke-linecap="butt"/>
<line x1="174.7" y1="507.5" x2="181.9" y2="507.5" stroke="#6a6a6a" stroke-width="0.75" stroke-linecap="butt"/>
<line x1="203.3" y1="406.9" x2="203.3" y2="467.8" stroke="#6a6a6a" stroke-width="0.75" stroke-linecap="butt"/>
<line x1="199.7" y1="406.9" x2="206.9" y2="406.9" stroke="#6a6a6a" stroke-width="0.75" stroke-linecap="butt"/>
<line x1="199.7" y1="467.8" x2="206.9" y2="467.8" stroke="#6a6a6a" stroke-width="0.75" stroke-linecap="butt"/>
<line x1="200.1" y1="457.2" x2="206.5" y2="457.2" stroke="#6a6a6a" stroke-width="0.7" stroke-linecap="butt"/>
<line x1="227.2" y1="456" x2="227.2" y2="476.3" stroke="#6a6a6a" stroke-width="0.75" stroke-linecap="butt"/>
<line x1="223.6" y1="456" x2="230.8" y2="456" stroke="#6a6a6a" stroke-width="0.75" stroke-linecap="butt"/>
<line x1="223.6" y1="476.3" x2="230.8" y2="476.3" stroke="#6a6a6a" stroke-width="0.75" stroke-linecap="butt"/>
<line x1="227.2" y1="490.4" x2="227.2" y2="500.2" stroke="#6a6a6a" stroke-width="0.75" stroke-linecap="butt"/>
<line x1="223.6" y1="490.4" x2="230.8" y2="490.4" stroke="#6a6a6a" stroke-width="0.75" stroke-linecap="butt"/>
<line x1="223.6" y1="500.2" x2="230.8" y2="500.2" stroke="#6a6a6a" stroke-width="0.75" stroke-linecap="butt"/>
<line x1="241.9" y1="475.5" x2="241.9" y2="495.3" stroke="#6a6a6a" stroke-width="0.75" stroke-linecap="butt"/>
<line x1="238.3" y1="475.5" x2="245.5" y2="475.5" stroke="#6a6a6a" stroke-width="0.75" stroke-linecap="butt"/>
<line x1="238.3" y1="495.3" x2="245.5" y2="495.3" stroke="#6a6a6a" stroke-width="0.75" stroke-linecap="butt"/>
<line x1="238.3" y1="478.2" x2="245.5" y2="478.2" stroke="#6a6a6a" stroke-width="0.75" stroke-linecap="butt"/>
<line x1="179" y1="501.5" x2="184.9" y2="487.8" stroke="#333" stroke-width="0.7" stroke-linecap="butt"/>
<line x1="180.4" y1="501.5" x2="185.6" y2="489.4" stroke="#333" stroke-width="0.7" stroke-linecap="butt"/>
<line x1="188.5" y1="447.6" x2="203.3" y2="430.2" stroke="#333" stroke-width="0.7" stroke-linecap="butt"/>
<line x1="188.5" y1="464" x2="203.3" y2="447.8" stroke="#333" stroke-width="0.7" stroke-linecap="butt"/>
<polyline points="203.3,447.8 227.2,466.1 241.9,482.4" fill="none" stroke="#333" stroke-width="0.7" stroke-linejoin="round" stroke-linecap="round" />
<polyline points="203.3,430.2 227.2,495.6 241.9,486.6" fill="none" stroke="#333" stroke-width="0.7" stroke-linejoin="round" stroke-linecap="round" />
<circle cx="178.3" cy="503" r="3.3" fill="#111" stroke="#111" stroke-width="0.4"/>
<circle cx="203.3" cy="447.8" r="3.3" fill="#111" stroke="#111" stroke-width="0.4"/>
<circle cx="227.2" cy="466.1" r="3.3" fill="#111" stroke="#111" stroke-width="0.4"/>
<circle cx="241.9" cy="482.4" r="3.3" fill="#111" stroke="#111" stroke-width="0.4"/>
<circle cx="178.3" cy="502.2" r="2.9" fill="#ec2f2b" stroke="#5a1515" stroke-width="0.6"/>
<circle cx="203.3" cy="430.2" r="2.9" fill="#ec2f2b" stroke="#5a1515" stroke-width="0.6"/>
<circle cx="227.2" cy="495.6" r="2.9" fill="#ec2f2b" stroke="#5a1515" stroke-width="0.6"/>
<circle cx="241.9" cy="486.6" r="2.9" fill="#ec2f2b" stroke="#5a1515" stroke-width="0.6"/>
<text x="232.2" y="410" font-size="9.8" fill="#231f20" stroke="#231f20" stroke-width="0.32" text-anchor="middle" font-weight="normal" >Saline</text>
<text x="232.2" y="422.4" font-size="9.8" fill="#ec2f2b" stroke="#ec2f2b" stroke-width="0.32" text-anchor="middle" font-weight="normal" >NBQX</text>
<line x1="216.3" y1="427.3" x2="248.9" y2="427.3" stroke="#231f20" stroke-width="0.9" stroke-linecap="butt"/>
<text x="227.1" y="518.4" font-size="16.5" fill="#231f20" stroke="#231f20" stroke-width="0.32" text-anchor="middle" font-weight="normal" font-family='"DejaVu Sans", sans-serif' >*</text>
<text transform="translate(178.3 527.6) rotate(-45)" font-size="9.9" fill="#231f20" stroke="#231f20" stroke-width="0.2" text-anchor="middle" dy="3.5">0</text>
<text transform="translate(201.7 527.6) rotate(-45)" font-size="9.9" fill="#231f20" stroke="#231f20" stroke-width="0.2" text-anchor="middle" dy="3.5">50</text>
<text transform="translate(226.4 527.6) rotate(-45)" font-size="9.9" fill="#231f20" stroke="#231f20" stroke-width="0.2" text-anchor="middle" dy="3.5">75</text>
<text transform="translate(241.5 527.6) rotate(-45)" font-size="9.9" fill="#231f20" stroke="#231f20" stroke-width="0.2" text-anchor="middle" dy="3.5">90</text>
<text x="212.4" y="545" font-size="10.6" fill="#231f20" stroke="#231f20" stroke-width="0.32" text-anchor="middle" font-weight="normal" >Time (min)</text>
<line x1="302.3" y1="395" x2="302.3" y2="520" stroke="#8a8a8a" stroke-width="0.8" stroke-linecap="butt"/>
<line x1="301.9" y1="520" x2="330" y2="520" stroke="#8a8a8a" stroke-width="0.8" stroke-linecap="butt"/>
<text x="293.3" y="409.9" font-size="9.8" fill="#231f20" stroke="#231f20" stroke-width="0.32" text-anchor="middle" font-weight="normal" >6</text>
<line x1="299.4" y1="406.3" x2="302.3" y2="406.3" stroke="#8a8a8a" stroke-width="0.8" stroke-linecap="butt"/>
<text x="293.3" y="448.1" font-size="9.8" fill="#231f20" stroke="#231f20" stroke-width="0.32" text-anchor="middle" font-weight="normal" >4</text>
<line x1="299.4" y1="444.5" x2="302.3" y2="444.5" stroke="#8a8a8a" stroke-width="0.8" stroke-linecap="butt"/>
<text x="293.3" y="486" font-size="9.8" fill="#231f20" stroke="#231f20" stroke-width="0.32" text-anchor="middle" font-weight="normal" >2</text>
<line x1="299.4" y1="482.4" x2="302.3" y2="482.4" stroke="#8a8a8a" stroke-width="0.8" stroke-linecap="butt"/>
<text x="280" y="523" font-size="10.05" fill="#231f20" stroke="#231f20" stroke-width="0.32" text-anchor="start" font-weight="normal" transform="rotate(-90 280 523)" >Glucose infusion rate (<tspan font-family='"Liberation Serif", "DejaVu Serif", serif'>μ</tspan>l/min)</text>
<line x1="311.6" y1="424" x2="311.6" y2="433" stroke="#333" stroke-width="0.8" stroke-linecap="butt"/>
<line x1="308.3" y1="424" x2="314.9" y2="424" stroke="#333" stroke-width="0.8" stroke-linecap="butt"/>
<line x1="322.8" y1="397.6" x2="322.8" y2="407" stroke="#333" stroke-width="0.8" stroke-linecap="butt"/>
<line x1="318.9" y1="397.6" x2="326.9" y2="397.6" stroke="#333" stroke-width="0.8" stroke-linecap="butt"/>
<rect x="307.1" y="432.2" width="9.1" height="87.5" fill="#161616" stroke="none" stroke-width="0"/>
<rect x="318.9" y="406" width="7.7" height="113.7" fill="#ea332c" stroke="#8e1f1c" stroke-width="0.5"/>
<text x="323.1" y="396.4" font-size="16.5" fill="#231f20" stroke="#231f20" stroke-width="0.32" text-anchor="middle" font-weight="normal" font-family='"DejaVu Sans", sans-serif' >*</text>
<text x="280.9" y="545.2" font-size="10.9" fill="#ec2f2b" stroke="#ec2f2b" stroke-width="0.32" text-anchor="middle" font-weight="normal" >NBQX</text>
<text x="311.3" y="545.4" font-size="14" fill="#231f20" stroke="#231f20" stroke-width="0.32" text-anchor="middle" font-weight="normal" >-</text>
<text x="324.6" y="546.4" font-size="14" fill="#231f20" stroke="#231f20" stroke-width="0.32" text-anchor="middle" font-weight="normal" >+</text>
<text x="360" y="389.9" font-size="20" fill="#231f20" stroke="#231f20" stroke-width="0.32" text-anchor="start" font-weight="bold" >G</text>
<path d="M357 521.3 C362.5 521.23 381.33 521.07 390 520.9 C398.67 520.73 402.33 520.6 409 520.3 C415.67 520 423.5 519.48 430 519.1 C436.5 518.72 442.17 518.4 448 518 C453.83 517.6 459.5 517.08 465 516.7 C470.5 516.32 475.17 515.83 481 515.7 C486.83 515.57 494.17 515.67 500 515.9 C505.83 516.13 513.33 516.9 516 517.1 L516 533.6 L500 535.4 L481 537 L460 538.2 L432 539.3 L400 539.6 L357 539.4 Z" fill="#c4c0bb"/>
<path d="M357 521.3 C362.5 521.23 381.33 521.07 390 520.9 C398.67 520.73 402.33 520.6 409 520.3 C415.67 520 423.5 519.48 430 519.1 C436.5 518.72 442.17 518.4 448 518 C453.83 517.6 459.5 517.08 465 516.7 C470.5 516.32 475.17 515.83 481 515.7 C486.83 515.57 494.17 515.67 500 515.9 C505.83 516.13 513.33 516.9 516 517.1" fill="none" stroke="#7a9c52" stroke-width="1.0"/>
<path d="M357 539.4 C364.17 539.43 387.5 539.62 400 539.6 C412.5 539.58 422 539.53 432 539.3 C442 539.07 451.83 538.58 460 538.2 C468.17 537.82 474.33 537.47 481 537 C487.67 536.53 494.17 535.97 500 535.4 C505.83 534.83 513.33 533.9 516 533.6" fill="none" stroke="#7a9c52" stroke-width="1.0"/>
<path d="M357 518 C362.5 517.93 381.33 517.77 390 517.6 C398.67 517.43 402.33 517.3 409 517 C415.67 516.7 423.5 516.18 430 515.8 C436.5 515.42 442.17 515.1 448 514.7 C453.83 514.3 459.5 513.78 465 513.4 C470.5 513.02 475.17 512.53 481 512.4 C486.83 512.27 494.17 512.37 500 512.6 C505.83 512.83 513.33 513.6 516 513.8" fill="none" stroke="#1a1a1a" stroke-width="1.1"/>
<path d="M357 544.2 C364.17 544.23 387.5 544.42 400 544.4 C412.5 544.38 422 544.33 432 544.1 C442 543.87 451.83 543.38 460 543 C468.17 542.62 474.33 542.27 481 541.8 C487.67 541.33 494.17 540.77 500 540.2 C505.83 539.63 513.33 538.7 516 538.4" fill="none" stroke="#1a1a1a" stroke-width="1.1"/>
<path d="M397.3 390.6 C398.07 390.12 399.98 388.57 401.9 387.7 C403.82 386.83 406.3 386.13 408.8 385.4 C411.3 384.67 414 383.83 416.9 383.3 C419.8 382.77 423.68 382.38 426.2 382.2 C428.72 382.02 430.22 382.1 432 382.2 C433.78 382.3 435.12 382.47 436.9 382.8 C438.68 383.13 440.97 383.58 442.7 384.2 C444.43 384.82 445.77 385.43 447.3 386.5 C448.83 387.57 450.55 389.05 451.9 390.6 C453.25 392.15 454.43 393.98 455.4 395.8 C456.37 397.62 457.03 399.38 457.7 401.5 C458.37 403.62 458.82 406.18 459.4 408.5 C459.98 410.82 460.72 413.28 461.2 415.4 C461.68 417.52 461.9 418.63 462.3 421.2 C462.7 423.77 463.18 428.08 463.6 430.8 C464.02 433.52 464.28 435.13 464.8 437.5 C465.32 439.87 465.98 442.5 466.7 445 C467.42 447.5 468.03 449.9 469.1 452.5 C470.17 455.1 471.67 457.75 473.1 460.6 C474.53 463.45 476.28 466.43 477.7 469.6 C479.12 472.77 480.95 477.93 481.6 479.6 L482.8 484.4 C481.82 484.77 479.42 485.85 476.9 486.6 C474.38 487.35 470.52 488.22 467.7 488.9 C464.88 489.58 462.82 490.2 460 490.7 C457.18 491.2 453.23 491.62 450.8 491.9 C448.37 492.18 446.3 492.32 445.4 492.4 L443.2 492 C442.63 491.57 441.03 490.77 439.8 489.4 C438.57 488.03 437.43 486.07 435.8 483.8 C434.17 481.53 432.12 478.58 430 475.8 C427.88 473.02 425.22 469.8 423.1 467.1 C420.98 464.4 419.23 462.2 417.3 459.6 C415.37 457 413.32 454 411.5 451.5 C409.68 449 407.98 446.85 406.4 444.6 C404.82 442.35 403.32 440.37 402 438 C400.68 435.63 399.67 433.2 398.5 430.4 C397.33 427.6 396.17 424.08 395 421.2 C393.83 418.32 392.37 415.22 391.5 413.1 C390.63 410.98 389.88 410.33 389.8 408.5 C389.72 406.67 390.33 404.22 391 402.1 C391.67 399.98 392.75 397.72 393.8 395.8 C394.85 393.88 396.72 391.47 397.3 390.6 Z" fill="#f8f7f6" stroke="none"/>
<g transform="translate(476.6 464.4) rotate(-27) scale(0.8) translate(-476.4 -464.2)" fill="#f8f6f5" stroke="#d6cbc8" stroke-width="1.5">
<rect x="487.0" y="452.2" width="4.6" height="14.5" rx="2.3"/>
<rect x="465.2" y="454.4" width="20.0" height="4.6" rx="2.3"/>
<rect x="467.6" y="461.0" width="19.0" height="4.6" rx="2.3"/>
<rect x="465.2" y="467.6" width="17.0" height="4.6" rx="2.3"/>
</g>
<path d="M397.3 390.6 C398.07 390.12 399.98 388.57 401.9 387.7 C403.82 386.83 406.3 386.13 408.8 385.4 C411.3 384.67 414 383.83 416.9 383.3 C419.8 382.77 423.68 382.38 426.2 382.2 C428.72 382.02 430.22 382.1 432 382.2 C433.78 382.3 435.12 382.47 436.9 382.8 C438.68 383.13 440.97 383.58 442.7 384.2 C444.43 384.82 445.77 385.43 447.3 386.5 C448.83 387.57 450.55 389.05 451.9 390.6 C453.25 392.15 454.43 393.98 455.4 395.8 C456.37 397.62 457.03 399.38 457.7 401.5 C458.37 403.62 458.82 406.18 459.4 408.5 C459.98 410.82 460.72 413.28 461.2 415.4 C461.68 417.52 461.9 418.63 462.3 421.2 C462.7 423.77 463.18 428.08 463.6 430.8 C464.02 433.52 464.28 435.13 464.8 437.5 C465.32 439.87 465.98 442.5 466.7 445 C467.42 447.5 468.03 449.9 469.1 452.5 C470.17 455.1 471.67 457.75 473.1 460.6 C474.53 463.45 476.28 466.43 477.7 469.6 C479.12 472.77 480.95 477.93 481.6 479.6 L482.8 484.4 C481.82 484.77 479.42 485.85 476.9 486.6 C474.38 487.35 470.52 488.22 467.7 488.9 C464.88 489.58 462.82 490.2 460 490.7 C457.18 491.2 453.23 491.62 450.8 491.9 C448.37 492.18 446.3 492.32 445.4 492.4 L443.2 492 C442.63 491.57 441.03 490.77 439.8 489.4 C438.57 488.03 437.43 486.07 435.8 483.8 C434.17 481.53 432.12 478.58 430 475.8 C427.88 473.02 425.22 469.8 423.1 467.1 C420.98 464.4 419.23 462.2 417.3 459.6 C415.37 457 413.32 454 411.5 451.5 C409.68 449 407.98 446.85 406.4 444.6 C404.82 442.35 403.32 440.37 402 438 C400.68 435.63 399.67 433.2 398.5 430.4 C397.33 427.6 396.17 424.08 395 421.2 C393.83 418.32 392.37 415.22 391.5 413.1 C390.63 410.98 389.88 410.33 389.8 408.5 C389.72 406.67 390.33 404.22 391 402.1 C391.67 399.98 392.75 397.72 393.8 395.8 C394.85 393.88 396.72 391.47 397.3 390.6 Z" fill="none" stroke="#111" stroke-width="1.5" stroke-linejoin="round"/>
<circle cx="420.5" cy="408.2" r="16.9" fill="#ffffff" stroke="#333" stroke-width="0.75"/>
<text x="419.4" y="413.3" font-size="19.5" text-anchor="middle" fill="#111" stroke="#111" stroke-width="0.55" font-family='"Liberation Serif", "DejaVu Serif", serif'>α</text>
<text x="360.6" y="432.2" font-size="10.6" fill="#9b8c86" stroke="#9b8c86" stroke-width="0.32" text-anchor="start" font-weight="bold" >VGCC</text>
<text x="426.6" y="430" font-size="7.4" fill="#231f20" stroke="#231f20" stroke-width="0.32" text-anchor="start" font-weight="bold" >cAMP</text>
<text x="417.8" y="440.6" font-size="8.9" fill="#231f20" stroke="#231f20" stroke-width="0.32" text-anchor="start" font-weight="bold" >Ca<tspan font-size="6" dy="-2.6">2+</tspan></text>
<text x="429.2" y="454.2" font-size="8.9" fill="#231f20" stroke="#231f20" stroke-width="0.32" text-anchor="start" font-weight="bold" >Na<tspan font-size="6" dy="-2.6">+</tspan></text>
<line x1="395.4" y1="433.7" x2="406" y2="429.8" stroke="#857e79" stroke-width="3.4" stroke-linecap="butt"/>
<line x1="398.3" y1="441.3" x2="408.8" y2="436.9" stroke="#857e79" stroke-width="3.4" stroke-linecap="butt"/>
<line x1="393.1" y1="439.5" x2="409.09" y2="434.04" stroke="#111" stroke-width="1.7" stroke-linecap="butt"/>
<polygon points="414.2,432.3 409.96,436.6 408.22,431.49" fill="#111"/>
<line x1="405.2" y1="452.3" x2="416.6" y2="447.6" stroke="#86c440" stroke-width="2.9" stroke-linecap="butt"/>
<line x1="410.6" y1="459.3" x2="421.1" y2="454.3" stroke="#86c440" stroke-width="2.9" stroke-linecap="butt"/>
<line x1="406.5" y1="457" x2="422.14" y2="448.64" stroke="#111" stroke-width="1.7" stroke-linecap="butt"/>
<polygon points="426.9,446.1 423.41,451.03 420.86,446.26" fill="#111"/>
<circle cx="457.6" cy="428.8" r="7.6" fill="#736a65" stroke="none" stroke-width="0.6"/>
<text x="457.6" y="431.8" font-size="8.2" fill="#f3f1f0" stroke="#f3f1f0" stroke-width="0.32" text-anchor="middle" font-weight="normal" >AC</text>
<circle cx="456.9" cy="458.8" r="8.3" fill="#dbd5d2" stroke="none" stroke-width="0.6"/>
<text x="456" y="462.6" font-size="9.5" fill="#f7f6f5" stroke="#f7f6f5" stroke-width="0.32" text-anchor="middle" font-weight="normal" >G<tspan font-size="5.5" dy="1.8">i</tspan></text>
<text x="480.2" y="449" font-size="10.8" fill="#d2c8c4" stroke="#d2c8c4" stroke-width="0.32" text-anchor="start" font-weight="bold" >5HT<tspan font-size="7" dy="2.2">1F</tspan></text>
<defs><linearGradient id="ga" x1="0" y1="0" x2="0" y2="1"><stop offset="0" stop-color="#8ec64a"/><stop offset="1" stop-color="#6aa83a"/></linearGradient></defs>
<path d="M383 501.8 C381.55 501.48 377.03 501.18 374.3 499.9 C371.57 498.62 368.85 496.52 366.6 494.1 C364.35 491.68 361.83 487.97 360.8 485.4 C359.77 482.83 359.92 481.1 360.4 478.7 C360.88 476.3 362.02 473.42 363.7 471 C365.38 468.58 367.93 465.82 370.5 464.2 C373.07 462.58 377.67 461.78 379.1 461.3 L378.2 457.5 L385.9 462.7 L380.5 469.0 L379.7 465.6 C378.65 465.92 375.42 466.28 373.4 467.5 C371.38 468.72 369.05 470.88 367.6 472.9 C366.15 474.92 365.03 477.52 364.7 479.6 C364.37 481.68 364.48 483.3 365.6 485.4 C366.72 487.5 368.5 490.43 371.4 492.2 C374.3 493.97 381.07 495.37 383 496 Z" fill="url(#ga)" stroke="#5e9a33" stroke-width="0.7" stroke-linejoin="round"/>
<text x="386.6" y="471.2" font-size="11.2" font-weight="bold" fill="#8cc63f" stroke="#8cc63f" stroke-width="0.2">GluR<tspan font-size="7" dy="2.2">2/3</tspan></text>
<text x="386.6" y="503.2" font-size="12.1" fill="#8cc63f" stroke="#8cc63f" stroke-width="0.32" text-anchor="start" font-weight="bold" >Glutamate</text>
<circle cx="397.2" cy="450.4" r="1.6" fill="#8cc63f" stroke="none" stroke-width="0.6"/>
<circle cx="393.8" cy="454.8" r="1.6" fill="#8cc63f" stroke="none" stroke-width="0.6"/>
<circle cx="396.6" cy="457" r="1.6" fill="#8cc63f" stroke="none" stroke-width="0.6"/>
<circle cx="401.4" cy="456.6" r="1.6" fill="#8cc63f" stroke="none" stroke-width="0.6"/>
<circle cx="404" cy="453" r="1.6" fill="#8cc63f" stroke="none" stroke-width="0.6"/>
<circle cx="399" cy="461" r="1.6" fill="#8cc63f" stroke="none" stroke-width="0.6"/>
<circle cx="403.6" cy="459.8" r="1.6" fill="#8cc63f" stroke="none" stroke-width="0.6"/>
<circle cx="371.8" cy="475" r="1.6" fill="#8cc63f" stroke="none" stroke-width="0.6"/>
<circle cx="381" cy="474.6" r="1.6" fill="#8cc63f" stroke="none" stroke-width="0.6"/>
<circle cx="385.8" cy="472.7" r="1.6" fill="#8cc63f" stroke="none" stroke-width="0.6"/>
<circle cx="400.3" cy="476.2" r="1.6" fill="#8cc63f" stroke="none" stroke-width="0.6"/>
<circle cx="365.7" cy="478.8" r="1.6" fill="#8cc63f" stroke="none" stroke-width="0.6"/>
<circle cx="375.4" cy="478.1" r="1.6" fill="#8cc63f" stroke="none" stroke-width="0.6"/>
<circle cx="380.1" cy="478.8" r="1.6" fill="#8cc63f" stroke="none" stroke-width="0.6"/>
<circle cx="390.5" cy="477.2" r="1.6" fill="#8cc63f" stroke="none" stroke-width="0.6"/>
<circle cx="395.1" cy="479.3" r="1.6" fill="#8cc63f" stroke="none" stroke-width="0.6"/>
<circle cx="405.2" cy="479.3" r="1.6" fill="#8cc63f" stroke="none" stroke-width="0.6"/>
<circle cx="410.4" cy="480.2" r="1.6" fill="#8cc63f" stroke="none" stroke-width="0.6"/>
<circle cx="414.2" cy="480.2" r="1.6" fill="#8cc63f" stroke="none" stroke-width="0.6"/>
<circle cx="369.7" cy="481" r="1.6" fill="#8cc63f" stroke="none" stroke-width="0.6"/>
<circle cx="385.3" cy="480.2" r="1.6" fill="#8cc63f" stroke="none" stroke-width="0.6"/>
<circle cx="389.6" cy="481.9" r="1.6" fill="#8cc63f" stroke="none" stroke-width="0.6"/>
<circle cx="399.6" cy="480.7" r="1.6" fill="#8cc63f" stroke="none" stroke-width="0.6"/>
<circle cx="404.3" cy="481.9" r="1.6" fill="#8cc63f" stroke="none" stroke-width="0.6"/>
<circle cx="419" cy="481" r="1.6" fill="#8cc63f" stroke="none" stroke-width="0.6"/>
<circle cx="423.3" cy="481.9" r="1.6" fill="#8cc63f" stroke="none" stroke-width="0.6"/>
<circle cx="426.8" cy="482.8" r="1.6" fill="#8cc63f" stroke="none" stroke-width="0.6"/>
<circle cx="431.1" cy="483.6" r="1.6" fill="#8cc63f" stroke="none" stroke-width="0.6"/>
<circle cx="435.4" cy="482.4" r="1.6" fill="#8cc63f" stroke="none" stroke-width="0.6"/>
<circle cx="367.1" cy="484.1" r="1.6" fill="#8cc63f" stroke="none" stroke-width="0.6"/>
<circle cx="377.5" cy="483.1" r="1.6" fill="#8cc63f" stroke="none" stroke-width="0.6"/>
<circle cx="393.9" cy="484.5" r="1.6" fill="#8cc63f" stroke="none" stroke-width="0.6"/>
<circle cx="399.1" cy="485.4" r="1.6" fill="#8cc63f" stroke="none" stroke-width="0.6"/>
<circle cx="409" cy="484.1" r="1.6" fill="#8cc63f" stroke="none" stroke-width="0.6"/>
<circle cx="413.8" cy="484.5" r="1.6" fill="#8cc63f" stroke="none" stroke-width="0.6"/>
<circle cx="421.6" cy="484.5" r="1.6" fill="#8cc63f" stroke="none" stroke-width="0.6"/>
<circle cx="425.9" cy="485.4" r="1.6" fill="#8cc63f" stroke="none" stroke-width="0.6"/>
<circle cx="431.1" cy="486.2" r="1.6" fill="#8cc63f" stroke="none" stroke-width="0.6"/>
<circle cx="433.7" cy="484.5" r="1.6" fill="#8cc63f" stroke="none" stroke-width="0.6"/>
<circle cx="372.3" cy="486.2" r="1.6" fill="#8cc63f" stroke="none" stroke-width="0.6"/>
<circle cx="387" cy="486.2" r="1.6" fill="#8cc63f" stroke="none" stroke-width="0.6"/>
<circle cx="391.3" cy="488" r="1.6" fill="#8cc63f" stroke="none" stroke-width="0.6"/>
<circle cx="396.5" cy="488.8" r="1.6" fill="#8cc63f" stroke="none" stroke-width="0.6"/>
<circle cx="401.7" cy="488" r="1.6" fill="#8cc63f" stroke="none" stroke-width="0.6"/>
<circle cx="411.2" cy="488" r="1.6" fill="#8cc63f" stroke="none" stroke-width="0.6"/>
<circle cx="415.6" cy="488.8" r="1.6" fill="#8cc63f" stroke="none" stroke-width="0.6"/>
<circle cx="420.7" cy="487.1" r="1.6" fill="#8cc63f" stroke="none" stroke-width="0.6"/>
<circle cx="425.1" cy="488.8" r="1.6" fill="#8cc63f" stroke="none" stroke-width="0.6"/>
<circle cx="377.5" cy="488" r="1.6" fill="#8cc63f" stroke="none" stroke-width="0.6"/>
<circle cx="406.9" cy="490.5" r="1.6" fill="#8cc63f" stroke="none" stroke-width="0.6"/>
<circle cx="415.6" cy="491.4" r="1.6" fill="#8cc63f" stroke="none" stroke-width="0.6"/>
<circle cx="419.9" cy="490.5" r="1.6" fill="#8cc63f" stroke="none" stroke-width="0.6"/>
<circle cx="448.9" cy="498" r="1.6" fill="#8cc63f" stroke="none" stroke-width="0.6"/>
<circle cx="428.7" cy="511" r="1.6" fill="#8cc63f" stroke="none" stroke-width="0.6"/>
<circle cx="476.8" cy="506.6" r="1.6" fill="#8cc63f" stroke="none" stroke-width="0.6"/>
<circle cx="499" cy="515.3" r="1.6" fill="#8cc63f" stroke="none" stroke-width="0.6"/>
<defs><radialGradient id="gd" cx="0.4" cy="0.4" r="0.65"><stop offset="0" stop-color="#66ab36"/><stop offset="0.55" stop-color="#4b8b2a"/><stop offset="1" stop-color="#2f6018"/></radialGradient></defs>
<circle cx="434.3" cy="464.5" r="2.35" fill="url(#gd)"/>
<circle cx="442.5" cy="466.8" r="2.35" fill="url(#gd)"/>
<circle cx="435.8" cy="471.7" r="2.35" fill="url(#gd)"/>
<circle cx="444.2" cy="473.5" r="2.35" fill="url(#gd)"/>
<circle cx="452.5" cy="477.2" r="2.35" fill="url(#gd)"/>
<circle cx="437.5" cy="482.1" r="2.35" fill="url(#gd)"/>
<circle cx="454.2" cy="483.8" r="2.35" fill="url(#gd)"/>
<circle cx="466" cy="481.2" r="2.35" fill="url(#gd)"/>
<circle cx="473" cy="482" r="2.35" fill="url(#gd)"/>
<circle cx="479.9" cy="482.6" r="2.35" fill="url(#gd)"/>
<circle cx="447.3" cy="489.6" r="2.35" fill="url(#gd)"/>
<circle cx="459.8" cy="488" r="2.35" fill="url(#gd)"/>
<circle cx="418.5" cy="485.2" r="2.35" fill="url(#gd)"/>
<circle cx="430" cy="490.2" r="2.35" fill="url(#gd)"/>
<circle cx="460.8" cy="492.6" r="2.35" fill="url(#gd)"/>
<circle cx="463.9" cy="495.8" r="2.35" fill="url(#gd)"/>
<circle cx="459.5" cy="497.2" r="2.35" fill="url(#gd)"/>
<circle cx="466.2" cy="499.9" r="2.35" fill="url(#gd)"/>
<circle cx="462" cy="501.4" r="2.35" fill="url(#gd)"/>
<circle cx="457.6" cy="500.8" r="2.35" fill="url(#gd)"/>
<circle cx="455.1" cy="504.7" r="2.35" fill="url(#gd)"/>
<circle cx="460.5" cy="505.3" r="2.35" fill="url(#gd)"/>
<circle cx="466.2" cy="504.1" r="2.35" fill="url(#gd)"/>
<circle cx="471.1" cy="504.7" r="2.35" fill="url(#gd)"/>
<circle cx="463.4" cy="508.5" r="2.35" fill="url(#gd)"/>
<circle cx="468.2" cy="508.5" r="2.35" fill="url(#gd)"/>
<circle cx="458.5" cy="509.1" r="2.35" fill="url(#gd)"/>
<circle cx="472" cy="508.5" r="2.35" fill="url(#gd)"/>
<circle cx="482" cy="505.7" r="2.35" fill="url(#gd)"/>
<circle cx="486.5" cy="505.7" r="2.35" fill="url(#gd)"/>
<circle cx="477.8" cy="509.5" r="2.35" fill="url(#gd)"/>
<circle cx="484.5" cy="509.9" r="2.35" fill="url(#gd)"/>
<circle cx="489.7" cy="510.5" r="2.35" fill="url(#gd)"/>
<circle cx="454.3" cy="510.5" r="2.35" fill="url(#gd)"/>
<circle cx="448.9" cy="509.1" r="2.35" fill="url(#gd)"/>
<circle cx="443.5" cy="509.9" r="2.35" fill="url(#gd)"/>
<circle cx="438.3" cy="510.5" r="2.35" fill="url(#gd)"/>
<circle cx="433.5" cy="511.4" r="2.35" fill="url(#gd)"/>
<circle cx="423.9" cy="513.8" r="2.35" fill="url(#gd)"/>
<circle cx="432.5" cy="514.6" r="2.35" fill="url(#gd)"/>
<circle cx="428.7" cy="520.7" r="2.35" fill="url(#gd)"/>
<circle cx="437" cy="516.3" r="2.35" fill="url(#gd)"/>
<circle cx="442.2" cy="517.2" r="2.35" fill="url(#gd)"/>
<circle cx="448.9" cy="514.9" r="2.35" fill="url(#gd)"/>
<circle cx="454.7" cy="515.7" r="2.35" fill="url(#gd)"/>
<circle cx="459.5" cy="512.4" r="2.35" fill="url(#gd)"/>
<circle cx="460.1" cy="517.6" r="2.35" fill="url(#gd)"/>
<circle cx="466.2" cy="513" r="2.35" fill="url(#gd)"/>
<circle cx="471.6" cy="518.2" r="2.35" fill="url(#gd)"/>
<circle cx="475.9" cy="513" r="2.35" fill="url(#gd)"/>
<circle cx="482.6" cy="517.2" r="2.35" fill="url(#gd)"/>
<circle cx="494.2" cy="517.2" r="2.35" fill="url(#gd)"/>
<circle cx="504.4" cy="513.8" r="2.35" fill="url(#gd)"/>
<circle cx="502.9" cy="517.8" r="2.35" fill="url(#gd)"/>
<circle cx="507.7" cy="517.2" r="2.35" fill="url(#gd)"/>
<circle cx="512.1" cy="518.8" r="2.35" fill="url(#gd)"/>
<circle cx="498" cy="521.5" r="2.35" fill="url(#gd)"/>
<circle cx="504.4" cy="525.9" r="2.35" fill="url(#gd)"/>
<circle cx="494.2" cy="527.2" r="2.35" fill="url(#gd)"/>
<circle cx="425.4" cy="527.8" r="2.35" fill="url(#gd)"/>
<circle cx="420" cy="529.7" r="2.35" fill="url(#gd)"/>
<circle cx="408.4" cy="516.2" r="2.35" fill="url(#gd)"/>
<circle cx="414.6" cy="520.2" r="2.35" fill="url(#gd)"/>
<circle cx="378.6" cy="527" r="2.35" fill="url(#gd)"/>
<circle cx="387.6" cy="527.8" r="2.35" fill="url(#gd)"/>
<circle cx="397.8" cy="527.8" r="2.35" fill="url(#gd)"/>
<circle cx="408" cy="527.4" r="2.35" fill="url(#gd)"/>
<circle cx="375.4" cy="533.8" r="2.35" fill="url(#gd)"/>
<circle cx="385" cy="533.6" r="2.35" fill="url(#gd)"/>
<circle cx="400" cy="536" r="2.35" fill="url(#gd)"/>
<circle cx="410" cy="536.2" r="2.35" fill="url(#gd)"/>
<text x="459.6" y="531.8" font-size="12.1" fill="#4d8c2b" stroke="#4d8c2b" stroke-width="0.32" text-anchor="middle" font-weight="bold" >Glucagon</text>
</g>
</svg>
</body>
</html>
